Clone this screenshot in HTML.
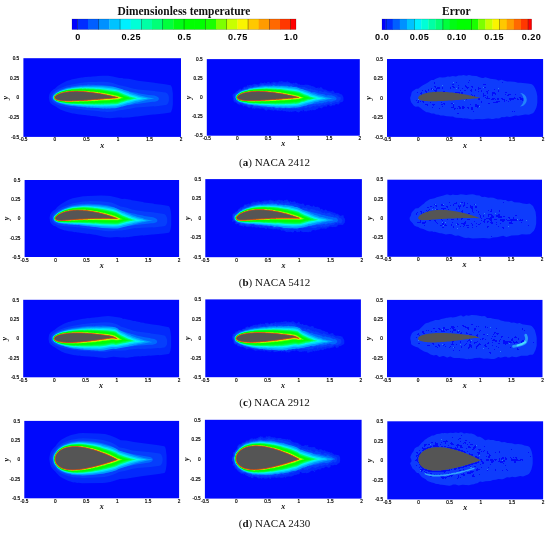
<!DOCTYPE html>
<html><head><meta charset="utf-8"><title>Figure</title>
<style>
html,body{margin:0;padding:0;background:#fff}
svg{display:block}
.tk text{font-family:"Liberation Sans",sans-serif;font-size:4.7px;fill:#000;stroke:#000;stroke-width:0.18px}
.ax{font-family:"Liberation Serif",serif;font-style:italic;font-weight:bold;font-size:8px;fill:#111}
.ttl{font-family:"Liberation Serif",serif;font-weight:bold;font-size:11.45px;fill:#111}
.cbl{font-family:"Liberation Sans",sans-serif;font-weight:bold;font-size:9.1px;letter-spacing:0.5px;fill:#000}
.cap{font-family:"Liberation Serif",serif;font-size:11.0px;fill:#111}
</style></head><body>
<svg width="550" height="534" viewBox="0 0 550 534">
<rect width="550" height="534" fill="#fff"/>
<rect x="72.00" y="19.0" width="5.63" height="10.5" fill="#0000ff"/>
<rect x="77.33" y="19.0" width="10.97" height="10.5" fill="#002dff"/>
<rect x="88.00" y="19.0" width="10.97" height="10.5" fill="#005fff"/>
<rect x="98.67" y="19.0" width="10.97" height="10.5" fill="#0091ff"/>
<rect x="109.33" y="19.0" width="10.97" height="10.5" fill="#00c3ff"/>
<rect x="120.00" y="19.0" width="10.97" height="10.5" fill="#00f0ff"/>
<rect x="130.67" y="19.0" width="10.97" height="10.5" fill="#00ffd7"/>
<rect x="141.33" y="19.0" width="10.97" height="10.5" fill="#00ffa5"/>
<rect x="152.00" y="19.0" width="10.97" height="10.5" fill="#00ff78"/>
<rect x="162.67" y="19.0" width="10.97" height="10.5" fill="#00ff3c"/>
<rect x="173.33" y="19.0" width="10.97" height="10.5" fill="#00fc14"/>
<rect x="184.00" y="19.0" width="10.97" height="10.5" fill="#00ff00"/>
<rect x="194.67" y="19.0" width="10.97" height="10.5" fill="#00ff00"/>
<rect x="205.33" y="19.0" width="10.97" height="10.5" fill="#19ff00"/>
<rect x="216.00" y="19.0" width="10.97" height="10.5" fill="#7dff00"/>
<rect x="226.67" y="19.0" width="10.97" height="10.5" fill="#c8ff00"/>
<rect x="237.33" y="19.0" width="10.97" height="10.5" fill="#faf500"/>
<rect x="248.00" y="19.0" width="10.97" height="10.5" fill="#ffc800"/>
<rect x="258.67" y="19.0" width="10.97" height="10.5" fill="#ff9b00"/>
<rect x="269.33" y="19.0" width="10.97" height="10.5" fill="#ff6900"/>
<rect x="280.00" y="19.0" width="10.97" height="10.5" fill="#ff3700"/>
<rect x="290.67" y="19.0" width="5.33" height="10.5" fill="#ff0000"/>
<rect x="77.10" y="19.0" width="0.6" height="10.5" fill="#000" opacity="0.55"/>
<rect x="98.43" y="19.0" width="0.6" height="10.5" fill="#000" opacity="0.55"/>
<rect x="119.76" y="19.0" width="0.6" height="10.5" fill="#000" opacity="0.55"/>
<rect x="141.09" y="19.0" width="0.6" height="10.5" fill="#000" opacity="0.55"/>
<rect x="162.42" y="19.0" width="0.6" height="10.5" fill="#000" opacity="0.55"/>
<rect x="183.75" y="19.0" width="0.6" height="10.5" fill="#000" opacity="0.55"/>
<rect x="205.08" y="19.0" width="0.6" height="10.5" fill="#000" opacity="0.55"/>
<rect x="226.41" y="19.0" width="0.6" height="10.5" fill="#000" opacity="0.55"/>
<rect x="247.74" y="19.0" width="0.6" height="10.5" fill="#000" opacity="0.55"/>
<rect x="269.07" y="19.0" width="0.6" height="10.5" fill="#000" opacity="0.55"/>
<rect x="290.40" y="19.0" width="0.6" height="10.5" fill="#000" opacity="0.55"/>
<rect x="72.00" y="19.00" width="224.00" height="10.50" fill="none" stroke="#000" stroke-opacity="0.35" stroke-width="0.5"/>
<text class="ttl" x="184.0" y="14.6" text-anchor="middle">Dimensionless temperature</text>
<text class="cbl" x="78.0" y="40.2" text-anchor="middle">0</text>
<text class="cbl" x="131.3" y="40.2" text-anchor="middle">0.25</text>
<text class="cbl" x="184.6" y="40.2" text-anchor="middle">0.5</text>
<text class="cbl" x="237.9" y="40.2" text-anchor="middle">0.75</text>
<text class="cbl" x="291.2" y="40.2" text-anchor="middle">1.0</text>
<rect x="382.00" y="19.0" width="3.86" height="10.8" fill="#0000ff"/>
<rect x="385.56" y="19.0" width="7.43" height="10.8" fill="#002dff"/>
<rect x="392.69" y="19.0" width="7.43" height="10.8" fill="#005fff"/>
<rect x="399.82" y="19.0" width="7.43" height="10.8" fill="#0091ff"/>
<rect x="406.95" y="19.0" width="7.43" height="10.8" fill="#00c3ff"/>
<rect x="414.08" y="19.0" width="7.43" height="10.8" fill="#00f0ff"/>
<rect x="421.21" y="19.0" width="7.43" height="10.8" fill="#00ffd7"/>
<rect x="428.34" y="19.0" width="7.43" height="10.8" fill="#00ffa5"/>
<rect x="435.46" y="19.0" width="7.43" height="10.8" fill="#00ff78"/>
<rect x="442.59" y="19.0" width="7.43" height="10.8" fill="#00ff3c"/>
<rect x="449.72" y="19.0" width="7.43" height="10.8" fill="#00fc14"/>
<rect x="456.85" y="19.0" width="7.43" height="10.8" fill="#00ff00"/>
<rect x="463.98" y="19.0" width="7.43" height="10.8" fill="#00ff00"/>
<rect x="471.11" y="19.0" width="7.43" height="10.8" fill="#19ff00"/>
<rect x="478.24" y="19.0" width="7.43" height="10.8" fill="#7dff00"/>
<rect x="485.36" y="19.0" width="7.43" height="10.8" fill="#c8ff00"/>
<rect x="492.49" y="19.0" width="7.43" height="10.8" fill="#faf500"/>
<rect x="499.62" y="19.0" width="7.43" height="10.8" fill="#ffc800"/>
<rect x="506.75" y="19.0" width="7.43" height="10.8" fill="#ff9b00"/>
<rect x="513.88" y="19.0" width="7.43" height="10.8" fill="#ff6900"/>
<rect x="521.01" y="19.0" width="7.43" height="10.8" fill="#ff3700"/>
<rect x="528.14" y="19.0" width="3.56" height="10.8" fill="#ff0000"/>
<rect x="385.80" y="19.0" width="0.6" height="10.8" fill="#000" opacity="0.55"/>
<rect x="414.20" y="19.0" width="0.6" height="10.8" fill="#000" opacity="0.55"/>
<rect x="442.60" y="19.0" width="0.6" height="10.8" fill="#000" opacity="0.55"/>
<rect x="471.00" y="19.0" width="0.6" height="10.8" fill="#000" opacity="0.55"/>
<rect x="499.40" y="19.0" width="0.6" height="10.8" fill="#000" opacity="0.55"/>
<rect x="527.80" y="19.0" width="0.6" height="10.8" fill="#000" opacity="0.55"/>
<rect x="382.00" y="19.00" width="149.70" height="10.80" fill="none" stroke="#000" stroke-opacity="0.35" stroke-width="0.5"/>
<text class="ttl" x="456.3" y="14.6" text-anchor="middle">Error</text>
<text class="cbl" x="382.2" y="40.2" text-anchor="middle">0.0</text>
<text class="cbl" x="419.5" y="40.2" text-anchor="middle">0.05</text>
<text class="cbl" x="456.9" y="40.2" text-anchor="middle">0.10</text>
<text class="cbl" x="494.2" y="40.2" text-anchor="middle">0.15</text>
<text class="cbl" x="531.5" y="40.2" text-anchor="middle">0.20</text>
<rect x="23.4" y="58.2" width="157.6" height="78.7" fill="#0008fc"/>
<path d="M108.1 75.8L102.2 75.7L97.8 76.0L96.3 76.3L92.1 76.5L90.7 76.7L88.1 76.7L86.4 77.0L85.4 76.9L82.4 77.5L81.4 77.4L71.3 79.5L70.3 80.0L68.3 80.5L66.2 81.2L62.6 83.1L57.7 86.1L55.1 88.5L53.3 89.4L51.0 91.5L49.9 93.2L49.4 94.3L48.8 97.6L49.6 101.6L50.8 103.4L52.7 105.0L54.9 106.0L60.2 109.4L65.4 111.6L72.7 113.4L73.7 113.4L79.0 114.5L80.0 114.4L83.8 115.1L84.8 115.0L87.9 115.6L88.9 115.5L91.3 115.9L92.3 115.9L94.5 116.3L95.5 116.3L100.6 117.3L101.6 117.3L103.4 117.7L104.4 117.7L106.8 118.1L107.9 118.0L109.9 118.2L118.2 117.4L121.6 117.5L122.6 117.7L127.9 117.5L128.9 117.6L136.1 116.4L137.2 116.5L150.7 114.7L153.7 114.4L154.7 114.6L164.0 113.5L170.5 112.5L171.3 111.6L172.3 108.4L172.9 103.9L172.9 93.7L172.1 88.3L171.5 86.4L170.7 85.3L163.6 84.1L155.5 83.1L154.5 82.8L138.0 80.8L137.0 80.4L129.7 79.1L128.5 78.7L123.4 78.4L122.4 78.1L119.4 78.1L112.9 76.6L108.1 75.8Z" fill="#0329fc"/>
<path d="M102.8 81.7L97.8 81.7L96.3 81.9L92.1 81.9L90.7 82.1L88.1 82.1L86.4 82.3L85.4 82.3L82.4 82.8L81.4 82.7L71.3 84.4L70.3 84.9L68.3 85.2L66.2 85.8L58.8 88.7L55.5 90.7L53.5 92.3L52.5 93.4L51.4 95.5L51.0 97.6L51.6 100.3L52.3 101.4L53.7 102.8L56.1 104.2L60.2 105.8L62.0 106.3L64.4 106.7L65.4 107.1L72.7 108.4L73.7 108.3L79.0 109.2L80.0 109.1L83.8 109.8L84.8 109.7L87.9 110.2L88.9 110.2L91.3 110.5L92.3 110.5L97.6 111.1L98.6 111.1L100.6 111.4L101.6 111.4L103.4 111.7L104.4 111.6L106.8 111.9L112.3 111.7L113.3 111.4L115.1 111.3L118.2 110.5L121.6 110.1L122.6 110.1L127.9 109.1L128.9 109.1L136.1 107.5L137.2 107.6L153.7 106.2L154.7 106.4L165.6 105.1L166.7 104.7L167.5 103.9L168.1 103.0L168.7 101.4L168.9 100.5L168.9 98.8L168.9 97.1L168.7 96.2L168.1 94.6L167.5 93.7L166.7 93.0L165.8 92.6L155.5 91.3L154.5 91.0L138.0 89.6L137.0 89.3L133.9 88.7L129.9 87.8L127.7 86.9L123.4 86.1L122.4 85.7L119.4 85.2L112.9 82.9L108.1 82.1L102.8 81.7Z" fill="#063efc"/>
<path d="M97.8 84.7L96.3 84.9L93.9 84.7L90.7 84.8L88.1 84.6L86.4 84.9L85.4 84.7L82.4 85.2L81.4 85.1L71.3 86.5L70.3 86.9L68.3 87.2L66.2 87.7L59.4 90.2L56.1 92.1L54.9 93.0L53.5 94.5L52.6 96.3L52.4 97.6L52.8 99.6L53.3 100.3L54.3 101.3L56.7 102.8L60.2 104.1L62.0 104.6L64.4 104.9L65.4 105.3L72.7 106.3L73.7 106.2L79.0 106.9L80.0 106.8L83.8 107.4L84.8 107.2L87.9 107.7L88.9 107.5L91.3 107.8L92.3 107.7L94.5 108.0L95.5 107.9L97.6 108.1L98.6 108.0L100.6 108.3L101.6 108.2L103.4 108.4L104.4 108.2L106.8 108.4L112.3 108.1L113.3 107.8L115.1 107.6L118.2 106.8L121.6 106.2L122.6 106.2L127.9 105.3L128.9 105.3L136.1 103.9L137.2 104.0L152.5 101.7L154.7 101.8L157.4 100.9L158.2 100.3L158.8 99.5L158.8 98.1L158.2 97.3L157.0 96.5L154.5 95.6L148.9 94.9L138.2 93.3L137.0 92.8L129.7 91.4L128.7 91.0L123.4 90.0L122.4 89.6L119.4 89.0L113.9 86.8L110.5 86.0L102.2 84.9L97.8 84.7Z" fill="#0069ff"/>
<path d="M101.2 85.9L92.1 85.8L90.7 85.9L88.1 85.8L86.4 86.0L85.4 85.9L82.4 86.3L81.4 86.2L71.3 87.5L70.3 87.9L68.3 88.1L66.2 88.6L59.8 90.9L56.3 93.0L53.5 95.5L53.0 96.5L52.8 97.6L53.0 98.6L53.3 99.3L53.9 100.1L57.0 102.1L60.2 103.3L62.0 103.8L64.4 104.2L65.4 104.7L72.7 105.9L73.7 105.8L79.0 106.6L80.0 106.5L83.8 107.1L84.8 107.0L87.9 107.4L88.9 107.3L91.3 107.7L92.3 107.6L94.5 107.9L95.5 107.8L100.6 108.3L101.6 108.3L103.4 108.4L104.4 108.3L106.8 108.5L107.9 108.3L109.9 108.4L110.9 108.3L115.1 108.2L118.6 107.6L121.6 106.6L122.6 106.5L127.9 104.8L128.9 104.7L136.1 102.5L137.2 102.4L148.1 99.6L154.3 98.6L147.3 97.3L138.2 95.0L137.0 94.4L129.7 92.2L128.7 91.6L123.4 89.8L122.4 89.3L116.3 87.4L112.9 86.8L101.2 85.9Z" fill="#009cff"/>
<path d="M92.1 86.9L90.7 87.1L88.1 86.9L86.4 87.0L85.4 86.9L82.4 87.2L81.4 87.1L71.3 88.2L70.3 88.5L68.3 88.8L66.2 89.2L60.0 91.3L56.5 93.2L55.3 94.1L53.9 95.6L53.3 96.8L53.2 97.6L53.3 98.3L53.7 99.3L54.5 100.1L57.1 101.8L60.2 102.8L62.0 103.3L64.4 103.6L65.4 104.0L72.7 105.1L73.7 105.0L79.0 105.6L80.0 105.5L83.8 106.0L84.8 105.8L87.9 106.2L88.9 106.1L91.3 106.4L92.3 106.3L94.5 106.5L95.5 106.4L97.6 106.7L98.6 106.5L100.6 106.8L101.6 106.7L103.4 106.8L104.4 106.6L106.8 106.8L107.9 106.6L112.3 106.6L113.3 106.4L115.1 106.4L117.8 105.9L121.6 104.9L122.6 104.8L127.9 103.1L128.9 103.0L136.1 100.8L137.2 100.8L143.4 99.3L148.1 98.6L143.6 97.8L138.0 96.5L137.0 96.0L129.7 93.9L128.7 93.3L123.4 91.6L122.4 91.0L115.3 88.9L112.9 88.5L102.2 87.3L92.1 86.9Z" fill="#00d2ff"/>
<path d="M88.3 87.7L86.4 87.8L85.4 87.7L82.4 87.9L81.4 87.8L71.3 88.7L70.3 89.0L68.3 89.2L67.2 89.6L66.2 89.7L62.6 90.7L60.0 91.6L57.5 92.9L55.3 94.4L54.1 95.8L53.6 96.8L53.5 97.6L53.8 98.8L54.6 99.8L57.3 101.5L62.0 102.9L64.4 103.2L65.4 103.6L72.7 104.5L73.7 104.3L79.0 104.9L80.0 104.7L83.8 105.1L84.8 105.0L87.9 105.3L88.9 105.1L91.3 105.4L92.3 105.3L94.5 105.5L95.5 105.3L97.6 105.6L98.6 105.4L100.6 105.6L101.6 105.5L103.4 105.6L104.4 105.4L106.8 105.5L107.9 105.4L109.9 105.5L110.9 105.3L115.1 105.1L118.8 104.4L121.6 103.5L122.6 103.4L127.9 101.7L128.9 101.6L136.5 99.4L137.2 99.5L142.4 98.6L137.6 97.7L137.0 97.3L129.9 95.3L128.7 94.7L123.4 92.9L122.4 92.4L114.7 90.0L102.2 88.4L97.8 88.0L96.3 88.2L93.9 87.9L90.7 87.9L88.3 87.7Z" fill="#00faf0"/>
<path d="M89.9 88.5L88.1 88.3L86.4 88.4L85.4 88.2L82.4 88.5L81.4 88.3L71.3 89.1L70.3 89.4L68.3 89.6L67.4 89.9L66.2 90.0L60.2 91.8L56.7 93.6L55.5 94.5L54.3 95.9L53.8 97.0L53.8 98.1L54.1 99.0L54.7 99.7L57.3 101.3L62.0 102.6L64.6 102.9L65.4 103.2L72.7 104.0L73.7 103.8L79.0 104.3L80.0 104.1L83.8 104.5L84.8 104.3L87.9 104.6L88.9 104.4L91.3 104.6L92.3 104.5L94.5 104.7L95.5 104.5L100.6 104.7L101.6 104.5L103.4 104.7L104.4 104.5L109.9 104.5L110.9 104.2L115.1 104.2L117.8 103.9L121.6 102.4L122.6 102.3L127.9 100.5L128.9 100.4L133.1 99.2L137.0 98.3L129.5 96.4L128.7 95.9L123.4 94.1L122.4 93.5L119.4 92.3L118.4 91.8L116.7 91.3L102.2 89.2L97.8 88.8L96.3 88.9L93.9 88.6L89.9 88.5Z" fill="#00ff78"/>
<path d="M88.7 89.0L86.4 89.0L85.4 88.8L82.4 89.0L81.4 88.8L71.3 89.5L70.5 89.8L68.3 89.9L67.4 90.2L66.2 90.3L60.2 92.1L59.6 92.5L59.0 92.6L56.7 93.8L55.5 94.7L54.4 96.0L54.0 97.0L54.0 98.1L54.3 99.0L56.1 100.5L57.7 101.2L62.0 102.3L64.6 102.6L65.4 102.9L72.7 103.5L73.7 103.4L79.0 103.8L80.0 103.6L83.8 103.9L84.8 103.7L87.9 103.9L88.9 103.8L94.5 103.9L95.5 103.8L97.6 103.9L98.6 103.7L100.6 103.9L101.6 103.7L103.4 103.8L104.4 103.6L106.8 103.7L107.9 103.5L109.9 103.6L110.9 103.3L115.1 103.2L117.6 102.9L118.8 102.6L121.6 101.5L122.6 101.3L128.1 99.4L128.9 99.4L133.5 98.3L129.3 97.3L128.7 96.9L123.4 95.1L122.4 94.5L119.4 93.3L118.4 92.7L116.5 92.2L102.2 89.9L97.8 89.5L96.3 89.6L93.9 89.2L88.7 89.0Z" fill="#00ff3c"/>
<path d="M88.5 89.5L86.4 89.5L85.4 89.3L82.4 89.4L81.4 89.2L71.3 89.8L70.5 90.1L68.3 90.2L67.4 90.5L66.2 90.6L60.3 92.3L56.8 94.0L55.5 94.9L54.6 96.0L54.1 97.3L54.1 97.8L54.4 98.8L54.9 99.4L56.3 100.4L57.7 101.0L58.4 101.1L60.2 101.7L61.4 101.8L62.0 102.1L64.6 102.3L65.4 102.6L72.7 103.1L73.7 102.9L79.0 103.3L80.0 103.1L83.8 103.3L84.8 103.1L87.9 103.3L88.9 103.1L91.3 103.3L92.3 103.1L94.5 103.2L95.5 103.1L97.6 103.2L98.6 103.0L100.6 103.1L101.6 102.9L103.4 103.0L104.4 102.8L109.9 102.7L113.3 102.3L115.1 102.4L118.6 101.8L121.6 100.6L122.6 100.5L128.5 98.5L128.9 98.7L130.7 98.3L129.1 98.0L128.7 97.6L123.4 96.0L122.4 95.3L119.4 94.1L118.4 93.5L116.3 93.0L102.2 90.6L97.8 90.1L96.3 90.2L93.9 89.8L90.7 89.7L88.5 89.5Z" fill="#00fc14"/>
<path d="M81.6 89.7L71.3 90.1L70.5 90.4L68.3 90.5L67.6 90.8L66.2 90.8L60.4 92.4L58.0 93.5L55.6 95.0L54.7 96.1L54.2 97.3L54.4 98.6L55.1 99.4L57.5 100.8L59.6 101.2L60.2 101.5L61.4 101.6L62.0 101.9L64.8 102.0L65.4 102.3L72.7 102.7L73.5 102.5L79.0 102.8L79.8 102.6L83.8 102.8L84.8 102.6L87.9 102.8L88.9 102.6L91.3 102.7L92.3 102.5L94.5 102.6L95.5 102.4L97.6 102.5L98.6 102.3L100.6 102.4L101.6 102.2L103.4 102.3L104.4 102.1L109.9 101.9L113.3 101.5L115.1 101.6L118.6 101.0L121.8 99.8L122.6 99.7L126.0 98.6L128.7 98.1L126.2 97.5L123.2 96.6L122.4 96.1L119.4 94.9L118.4 94.3L112.9 93.0L102.2 91.3L97.8 90.7L96.3 90.8L93.9 90.4L90.7 90.3L88.1 89.9L86.2 89.9L85.4 89.7L82.2 89.9L81.6 89.7Z" fill="#00ff00"/>
<path d="M85.8 90.2L82.2 90.3L81.4 90.0L71.3 90.4L70.7 90.7L68.3 90.8L67.6 91.0L66.2 91.1L60.4 92.6L59.8 93.0L59.2 93.1L58.6 93.6L58.0 93.7L56.9 94.2L56.1 95.0L55.7 95.0L54.7 96.3L54.3 97.3L54.3 97.8L54.5 98.6L55.1 99.3L56.3 100.1L57.5 100.6L59.6 101.0L60.2 101.3L61.4 101.4L62.0 101.6L64.8 101.8L65.4 102.1L72.7 102.4L73.5 102.2L79.0 102.4L79.8 102.2L83.8 102.4L84.6 102.1L87.9 102.3L88.7 102.1L91.3 102.2L92.3 102.0L94.5 102.0L95.5 101.8L97.6 101.9L98.6 101.7L100.6 101.8L101.6 101.6L106.8 101.5L107.9 101.2L112.3 101.1L113.3 100.8L115.1 100.9L117.8 100.5L122.0 99.1L122.6 99.2L127.1 98.1L123.0 97.1L122.4 96.6L119.4 95.6L118.4 95.0L112.9 93.7L99.4 91.4L97.8 91.2L96.1 91.3L92.1 90.7L90.5 90.7L88.1 90.3L86.2 90.4L85.8 90.2Z" fill="#00ff00"/>
<path d="M81.6 90.7L71.3 90.8L70.7 91.1L68.3 91.1L67.9 91.4L66.2 91.4L65.8 91.7L64.9 91.7L64.6 92.0L63.8 92.0L63.4 92.3L62.6 92.3L62.2 92.5L60.6 92.8L59.8 93.3L59.4 93.4L58.6 93.9L58.2 93.9L56.9 94.5L56.1 95.2L55.8 95.3L54.9 96.4L54.5 97.6L54.7 98.5L55.2 99.1L57.7 100.5L58.6 100.5L60.2 101.0L61.6 101.1L62.0 101.3L64.8 101.4L65.4 101.7L72.7 101.9L73.3 101.6L79.0 101.8L79.6 101.6L83.8 101.7L84.4 101.4L87.9 101.5L88.5 101.3L91.3 101.3L91.9 101.1L94.5 101.2L95.3 100.9L97.6 101.0L98.4 100.8L103.4 100.6L104.2 100.4L109.9 100.2L110.7 100.0L112.3 100.0L113.1 99.7L115.1 99.8L115.9 99.5L117.8 99.4L122.2 98.1L122.6 98.3L123.6 98.1L122.6 97.8L122.4 97.5L119.1 96.5L118.4 96.1L115.4 95.3L104.4 93.1L103.6 93.1L102.2 92.7L100.0 92.5L99.4 92.2L98.4 92.3L97.8 92.0L95.9 92.1L93.9 91.6L92.7 91.6L92.1 91.4L90.3 91.4L88.1 91.0L86.0 91.0L85.4 90.8L82.0 90.8L81.6 90.7Z" fill="#7dff00"/>
<path d="M85.4 91.2L81.8 91.3L81.4 91.0L71.3 91.1L70.9 91.4L68.3 91.4L67.9 91.7L66.2 91.7L65.8 92.0L65.0 92.0L64.8 92.2L63.8 92.2L63.6 92.5L62.6 92.5L62.4 92.8L61.6 92.8L61.4 93.0L60.6 93.0L60.0 93.5L59.4 93.5L58.8 94.0L58.2 94.0L57.5 94.5L57.1 94.5L56.7 94.8L56.3 95.3L55.9 95.3L54.9 96.5L54.5 97.6L54.7 97.8L54.7 98.3L55.3 99.1L56.5 99.8L57.5 100.1L57.7 100.3L58.8 100.3L59.0 100.6L60.0 100.6L60.2 100.8L61.8 100.8L62.0 101.1L65.0 101.1L65.4 101.4L72.7 101.5L73.1 101.3L79.0 101.3L79.4 101.1L83.8 101.1L84.4 100.9L87.9 100.9L88.5 100.7L91.3 100.7L91.9 100.5L94.5 100.5L95.1 100.3L97.6 100.3L98.2 100.1L103.4 99.9L104.0 99.6L106.8 99.7L107.5 99.4L109.9 99.4L110.5 99.2L112.3 99.2L112.9 98.9L115.1 99.0L115.7 98.7L117.8 98.6L118.2 98.3L118.6 98.4L121.0 97.9L121.0 97.7L119.0 97.3L118.4 96.9L117.4 96.7L115.1 96.0L114.3 95.9L112.9 95.5L112.1 95.5L110.5 95.0L106.2 94.3L104.4 93.8L103.6 93.8L102.2 93.3L101.4 93.3L99.4 92.8L98.4 92.9L97.8 92.6L95.9 92.6L93.9 92.1L92.5 92.1L92.1 91.9L90.1 91.9L89.7 91.7L88.5 91.7L88.1 91.5L85.8 91.5L85.4 91.2Z" fill="#faf500"/>
<path d="M81.4 91.2L71.3 91.2L71.1 91.5L68.3 91.5L68.1 91.7L66.2 91.7L66.0 92.0L65.0 92.0L64.8 92.3L62.6 92.5L62.4 92.8L61.6 92.8L61.4 93.0L60.6 93.0L60.0 93.5L59.4 93.5L58.8 94.0L58.2 94.0L57.5 94.5L57.1 94.5L56.3 95.3L55.9 95.3L54.9 96.5L54.5 97.6L54.7 97.8L54.7 98.3L55.3 99.1L56.5 99.8L56.9 99.8L57.7 100.3L60.0 100.6L60.2 100.8L61.8 100.8L62.0 101.1L65.2 101.1L65.4 101.3L72.7 101.3L72.9 101.1L79.0 101.1L79.2 100.8L83.8 100.8L84.0 100.6L87.9 100.6L88.1 100.3L91.3 100.3L91.5 100.1L94.5 100.1L94.9 99.8L97.6 99.9L98.0 99.6L100.6 99.6L101.0 99.4L103.4 99.4L103.8 99.1L106.8 99.1L107.3 98.9L109.9 98.9L110.3 98.7L112.3 98.7L112.7 98.4L115.1 98.4L115.5 98.2L117.8 98.1L118.5 97.6L118.4 97.3L117.2 97.2L114.9 96.4L114.1 96.4L112.9 95.9L111.9 95.9L110.5 95.4L109.7 95.4L109.3 95.2L107.3 94.9L106.8 94.7L106.0 94.7L105.6 94.4L104.8 94.4L104.4 94.2L103.4 94.2L102.2 93.7L99.8 93.5L99.4 93.2L98.2 93.2L97.8 93.0L95.7 93.0L95.3 92.7L94.1 92.7L93.9 92.5L92.3 92.5L92.1 92.2L89.9 92.3L89.7 92.0L88.3 92.0L88.1 91.7L85.6 91.7L85.4 91.5L81.6 91.5L81.4 91.2ZM119.4 97.7L118.6 97.6L118.4 97.8L118.6 98.0L119.4 97.9L119.4 97.7Z" fill="#ff9b00"/>
<path d="M81.4 91.2L71.3 91.2L71.1 91.5L68.3 91.5L68.1 91.7L66.2 91.7L66.0 92.0L65.0 92.0L64.8 92.3L62.6 92.5L62.4 92.8L61.6 92.8L61.4 93.0L60.6 93.0L60.0 93.5L59.4 93.5L58.8 94.0L58.2 94.0L57.5 94.5L57.1 94.5L56.3 95.3L55.9 95.3L54.9 96.5L54.5 97.6L54.7 97.8L54.7 98.3L55.3 99.1L56.5 99.8L57.5 100.1L57.7 100.3L58.8 100.3L59.0 100.6L60.0 100.6L60.2 100.8L61.8 100.8L62.0 101.1L65.2 101.1L65.4 101.3L72.7 101.3L72.9 101.1L79.0 101.1L79.2 100.8L83.8 100.8L84.0 100.6L87.9 100.6L88.1 100.3L91.3 100.3L91.5 100.1L94.5 100.1L94.7 99.8L97.6 99.8L97.8 99.6L100.6 99.6L100.8 99.3L103.4 99.3L103.6 99.1L106.8 99.1L107.0 98.8L109.9 98.8L110.1 98.6L112.3 98.6L112.5 98.3L115.1 98.3L115.3 98.1L117.8 98.1L118.4 97.6L118.0 97.3L116.9 97.3L116.7 97.0L115.9 97.0L115.7 96.8L115.1 96.8L114.9 96.5L113.9 96.5L113.7 96.3L113.1 96.3L112.9 96.0L111.7 96.0L111.5 95.8L110.7 95.8L110.5 95.5L109.5 95.5L109.3 95.3L107.0 95.0L106.8 94.8L104.6 94.5L104.4 94.3L103.2 94.3L103.0 94.0L102.4 94.0L102.2 93.8L101.0 93.8L100.8 93.5L99.6 93.5L99.4 93.3L98.0 93.3L97.8 93.0L95.5 93.0L95.3 92.8L94.1 92.8L93.9 92.5L92.3 92.5L92.1 92.3L89.9 92.3L89.7 92.0L88.3 92.0L88.1 91.7L85.6 91.7L85.4 91.5L81.6 91.5L81.4 91.2Z" fill="#ff3700"/>
<path d="M54.9 97.6L54.9 97.4L54.9 97.2L55.0 97.0L55.0 96.8L55.1 96.6L55.2 96.4L55.4 96.2L55.5 96.1L55.7 95.9L55.9 95.7L56.1 95.5L56.3 95.3L56.6 95.1L56.9 94.9L57.2 94.8L57.5 94.6L57.8 94.4L58.2 94.2L58.6 94.1L59.0 93.9L59.4 93.7L59.9 93.6L60.3 93.4L60.8 93.2L61.3 93.1L61.8 92.9L62.4 92.8L62.9 92.7L63.5 92.5L64.1 92.4L64.7 92.3L65.3 92.2L65.9 92.1L66.6 92.0L67.3 91.9L67.9 91.8L68.6 91.7L69.3 91.6L70.1 91.6L70.8 91.5L71.5 91.5L72.3 91.4L73.0 91.4L73.8 91.4L74.6 91.3L75.4 91.3L76.2 91.3L77.0 91.3L77.8 91.3L78.6 91.4L79.4 91.4L80.2 91.4L81.1 91.5L81.9 91.5L82.7 91.6L83.6 91.6L84.4 91.7L85.2 91.7L86.1 91.8L86.9 91.9L87.7 92.0L88.6 92.1L89.4 92.2L90.2 92.3L91.1 92.4L91.9 92.5L92.7 92.6L93.5 92.7L94.3 92.8L95.1 92.9L95.9 93.0L96.7 93.1L97.5 93.3L98.3 93.4L99.1 93.5L99.8 93.6L100.6 93.8L101.3 93.9L102.0 94.0L102.8 94.1L103.5 94.3L104.2 94.4L104.8 94.5L105.5 94.7L106.2 94.8L106.8 94.9L107.4 95.1L108.0 95.2L108.6 95.3L109.2 95.4L109.8 95.6L110.3 95.7L110.9 95.8L111.4 95.9L111.9 96.0L112.4 96.2L112.8 96.3L113.3 96.4L113.7 96.5L114.1 96.6L114.5 96.7L114.9 96.8L115.2 96.8L115.5 96.9L115.9 97.0L116.1 97.1L116.4 97.1L116.7 97.2L116.9 97.3L117.1 97.3L117.3 97.4L117.4 97.4L117.6 97.4L117.7 97.5L117.8 97.5L117.9 97.5L117.9 97.5L117.9 97.5L118.0 97.6L117.9 97.6L117.9 97.6L117.9 97.6L117.8 97.6L117.7 97.6L117.6 97.6L117.4 97.6L117.3 97.6L117.1 97.6L116.9 97.7L116.6 97.7L116.4 97.7L116.1 97.7L115.8 97.8L115.5 97.8L115.2 97.8L114.8 97.8L114.4 97.9L114.0 97.9L113.6 98.0L113.2 98.0L112.8 98.0L112.3 98.1L111.8 98.1L111.3 98.2L110.8 98.2L110.2 98.3L109.7 98.3L109.1 98.4L108.5 98.4L107.9 98.5L107.3 98.5L106.7 98.6L106.0 98.6L105.4 98.7L104.7 98.7L104.0 98.8L103.3 98.9L102.6 98.9L101.9 99.0L101.2 99.0L100.4 99.1L99.7 99.2L98.9 99.2L98.1 99.3L97.4 99.4L96.6 99.4L95.8 99.5L95.0 99.5L94.2 99.6L93.4 99.7L92.6 99.7L91.8 99.8L90.9 99.9L90.1 99.9L89.3 100.0L88.5 100.0L87.6 100.1L86.8 100.2L86.0 100.2L85.2 100.3L84.3 100.3L83.5 100.4L82.7 100.4L81.9 100.5L81.1 100.5L80.2 100.5L79.4 100.6L78.6 100.6L77.8 100.6L77.1 100.7L76.3 100.7L75.5 100.7L74.7 100.8L74.0 100.8L73.2 100.8L72.5 100.8L71.8 100.9L71.1 100.9L70.3 100.9L69.7 100.9L69.0 100.9L68.3 100.9L67.6 100.9L67.0 100.9L66.3 100.9L65.7 100.8L65.1 100.8L64.5 100.8L63.9 100.8L63.4 100.7L62.8 100.7L62.3 100.6L61.8 100.6L61.3 100.5L60.8 100.5L60.3 100.4L59.9 100.3L59.4 100.2L59.0 100.1L58.6 100.1L58.2 100.0L57.9 99.9L57.5 99.8L57.2 99.6L56.9 99.5L56.6 99.4L56.4 99.3L56.1 99.1L55.9 99.0L55.7 98.9L55.6 98.7L55.4 98.6L55.3 98.4L55.2 98.2L55.1 98.1L55.0 97.9L54.9 97.7L54.9 97.6Z" fill="#555" stroke="#cc5c14" stroke-width="0.55"/>
<rect x="206.8" y="59.1" width="153.0" height="76.6" fill="#0008fc"/>
<path d="M287.6 81.2L287.4 81.0L286.8 81.8L286.0 81.8L285.3 82.1L284.5 81.8L283.7 82.0L282.9 81.3L282.1 81.6L281.3 81.0L280.6 81.5L279.2 81.3L278.2 82.2L276.8 82.6L276.0 82.1L274.9 82.2L274.1 81.5L273.9 81.5L272.9 82.2L271.3 82.5L270.6 83.4L269.2 81.9L267.6 81.9L267.2 82.2L267.0 83.0L266.4 83.3L265.6 83.0L264.9 82.2L263.5 82.9L262.5 83.0L261.9 83.0L261.3 82.6L260.9 82.6L260.0 83.1L259.6 83.7L258.2 84.4L254.1 83.7L253.6 83.9L252.9 84.6L251.9 84.7L251.3 85.2L250.2 84.7L249.3 84.9L248.6 85.4L247.2 85.1L247.1 86.1L246.9 86.4L244.1 86.7L243.7 87.1L243.0 88.3L241.3 89.8L240.9 89.8L240.8 88.8L239.8 88.7L239.4 89.5L238.6 89.8L238.0 90.5L237.4 90.7L236.6 91.4L235.8 91.6L235.6 92.5L235.0 93.1L234.1 93.4L233.7 93.8L232.9 94.2L232.6 95.4L232.8 97.4L233.3 98.4L233.3 99.9L233.8 101.6L234.9 102.4L235.6 102.3L236.6 103.1L237.2 104.0L239.0 104.5L239.6 105.3L240.1 105.3L240.5 104.3L240.9 104.3L242.7 105.4L243.3 106.5L243.7 106.4L244.1 105.9L244.5 105.7L245.6 106.3L246.6 106.4L247.6 107.3L249.6 107.9L250.3 107.8L251.1 107.1L251.3 107.1L252.2 108.4L252.5 108.7L253.5 108.2L254.5 108.9L255.6 108.3L257.2 108.6L258.2 108.3L259.2 108.8L260.4 108.7L261.1 108.9L261.9 108.2L262.7 108.7L263.7 108.7L265.3 110.2L266.4 110.7L266.8 110.6L268.2 109.2L269.0 109.7L269.8 109.7L270.9 110.2L272.1 110.2L273.5 110.8L275.1 110.0L275.8 110.4L276.6 110.3L277.4 111.1L278.2 110.6L278.6 110.6L279.0 111.2L279.4 111.0L279.8 110.5L280.6 110.9L281.5 110.6L282.5 110.6L283.3 111.2L285.3 111.1L286.6 111.7L287.2 111.4L288.4 111.4L288.8 111.7L289.2 112.3L289.8 111.7L290.4 111.5L291.3 112.0L292.9 111.4L293.9 111.6L295.5 111.1L296.2 111.3L296.8 112.0L297.6 111.9L298.4 112.4L299.8 111.7L300.8 110.8L302.1 111.0L302.7 111.5L303.1 111.6L303.2 111.1L302.7 110.8L302.6 110.4L302.7 109.9L302.9 109.6L303.3 109.7L303.9 110.4L304.5 111.6L305.5 111.1L306.1 111.7L307.2 110.8L309.8 110.6L310.6 110.1L311.7 110.6L312.1 110.4L312.3 109.9L312.5 109.8L314.1 110.2L315.3 110.0L315.9 109.7L316.5 109.1L318.0 108.8L318.6 107.6L319.0 107.4L319.4 107.5L320.0 108.0L320.8 108.0L321.6 108.6L323.7 106.5L325.7 106.5L326.5 107.1L326.6 106.5L327.0 106.1L327.2 105.4L328.4 105.0L328.8 105.0L329.4 105.8L330.0 105.7L330.6 106.4L331.3 106.2L332.1 105.5L333.1 105.1L333.5 105.3L333.8 105.7L334.1 105.8L335.5 104.2L336.9 104.1L337.8 104.5L338.6 104.4L339.6 103.3L340.0 102.4L342.3 102.1L343.4 100.8L343.5 98.3L343.3 96.9L342.0 94.4L340.8 94.3L340.0 93.7L339.2 93.6L338.6 92.7L337.8 93.1L337.4 93.0L337.0 92.6L335.9 93.0L335.3 93.0L334.7 92.5L334.3 92.4L333.9 91.6L332.9 90.6L332.5 90.6L331.6 91.2L330.8 91.2L330.0 91.4L329.0 91.3L327.8 90.9L326.1 89.8L323.0 89.3L321.7 87.5L321.4 87.2L320.0 87.3L319.5 88.1L319.2 88.3L319.0 88.3L318.7 87.6L318.4 87.5L316.6 88.1L316.1 87.9L313.9 86.4L313.1 86.5L312.3 85.9L311.5 86.2L311.0 85.6L310.0 85.6L308.0 84.7L306.8 84.8L305.9 84.5L303.9 84.9L301.3 84.7L300.8 85.0L299.6 84.5L299.2 84.0L299.0 84.0L298.6 84.5L298.2 84.4L296.8 82.8L296.1 82.9L295.3 82.6L294.7 83.4L293.7 82.7L292.9 83.3L292.3 83.4L290.0 82.7L289.0 82.0L288.2 82.0L287.6 81.2ZM318.9 88.6L318.8 89.1L318.5 89.1L318.4 88.5L318.8 88.3L318.9 88.6Z" fill="#0329fc"/>
<path d="M274.7 82.9L274.3 82.8L272.9 83.4L272.4 83.9L271.5 84.2L270.4 84.2L269.4 83.8L268.6 83.9L268.2 84.3L267.0 83.9L265.5 84.5L264.9 84.9L264.3 84.3L263.7 84.3L262.9 83.7L262.1 83.7L261.3 84.4L260.5 84.4L258.8 85.7L256.6 84.7L255.8 85.3L254.7 85.3L252.9 86.8L252.5 86.8L251.6 86.1L250.9 85.9L250.4 86.1L250.1 86.8L249.8 87.1L249.4 87.1L248.4 86.7L247.8 87.3L246.6 87.3L246.2 87.9L245.4 88.2L245.1 88.2L244.9 87.5L244.5 87.4L244.1 87.8L244.0 88.8L243.7 89.2L241.9 89.8L241.1 90.3L240.1 89.8L239.8 90.4L239.2 90.6L238.6 91.2L237.6 91.6L237.4 93.2L237.2 93.4L236.4 92.7L234.9 94.0L234.5 96.0L234.1 96.7L233.9 99.4L236.0 101.5L236.4 102.3L237.4 102.7L238.6 103.7L239.0 103.6L239.6 102.9L241.9 104.0L242.7 103.7L243.5 104.6L246.6 105.2L247.4 105.8L248.3 105.7L248.5 106.0L248.0 106.7L248.7 107.2L249.2 107.1L249.6 106.4L250.3 106.1L251.1 105.4L251.5 105.2L252.6 105.7L253.1 107.2L253.5 107.4L254.3 107.3L255.2 107.6L256.0 107.3L257.4 107.6L258.0 107.4L259.0 107.9L260.0 107.4L260.9 107.4L262.1 107.2L262.9 108.0L264.5 107.9L265.1 107.6L265.3 107.7L265.6 108.9L266.0 109.1L266.4 108.4L267.0 108.1L268.2 108.3L269.0 108.6L270.2 108.2L271.3 108.6L271.9 109.2L272.3 109.3L273.7 108.0L275.1 108.9L276.0 109.0L277.6 110.1L278.4 109.8L278.7 108.9L279.4 108.6L280.5 108.7L281.1 109.5L281.7 109.7L282.5 109.1L284.7 109.2L285.1 108.4L285.5 108.2L286.0 108.4L286.6 109.4L287.4 109.2L288.4 109.3L290.6 108.9L291.3 108.5L292.1 109.1L292.9 108.7L293.9 109.0L294.5 108.4L295.3 108.9L296.2 108.6L297.8 108.9L298.4 109.1L299.1 108.7L301.5 108.2L303.3 107.5L304.1 107.5L305.7 108.2L306.2 108.2L308.4 106.6L309.8 107.9L310.2 108.0L310.5 107.7L310.8 106.4L311.0 106.4L311.3 107.0L311.5 107.1L313.1 106.0L314.5 106.2L315.5 106.5L316.3 106.0L316.7 105.3L317.0 105.1L317.5 105.3L317.6 106.0L318.4 105.8L319.4 106.0L320.6 105.7L321.0 105.2L322.3 105.3L323.1 104.3L323.9 105.1L324.5 105.3L325.3 104.7L326.1 104.6L327.8 103.7L328.6 103.6L329.4 103.2L330.3 104.0L331.6 104.4L331.8 104.3L332.2 103.0L333.3 102.8L334.1 103.2L335.3 101.8L335.7 101.8L336.3 102.2L337.0 101.9L337.8 102.5L338.2 102.4L338.6 102.1L338.9 101.3L340.2 100.3L340.8 99.0L340.8 97.8L340.2 96.6L339.4 96.9L338.6 96.4L338.0 96.7L337.7 96.4L337.7 95.7L337.0 95.5L336.3 94.8L334.9 94.6L333.9 94.0L333.1 94.3L332.3 93.9L331.8 94.1L331.4 93.1L328.6 92.8L327.6 92.4L327.0 92.6L326.5 91.8L325.7 91.7L325.1 91.3L324.3 91.3L323.7 91.9L323.3 91.8L322.5 92.1L322.1 92.0L321.0 91.1L320.6 91.0L320.2 91.3L319.4 91.0L319.0 91.2L318.8 91.8L318.4 92.0L318.2 91.8L318.0 90.8L317.6 90.6L316.8 90.9L316.3 90.1L315.5 90.2L314.5 89.6L312.9 90.0L312.3 89.1L311.9 89.2L311.5 89.8L311.4 89.5L311.5 89.1L311.0 88.5L310.4 88.5L309.2 89.0L307.8 88.7L307.0 88.1L306.1 87.9L304.5 87.1L303.9 87.2L303.1 86.9L301.9 87.3L301.3 87.3L300.0 86.8L298.8 86.9L298.0 86.8L296.2 85.8L294.9 86.0L293.9 85.3L292.9 85.1L292.3 84.4L291.7 84.1L290.5 84.4L289.2 83.1L288.4 83.7L287.4 83.4L286.0 83.6L284.5 83.5L283.9 83.1L283.1 83.7L281.9 83.6L281.3 83.9L279.8 83.6L279.2 84.1L278.2 83.6L277.6 84.1L277.0 84.3L276.2 84.2L275.3 83.2L274.7 82.9ZM334.4 101.8L334.3 102.5L333.9 102.5L333.9 101.8L334.1 101.7L334.4 101.8Z" fill="#063efc"/>
<path d="M273.9 85.1L273.1 85.0L272.1 85.5L271.3 85.7L270.4 85.3L268.0 85.6L266.0 85.2L264.9 85.6L263.3 85.3L261.3 85.6L258.8 86.4L255.1 86.5L252.7 87.5L249.6 87.8L247.4 88.9L244.3 89.6L239.6 91.4L239.0 92.4L238.2 92.5L237.4 93.8L236.2 94.3L235.4 95.6L235.2 97.4L235.8 98.6L236.2 100.2L237.2 100.8L238.0 101.7L241.1 103.0L243.1 103.2L243.7 103.7L247.2 104.5L248.2 104.9L249.8 105.0L251.3 104.7L253.5 105.2L254.7 105.7L255.6 105.6L256.6 105.7L257.4 105.5L261.9 106.2L266.4 106.3L267.6 106.9L270.4 106.8L271.7 107.2L273.1 106.8L274.3 106.7L275.1 106.8L276.0 107.5L276.8 107.4L277.4 107.6L279.2 107.2L281.9 107.2L283.1 107.8L284.3 107.3L285.9 107.0L289.2 107.9L291.0 107.2L293.1 107.2L296.1 106.6L298.4 106.4L299.4 106.1L302.1 105.8L302.9 105.9L303.9 105.5L306.1 105.7L308.2 104.8L310.8 104.6L313.7 104.0L314.9 104.2L316.3 103.6L317.2 103.8L319.0 103.5L320.0 103.1L321.0 103.5L323.1 102.9L324.5 102.3L325.9 102.4L328.2 101.3L330.4 101.7L332.3 101.5L333.3 100.8L334.9 100.5L335.9 100.0L336.5 99.3L336.5 98.0L334.7 96.4L331.2 95.2L329.8 95.5L328.2 94.9L326.6 95.4L325.7 95.2L324.7 94.6L322.5 94.0L321.0 93.9L320.0 93.4L319.2 93.7L314.7 92.1L312.3 92.1L311.5 92.3L310.4 91.4L308.8 91.0L308.2 90.6L307.0 90.6L306.2 90.2L304.9 90.2L302.1 89.4L300.4 89.7L298.6 88.6L297.5 88.3L296.2 87.6L295.3 87.6L294.5 87.2L293.3 87.3L291.0 86.2L289.8 86.7L289.0 86.3L288.4 86.3L287.0 85.6L284.7 85.7L283.7 85.4L282.9 85.7L282.1 85.3L281.3 85.5L280.6 85.4L279.8 85.8L278.8 85.3L276.6 85.6L276.0 85.8L273.9 85.1Z" fill="#0069ff"/>
<path d="M273.9 85.8L273.5 85.7L270.7 86.3L269.8 86.0L268.6 86.3L265.8 86.1L263.5 86.2L255.1 87.4L252.3 88.1L249.8 88.3L248.4 88.8L247.4 89.5L245.8 89.7L242.1 91.0L239.8 92.2L239.2 92.9L236.3 94.9L235.7 95.9L235.5 97.4L236.5 99.6L237.4 100.2L238.8 101.5L239.8 102.0L243.3 102.9L244.3 103.4L246.6 103.9L248.4 104.6L251.4 104.8L254.7 105.6L257.4 105.6L260.7 106.2L265.8 106.6L266.4 106.5L267.6 106.9L268.8 107.1L270.4 106.9L271.5 107.3L273.7 107.1L275.1 107.4L275.8 107.7L277.6 107.8L279.8 107.6L283.1 108.1L285.5 107.7L289.2 108.1L294.1 107.6L295.5 107.7L296.8 107.4L297.6 107.5L298.8 107.2L299.2 107.3L301.7 106.4L303.1 106.2L303.9 105.7L306.1 105.4L308.2 104.4L311.2 103.9L313.1 103.2L314.1 102.6L318.4 101.8L319.8 101.1L323.1 100.8L325.5 100.2L327.0 99.4L330.4 99.1L332.1 98.6L333.9 98.6L333.9 98.2L332.1 98.2L326.6 97.2L323.9 96.6L322.9 96.1L321.0 95.4L319.6 95.3L317.8 94.9L317.0 94.4L314.1 93.4L311.4 92.9L309.4 91.7L308.4 91.7L307.8 91.2L307.0 91.1L306.1 90.5L304.7 90.1L302.9 89.2L300.6 88.7L296.6 87.3L294.5 87.0L293.3 87.1L290.8 86.6L290.0 86.8L288.6 86.7L287.2 86.3L286.2 86.4L281.9 86.0L280.6 86.0L280.0 86.2L276.6 86.1L276.0 86.2L275.3 86.0L274.5 86.1L273.9 85.8Z" fill="#009cff"/>
<path d="M270.0 87.1L269.6 87.0L268.2 87.3L267.0 87.1L264.7 87.0L262.5 87.4L258.2 87.7L253.3 88.3L252.3 88.7L250.2 88.8L248.4 89.3L247.4 89.9L245.6 90.2L242.5 91.3L241.7 91.7L241.1 91.8L237.8 94.1L236.3 95.7L235.9 96.7L235.8 97.4L236.0 98.1L236.3 98.9L236.9 99.6L238.4 100.9L239.6 101.6L241.7 102.0L244.5 103.0L246.6 103.3L248.8 104.0L252.0 104.3L254.7 104.8L255.8 104.6L259.8 105.1L261.7 105.0L262.9 105.3L269.0 105.6L269.8 105.8L272.7 106.0L273.7 105.8L275.8 106.2L280.9 106.2L283.9 106.5L285.7 106.2L287.8 106.5L291.7 106.2L293.1 106.2L294.1 106.0L295.9 106.0L298.2 105.7L303.6 104.3L304.6 103.8L311.5 102.0L315.5 100.7L317.2 100.6L323.7 99.0L324.7 98.9L325.5 98.6L327.8 98.4L327.8 98.3L325.5 98.2L321.2 97.0L318.4 96.6L317.0 95.9L310.6 94.1L309.0 93.2L303.9 91.6L302.9 91.0L300.2 90.4L298.2 89.4L295.3 88.7L290.6 88.2L288.4 88.2L286.8 87.8L284.3 87.5L282.9 87.6L281.9 87.3L277.6 87.4L275.3 87.2L270.6 87.3L270.0 87.1Z" fill="#00d2ff"/>
<path d="M267.2 87.8L263.1 87.9L253.3 88.8L252.3 89.1L249.8 89.4L248.4 89.8L247.6 90.2L246.0 90.4L244.5 90.9L241.1 92.1L237.8 94.4L236.6 95.7L236.1 96.9L236.2 97.9L236.5 98.9L237.0 99.5L239.6 101.3L243.5 102.2L244.3 102.6L246.6 102.8L247.6 103.3L249.0 103.5L254.7 104.1L255.6 103.9L260.7 104.5L261.7 104.4L265.5 104.8L267.4 104.7L269.6 104.9L270.4 104.7L272.7 105.1L274.3 105.0L275.8 105.2L277.4 105.0L278.8 105.2L280.6 105.0L284.5 105.2L285.5 105.0L287.8 105.2L288.8 105.0L290.8 105.1L294.1 104.7L295.9 104.8L296.8 104.5L299.2 104.2L302.1 103.2L303.1 103.1L306.8 101.8L309.2 101.4L315.5 99.4L316.6 99.2L317.2 99.4L319.4 98.9L322.3 98.4L317.6 97.5L317.0 97.1L310.6 95.4L306.2 93.6L303.9 92.9L302.9 92.3L300.0 91.5L299.0 91.0L294.4 89.8L287.6 89.1L281.9 88.4L271.1 87.9L268.0 88.0L267.2 87.8Z" fill="#00faf0"/>
<path d="M271.5 88.5L269.2 88.4L268.0 88.6L267.0 88.3L264.1 88.5L263.1 88.4L253.3 89.2L252.3 89.5L250.3 89.6L248.4 90.1L247.6 90.5L245.8 90.7L241.3 92.3L238.0 94.4L236.7 95.9L236.3 96.9L236.3 97.9L236.6 98.7L237.2 99.4L239.8 101.1L243.5 101.9L244.3 102.3L246.7 102.6L247.6 102.9L253.7 103.6L255.6 103.4L260.7 104.0L261.7 103.8L265.5 104.1L270.4 104.0L271.5 104.2L273.7 104.2L275.8 104.4L276.8 104.2L278.8 104.4L279.8 104.2L281.7 104.3L282.7 104.2L284.5 104.3L285.5 104.1L287.8 104.2L288.8 104.0L290.8 104.2L291.7 103.9L294.1 103.7L295.5 103.9L298.4 103.5L302.1 102.1L304.1 101.7L308.0 100.3L309.8 100.0L312.7 99.1L317.1 98.1L313.5 97.4L309.8 96.4L308.4 95.6L304.5 94.3L302.9 93.4L299.0 91.8L295.1 90.9L280.6 89.0L277.6 89.0L276.6 88.8L271.5 88.5Z" fill="#00ff78"/>
<path d="M271.1 89.0L263.1 88.9L253.3 89.5L252.5 89.8L250.3 90.0L246.0 91.0L242.5 92.1L239.2 93.8L238.0 94.6L237.0 95.8L236.5 96.9L236.4 97.6L236.8 98.6L237.4 99.4L239.8 100.9L243.5 101.7L244.3 102.0L246.8 102.3L247.6 102.6L253.9 103.2L255.6 103.0L260.7 103.4L261.7 103.3L265.5 103.6L266.4 103.4L269.4 103.6L270.4 103.4L272.7 103.6L273.7 103.4L275.8 103.7L276.8 103.5L278.8 103.6L279.8 103.4L284.5 103.5L285.5 103.3L290.8 103.3L291.7 103.0L294.3 102.8L295.9 103.0L298.2 102.6L299.6 102.3L302.1 101.1L303.5 100.9L308.6 99.1L309.2 99.2L313.7 98.2L309.6 97.2L309.0 96.8L303.9 95.0L302.9 94.4L300.0 93.2L299.0 92.7L293.9 91.5L285.1 90.4L281.9 89.8L279.0 89.5L277.6 89.7L276.6 89.4L272.1 89.2L271.1 89.0Z" fill="#00ff3c"/>
<path d="M270.0 89.5L268.0 89.6L267.0 89.3L264.1 89.5L263.1 89.3L253.3 89.8L252.5 90.1L250.3 90.3L249.6 90.6L246.0 91.2L241.3 92.8L238.0 94.8L237.1 95.9L236.6 97.2L236.6 97.6L236.9 98.6L237.4 99.2L238.8 100.2L240.0 100.8L242.5 101.4L243.7 101.5L244.3 101.8L246.8 102.0L247.6 102.3L254.1 102.8L255.6 102.6L260.7 103.0L261.7 102.8L265.5 103.0L266.4 102.8L269.4 103.0L270.4 102.8L272.7 103.0L273.7 102.8L275.8 103.0L276.8 102.8L278.8 102.9L279.8 102.7L281.7 102.8L282.7 102.6L284.5 102.7L285.5 102.5L287.8 102.6L288.8 102.4L290.8 102.4L291.7 102.2L293.1 102.2L294.1 102.0L295.9 102.1L299.2 101.5L302.1 100.3L303.1 100.2L308.4 98.5L308.8 98.4L309.2 98.5L311.0 98.2L309.4 97.8L309.0 97.5L303.9 95.9L302.9 95.2L299.0 93.5L293.7 92.2L279.0 90.1L277.6 90.2L275.3 89.8L274.5 89.9L270.0 89.5Z" fill="#00fc14"/>
<path d="M267.0 89.8L263.9 89.9L263.1 89.7L253.3 90.1L252.5 90.4L250.3 90.5L249.8 90.8L248.4 90.9L247.8 91.2L244.9 91.7L241.5 92.9L238.2 94.8L237.2 96.0L236.7 97.2L236.7 97.6L237.0 98.5L237.5 99.1L238.8 100.0L240.1 100.6L242.5 101.2L243.7 101.3L244.3 101.6L247.0 101.7L247.6 102.0L250.9 102.3L254.7 102.4L255.4 102.2L260.7 102.5L261.5 102.3L265.5 102.5L266.4 102.3L269.4 102.5L270.4 102.3L275.8 102.3L276.8 102.1L278.8 102.2L279.8 102.0L281.7 102.1L282.7 101.9L284.5 102.0L285.5 101.8L290.8 101.7L294.1 101.3L295.9 101.3L299.2 100.8L302.3 99.6L303.1 99.5L306.6 98.3L309.0 97.9L306.2 97.3L303.7 96.5L302.9 96.0L299.0 94.3L293.7 93.0L279.0 90.7L277.6 90.8L275.3 90.4L274.5 90.5L269.6 89.9L267.8 90.0L267.0 89.8Z" fill="#00ff00"/>
<path d="M267.4 90.3L263.9 90.3L263.1 90.1L253.3 90.4L252.7 90.7L250.3 90.8L249.8 91.1L248.4 91.1L247.8 91.4L246.0 91.6L242.7 92.6L239.4 94.2L238.6 94.9L238.2 94.9L237.2 96.2L236.8 97.5L237.1 98.4L237.6 99.1L238.8 99.9L240.1 100.5L242.5 101.0L243.7 101.1L244.3 101.4L247.0 101.5L247.6 101.8L254.7 102.1L255.4 101.9L260.7 102.1L261.5 101.9L265.5 102.1L266.2 101.9L269.4 102.0L270.2 101.8L275.8 101.8L276.8 101.6L281.7 101.5L282.7 101.3L287.8 101.2L294.1 100.6L295.9 100.6L299.2 100.1L302.3 99.0L303.1 99.0L305.9 98.1L307.4 97.9L303.5 96.9L302.9 96.5L300.6 95.7L299.0 94.9L293.7 93.6L279.0 91.2L277.4 91.3L275.3 90.9L274.3 90.9L273.5 90.7L271.9 90.7L269.6 90.3L267.8 90.4L267.4 90.3Z" fill="#00ff00"/>
<path d="M263.3 90.7L253.3 90.8L252.7 91.1L250.3 91.2L250.0 91.4L248.4 91.5L248.0 91.7L247.2 91.7L246.8 92.0L245.9 92.0L245.6 92.2L244.9 92.3L244.5 92.5L242.9 92.8L242.1 93.3L241.7 93.3L238.2 95.2L237.4 96.3L237.0 97.4L237.2 98.2L237.7 98.9L240.1 100.2L242.1 100.5L242.5 100.8L243.9 100.8L244.3 101.1L247.2 101.1L247.6 101.4L254.7 101.6L255.2 101.4L260.7 101.5L261.3 101.3L265.5 101.4L266.0 101.2L269.4 101.3L270.0 101.0L272.7 101.1L273.3 100.9L275.8 100.9L276.6 100.7L278.8 100.7L279.6 100.5L284.5 100.4L285.3 100.2L290.8 100.0L291.5 99.7L295.9 99.6L296.6 99.3L298.4 99.2L302.7 98.0L303.1 98.1L304.1 98.0L303.1 97.7L302.9 97.4L299.7 96.4L299.0 96.0L296.1 95.2L289.0 93.8L284.7 93.1L283.3 92.7L282.5 92.7L280.6 92.2L279.6 92.2L279.0 92.0L277.2 92.1L275.3 91.6L271.7 91.4L269.6 91.0L267.6 91.0L267.0 90.8L263.7 90.9L263.3 90.7Z" fill="#7dff00"/>
<path d="M267.0 91.3L263.5 91.3L263.1 91.0L253.3 91.2L252.9 91.4L250.3 91.4L250.0 91.7L248.4 91.7L248.0 92.0L247.2 92.0L246.8 92.2L246.0 92.2L245.8 92.4L244.9 92.5L244.7 92.7L243.9 92.7L243.7 93.0L242.9 93.0L242.3 93.5L241.7 93.5L241.1 94.0L240.5 94.0L240.0 94.5L239.2 94.7L238.8 95.2L238.4 95.2L237.4 96.4L237.0 97.4L237.2 97.6L237.2 98.1L237.8 98.9L239.0 99.6L240.0 99.9L240.1 100.1L242.3 100.3L242.5 100.6L244.1 100.6L244.3 100.8L247.2 100.9L247.6 101.1L254.7 101.2L255.1 101.0L260.7 101.1L261.1 100.9L265.5 100.9L266.0 100.7L269.4 100.7L270.0 100.5L272.7 100.5L273.3 100.3L275.8 100.3L276.4 100.1L278.8 100.1L279.4 99.9L281.7 99.9L282.3 99.6L284.5 99.7L285.1 99.4L287.8 99.4L288.4 99.2L290.8 99.2L291.3 99.0L293.1 99.0L293.7 98.7L295.9 98.8L296.4 98.5L298.4 98.4L298.8 98.2L299.2 98.3L301.5 97.7L301.5 97.5L299.6 97.1L299.0 96.7L295.9 95.9L285.5 93.7L284.7 93.7L283.3 93.3L282.5 93.3L280.6 92.8L279.6 92.8L279.0 92.6L277.2 92.6L275.3 92.1L273.9 92.1L273.5 91.9L271.5 91.9L271.1 91.7L270.0 91.7L269.6 91.5L267.4 91.5L267.0 91.3Z" fill="#faf500"/>
<path d="M263.1 91.3L253.3 91.3L253.1 91.5L250.3 91.5L250.2 91.8L248.4 91.8L248.2 92.0L247.2 92.0L247.0 92.2L244.9 92.5L244.7 92.7L243.9 92.7L243.7 93.0L242.9 93.0L242.3 93.5L241.7 93.5L241.1 94.0L240.5 94.0L240.0 94.5L239.6 94.5L238.8 95.2L238.4 95.2L237.4 96.4L237.0 97.4L237.2 97.6L237.2 98.1L237.8 98.9L239.0 99.6L240.0 99.9L240.1 100.1L241.1 100.1L241.3 100.3L242.3 100.3L242.5 100.6L244.1 100.6L244.3 100.8L247.4 100.8L247.6 101.1L254.7 101.1L254.9 100.8L260.7 100.8L260.9 100.6L265.5 100.6L265.6 100.3L269.4 100.3L269.6 100.1L272.7 100.1L272.9 99.9L275.8 99.9L276.2 99.6L278.8 99.7L279.2 99.4L281.7 99.4L282.1 99.2L284.5 99.2L284.9 98.9L287.8 98.9L288.2 98.7L290.8 98.7L291.1 98.5L293.1 98.5L293.5 98.2L295.9 98.3L296.2 98.0L298.4 97.9L299.2 97.4L299.0 97.2L297.8 97.0L295.7 96.3L294.9 96.3L293.7 95.8L292.7 95.8L291.3 95.3L290.6 95.3L290.2 95.1L289.4 95.1L289.0 94.9L288.2 94.9L287.8 94.6L287.0 94.6L285.5 94.1L284.5 94.1L283.3 93.7L280.9 93.4L280.6 93.2L279.4 93.2L279.0 92.9L277.0 93.0L276.6 92.7L275.5 92.7L275.3 92.5L273.7 92.5L273.5 92.2L271.3 92.2L271.1 92.0L269.8 92.0L269.6 91.8L267.2 91.8L267.0 91.5L263.3 91.5L263.1 91.3ZM300.0 97.6L299.2 97.4L299.0 97.6L299.2 97.8L300.0 97.7L300.0 97.6Z" fill="#ff9b00"/>
<path d="M263.1 91.3L253.3 91.3L253.1 91.5L250.3 91.5L250.2 91.8L248.4 91.8L248.2 92.0L247.2 92.0L247.0 92.2L244.9 92.5L244.7 92.7L243.9 92.7L243.7 93.0L242.9 93.0L242.3 93.5L241.7 93.5L241.1 94.0L240.5 94.0L240.0 94.5L239.6 94.5L238.8 95.2L238.4 95.2L237.4 96.4L237.0 97.4L237.2 97.6L237.2 98.1L237.8 98.9L239.0 99.6L240.0 99.9L240.1 100.1L242.3 100.3L242.5 100.6L244.1 100.6L244.3 100.8L247.4 100.8L247.6 101.1L254.7 101.1L254.9 100.8L260.7 100.8L260.9 100.6L265.5 100.6L265.6 100.3L269.4 100.3L269.6 100.1L272.7 100.1L272.9 99.9L275.8 99.9L276.0 99.6L278.8 99.6L279.0 99.4L281.7 99.4L281.9 99.1L284.5 99.1L284.7 98.9L287.8 98.9L288.0 98.6L290.8 98.6L291.0 98.4L293.1 98.4L293.3 98.1L295.9 98.1L296.1 97.9L298.4 97.9L299.0 97.4L298.6 97.2L297.6 97.2L297.4 96.9L296.6 96.9L296.4 96.7L295.9 96.7L295.7 96.4L294.7 96.4L294.5 96.2L293.9 96.2L293.7 95.9L292.5 95.9L292.3 95.7L291.5 95.7L291.3 95.4L290.4 95.4L290.2 95.2L289.2 95.2L289.0 94.9L288.0 94.9L287.8 94.7L286.8 94.7L286.6 94.5L285.7 94.5L285.5 94.2L284.3 94.2L284.1 94.0L283.5 94.0L283.3 93.7L280.8 93.5L280.6 93.2L279.2 93.2L279.0 93.0L276.8 93.0L276.6 92.7L275.5 92.7L275.3 92.5L273.7 92.5L273.5 92.2L271.3 92.2L271.1 92.0L269.8 92.0L269.6 91.8L267.2 91.8L267.0 91.5L263.3 91.5L263.1 91.3Z" fill="#ff3700"/>
<path d="M237.4 97.4L237.4 97.2L237.4 97.0L237.5 96.9L237.5 96.7L237.6 96.5L237.7 96.3L237.8 96.1L238.0 96.0L238.1 95.8L238.3 95.6L238.5 95.4L238.8 95.2L239.0 95.0L239.3 94.9L239.6 94.7L239.9 94.5L240.2 94.3L240.6 94.2L241.0 94.0L241.4 93.8L241.8 93.7L242.2 93.5L242.7 93.4L243.1 93.2L243.6 93.1L244.1 92.9L244.6 92.8L245.2 92.6L245.7 92.5L246.3 92.4L246.9 92.3L247.5 92.2L248.1 92.1L248.7 92.0L249.4 91.9L250.0 91.8L250.7 91.7L251.4 91.6L252.1 91.6L252.8 91.5L253.5 91.5L254.2 91.4L255.0 91.4L255.7 91.4L256.5 91.3L257.3 91.3L258.0 91.3L258.8 91.3L259.6 91.3L260.4 91.4L261.2 91.4L262.0 91.4L262.8 91.5L263.6 91.5L264.4 91.6L265.2 91.6L266.0 91.7L266.8 91.8L267.6 91.8L268.4 91.9L269.3 92.0L270.1 92.1L270.9 92.2L271.7 92.2L272.5 92.3L273.3 92.4L274.1 92.5L274.9 92.6L275.7 92.8L276.4 92.9L277.2 93.0L278.0 93.1L278.7 93.2L279.5 93.3L280.2 93.5L281.0 93.6L281.7 93.7L282.4 93.8L283.1 94.0L283.8 94.1L284.5 94.2L285.2 94.3L285.9 94.5L286.5 94.6L287.1 94.7L287.8 94.9L288.4 95.0L289.0 95.1L289.6 95.2L290.1 95.3L290.7 95.5L291.2 95.6L291.7 95.7L292.2 95.8L292.7 95.9L293.2 96.0L293.6 96.1L294.1 96.2L294.5 96.3L294.9 96.4L295.2 96.5L295.6 96.6L295.9 96.7L296.3 96.8L296.6 96.9L296.8 96.9L297.1 97.0L297.3 97.1L297.5 97.1L297.7 97.2L297.9 97.2L298.1 97.3L298.2 97.3L298.3 97.3L298.4 97.4L298.5 97.4L298.6 97.4L298.6 97.4L298.6 97.4L298.6 97.4L298.6 97.4L298.5 97.4L298.4 97.4L298.3 97.4L298.2 97.4L298.1 97.5L297.9 97.5L297.7 97.5L297.5 97.5L297.3 97.5L297.1 97.5L296.8 97.6L296.5 97.6L296.2 97.6L295.9 97.7L295.5 97.7L295.2 97.7L294.8 97.8L294.4 97.8L294.0 97.8L293.5 97.9L293.1 97.9L292.6 98.0L292.1 98.0L291.6 98.0L291.1 98.1L290.6 98.1L290.0 98.2L289.4 98.2L288.8 98.3L288.3 98.3L287.6 98.4L287.0 98.5L286.4 98.5L285.7 98.6L285.1 98.6L284.4 98.7L283.7 98.7L283.0 98.8L282.3 98.9L281.6 98.9L280.8 99.0L280.1 99.0L279.4 99.1L278.6 99.2L277.8 99.2L277.1 99.3L276.3 99.3L275.5 99.4L274.7 99.5L274.0 99.5L273.2 99.6L272.4 99.6L271.6 99.7L270.8 99.8L270.0 99.8L269.2 99.9L268.4 99.9L267.6 100.0L266.8 100.0L266.0 100.1L265.2 100.1L264.4 100.2L263.6 100.2L262.8 100.3L262.0 100.3L261.2 100.3L260.4 100.4L259.7 100.4L258.9 100.4L258.1 100.5L257.4 100.5L256.6 100.5L255.9 100.6L255.2 100.6L254.5 100.6L253.8 100.6L253.1 100.6L252.4 100.6L251.7 100.6L251.0 100.6L250.4 100.6L249.7 100.6L249.1 100.6L248.5 100.6L247.9 100.6L247.3 100.6L246.7 100.5L246.1 100.5L245.6 100.5L245.1 100.4L244.5 100.4L244.0 100.3L243.6 100.3L243.1 100.2L242.6 100.2L242.2 100.1L241.8 100.0L241.4 99.9L241.0 99.8L240.6 99.7L240.3 99.6L239.9 99.5L239.6 99.4L239.3 99.3L239.1 99.2L238.8 99.1L238.6 99.0L238.4 98.8L238.2 98.7L238.0 98.5L237.9 98.4L237.7 98.2L237.6 98.1L237.5 97.9L237.5 97.7L237.4 97.6L237.4 97.4Z" fill="#555" stroke="#cc5c14" stroke-width="0.55"/>
<rect x="387.0" y="59.0" width="156.1" height="77.9" fill="#020cfc"/>
<path d="M470.3 75.2L468.7 75.1L466.5 75.8L463.6 75.1L461.2 75.6L458.4 75.4L456.0 76.5L452.6 76.0L449.8 76.8L448.4 76.4L447.6 76.4L445.4 77.3L442.4 77.4L439.8 77.2L436.2 78.6L433.6 80.0L431.4 79.9L427.5 82.7L422.9 85.2L421.0 86.5L418.2 88.8L416.4 88.8L415.8 89.0L412.2 91.5L411.5 92.7L411.1 95.0L410.1 98.0L410.6 100.4L411.1 102.2L413.6 105.6L414.2 106.0L415.6 106.7L418.2 106.5L420.2 107.7L423.0 110.1L426.4 112.3L427.6 112.2L429.0 112.5L431.4 113.5L434.0 113.6L435.8 114.4L438.6 114.7L440.4 115.5L443.2 115.5L446.8 116.3L447.8 116.3L450.4 116.6L452.0 116.4L453.0 116.6L454.2 117.3L456.2 117.8L461.4 117.9L463.4 118.4L464.4 118.3L466.3 118.6L467.3 118.6L472.7 119.5L476.1 118.9L478.9 118.9L482.5 119.3L488.1 118.5L490.5 118.7L491.5 119.1L493.3 119.1L496.1 118.2L498.1 118.4L499.7 118.2L501.3 117.3L501.9 117.1L504.1 117.3L506.9 116.6L509.5 116.9L510.9 116.8L515.1 115.4L516.1 115.4L517.1 115.7L518.5 115.7L525.1 114.4L528.9 114.7L530.9 114.1L532.9 113.2L533.9 112.3L534.7 111.0L536.3 107.8L536.9 105.4L537.3 102.7L537.3 96.0L536.5 91.9L535.3 88.7L534.1 86.6L532.9 85.1L532.1 84.5L531.1 84.1L527.7 83.5L520.5 82.7L517.9 82.7L515.5 82.0L513.9 81.7L510.3 81.5L507.3 81.6L504.3 80.8L501.7 79.8L498.5 80.4L496.1 79.5L490.5 78.7L485.3 77.3L483.3 78.0L482.1 78.1L478.9 77.1L476.5 76.0L471.9 75.7L470.3 75.2Z" fill="#0e3cfc"/>
<path d="M469 80h1v1h-1zM434 82h1v1h-1zM456 82h1v1h-1zM468 82h1v1h-1zM502 82h1v1h-1zM434 83h1v1h-1zM452 84h2v1h-2zM483 84h3v1h-3zM458 85h1v1h-1zM465 85h1v1h-1zM434 86h2v1h-2zM452 86h2v1h-2zM465 86h2v1h-2zM471 86h2v1h-2zM435 87h1v1h-1zM437 87h3v1h-3zM442 87h1v1h-1zM450 87h1v1h-1zM453 87h2v1h-2zM458 87h1v1h-1zM466 87h3v1h-3zM472 87h1v1h-1zM478 87h1v1h-1zM484 87h2v1h-2zM431 88h1v1h-1zM436 88h4v1h-4zM442 88h1v1h-1zM450 88h1v1h-1zM458 88h1v1h-1zM462 88h1v1h-1zM467 88h1v1h-1zM478 88h3v1h-3zM428 89h1v1h-1zM431 89h1v1h-1zM433 89h1v1h-1zM436 89h1v1h-1zM471 89h1v1h-1zM475 89h1v1h-1zM478 89h1v1h-1zM494 89h1v1h-1zM422 90h1v1h-1zM425 90h1v1h-1zM428 90h1v1h-1zM434 90h3v1h-3zM460 90h1v1h-1zM464 90h2v1h-2zM470 90h2v1h-2zM475 90h1v1h-1zM481 90h1v1h-1zM488 90h1v1h-1zM498 90h1v1h-1zM425 91h2v1h-2zM435 91h2v1h-2zM443 91h2v1h-2zM471 91h1v1h-1zM478 91h1v1h-1zM481 91h1v1h-1zM486 91h2v1h-2zM498 91h1v1h-1zM417 92h1v1h-1zM421 92h1v1h-1zM426 92h1v1h-1zM455 92h5v1h-5zM461 92h2v1h-2zM487 92h1v1h-1zM492 92h3v1h-3zM505 92h2v1h-2zM420 93h2v1h-2zM459 93h1v1h-1zM461 93h2v1h-2zM483 93h1v1h-1zM487 93h1v1h-1zM492 93h4v1h-4zM421 94h1v1h-1zM471 94h1v1h-1zM483 94h1v1h-1zM492 94h1v1h-1zM495 94h1v1h-1zM505 94h1v1h-1zM508 94h3v1h-3zM515 94h1v1h-1zM472 95h1v1h-1zM474 95h1v1h-1zM483 95h3v1h-3zM492 95h1v1h-1zM507 95h2v1h-2zM474 96h1v1h-1zM483 96h1v1h-1zM487 96h1v1h-1zM485 97h1v1h-1zM487 97h1v1h-1zM514 97h1v1h-1zM519 97h2v1h-2zM478 98h2v1h-2zM486 98h4v1h-4zM492 98h3v1h-3zM497 98h2v1h-2zM501 98h2v1h-2zM509 98h7v1h-7zM517 98h1v1h-1zM520 98h4v1h-4zM466 99h1v1h-1zM478 99h2v1h-2zM491 99h3v1h-3zM495 99h1v1h-1zM497 99h2v1h-2zM502 99h3v1h-3zM509 99h5v1h-5zM517 99h2v1h-2zM520 99h4v1h-4zM416 100h1v1h-1zM418 100h1v1h-1zM504 100h1v1h-1zM506 100h1v1h-1zM510 100h1v1h-1zM522 100h2v1h-2zM418 101h1v1h-1zM420 101h1v1h-1zM422 101h2v1h-2zM481 101h1v1h-1zM496 101h4v1h-4zM504 101h1v1h-1zM508 101h1v1h-1zM417 102h2v1h-2zM423 102h1v1h-1zM430 102h1v1h-1zM441 102h1v1h-1zM481 102h1v1h-1zM493 102h5v1h-5zM443 103h2v1h-2zM451 103h2v1h-2zM488 103h2v1h-2zM425 104h3v1h-3zM432 104h3v1h-3zM441 104h2v1h-2zM444 104h1v1h-1zM453 104h1v1h-1zM470 104h1v1h-1zM475 104h2v1h-2zM524 104h1v1h-1zM427 105h1v1h-1zM433 105h1v1h-1zM453 105h1v1h-1zM475 105h4v1h-4zM442 106h1v1h-1zM453 106h1v1h-1zM458 106h2v1h-2zM462 106h2v1h-2zM475 106h4v1h-4zM432 107h1v1h-1zM451 107h3v1h-3zM459 107h2v1h-2zM462 107h3v1h-3zM467 107h2v1h-2zM471 107h2v1h-2zM477 107h1v1h-1zM439 108h1v1h-1zM454 108h2v1h-2zM457 108h1v1h-1zM459 108h2v1h-2zM462 108h2v1h-2zM468 108h1v1h-1zM471 108h2v1h-2zM454 109h1v1h-1zM471 109h2v1h-2zM473 111h1v1h-1zM512 111h1v1h-1zM514 111h1v1h-1zM457 113h2v1h-2z" fill="#020cfc"/>
<path d="M453 82h1v1h-1zM442 85h1v1h-1zM483 87h1v1h-1zM456 88h1v1h-1zM498 88h1v1h-1zM432 89h1v1h-1zM418 99h1v1h-1zM464 100h1v1h-1zM453 103h1v1h-1zM479 106h1v1h-1z" fill="#2a7cfa"/>
<path d="M520.1 93.0a6.7 6.7 0 0 1 0 13.4a8.2 8.2 0 0 0 0 -13.4z" fill="#2484fa"/>
<path d="M418.2 98.0L418.2 97.8L418.2 97.6L418.3 97.4L418.3 97.2L418.4 97.0L418.5 96.8L418.7 96.7L418.8 96.5L419.0 96.3L419.2 96.1L419.4 95.9L419.6 95.7L419.9 95.6L420.2 95.4L420.5 95.2L420.8 95.0L421.1 94.8L421.5 94.7L421.9 94.5L422.3 94.3L422.7 94.2L423.1 94.0L423.6 93.8L424.1 93.7L424.6 93.5L425.1 93.4L425.6 93.3L426.2 93.1L426.7 93.0L427.3 92.9L427.9 92.7L428.5 92.6L429.1 92.5L429.8 92.4L430.4 92.3L431.1 92.2L431.8 92.2L432.5 92.1L433.2 92.0L433.9 92.0L434.7 91.9L435.4 91.9L436.2 91.8L436.9 91.8L437.7 91.8L438.5 91.8L439.3 91.8L440.1 91.8L440.9 91.8L441.7 91.8L442.5 91.8L443.3 91.9L444.1 91.9L444.9 92.0L445.8 92.0L446.6 92.1L447.4 92.1L448.2 92.2L449.1 92.3L449.9 92.4L450.7 92.4L451.5 92.5L452.4 92.6L453.2 92.7L454.0 92.8L454.8 92.9L455.6 93.0L456.5 93.1L457.3 93.2L458.1 93.3L458.8 93.5L459.6 93.6L460.4 93.7L461.2 93.8L461.9 93.9L462.7 94.1L463.4 94.2L464.2 94.3L464.9 94.5L465.6 94.6L466.3 94.7L467.0 94.8L467.7 95.0L468.3 95.1L469.0 95.2L469.6 95.4L470.2 95.5L470.8 95.6L471.4 95.7L472.0 95.9L472.6 96.0L473.1 96.1L473.6 96.2L474.2 96.3L474.6 96.5L475.1 96.6L475.6 96.7L476.0 96.8L476.4 96.9L476.8 97.0L477.2 97.1L477.6 97.2L477.9 97.2L478.3 97.3L478.6 97.4L478.9 97.5L479.1 97.5L479.4 97.6L479.6 97.7L479.8 97.7L480.0 97.8L480.1 97.8L480.3 97.8L480.4 97.9L480.5 97.9L480.6 97.9L480.6 97.9L480.6 97.9L480.7 98.0L480.6 98.0L480.6 98.0L480.6 98.0L480.5 98.0L480.4 98.0L480.3 98.0L480.1 98.0L480.0 98.0L479.8 98.0L479.6 98.1L479.3 98.1L479.1 98.1L478.8 98.1L478.5 98.2L478.2 98.2L477.9 98.2L477.5 98.2L477.2 98.3L476.8 98.3L476.4 98.4L475.9 98.4L475.5 98.4L475.0 98.5L474.6 98.5L474.1 98.6L473.5 98.6L473.0 98.7L472.5 98.7L471.9 98.8L471.3 98.8L470.7 98.9L470.1 98.9L469.5 99.0L468.8 99.0L468.2 99.1L467.5 99.1L466.8 99.2L466.1 99.3L465.4 99.3L464.7 99.4L464.0 99.4L463.3 99.5L462.5 99.6L461.8 99.6L461.0 99.7L460.3 99.7L459.5 99.8L458.7 99.9L457.9 99.9L457.1 100.0L456.3 100.1L455.5 100.1L454.7 100.2L453.9 100.2L453.1 100.3L452.3 100.4L451.5 100.4L450.6 100.5L449.8 100.5L449.0 100.6L448.2 100.6L447.4 100.7L446.5 100.7L445.7 100.8L444.9 100.8L444.1 100.9L443.3 100.9L442.5 100.9L441.7 101.0L440.9 101.0L440.2 101.0L439.4 101.1L438.6 101.1L437.9 101.1L437.1 101.2L436.4 101.2L435.6 101.2L434.9 101.2L434.2 101.2L433.5 101.2L432.8 101.2L432.1 101.3L431.5 101.2L430.8 101.2L430.2 101.2L429.5 101.2L428.9 101.2L428.3 101.2L427.7 101.2L427.1 101.1L426.6 101.1L426.0 101.0L425.5 101.0L425.0 100.9L424.5 100.9L424.0 100.8L423.6 100.8L423.1 100.7L422.7 100.6L422.3 100.5L421.9 100.4L421.5 100.3L421.2 100.2L420.8 100.1L420.5 100.0L420.2 99.9L419.9 99.8L419.7 99.7L419.4 99.5L419.2 99.4L419.0 99.3L418.8 99.1L418.7 99.0L418.6 98.8L418.5 98.6L418.4 98.5L418.3 98.3L418.2 98.1L418.2 98.0Z" fill="#555"/>
<g class="tk"><text x="19.2" y="60.0" text-anchor="end">0.5</text><text x="19.2" y="80.0" text-anchor="end">0.25</text><text x="19.2" y="99.0" text-anchor="end">0</text><text x="19.2" y="119.0" text-anchor="end">-0.25</text><text x="19.2" y="139.0" text-anchor="end">-0.5</text><text x="23.4" y="141.0" text-anchor="middle">-0.5</text><text x="54.9" y="141.0" text-anchor="middle">0</text><text x="86.4" y="141.0" text-anchor="middle">0.5</text><text x="118.0" y="141.0" text-anchor="middle">1</text><text x="149.5" y="141.0" text-anchor="middle">1.5</text><text x="181.0" y="141.0" text-anchor="middle">2</text></g><text class="ax" x="102.2" y="148.0" text-anchor="middle">x</text><text class="ax" transform="translate(7.6 97.6) rotate(-90)" text-anchor="middle">y</text>
<g class="tk"><text x="202.6" y="61.0" text-anchor="end">0.5</text><text x="202.6" y="80.0" text-anchor="end">0.25</text><text x="202.6" y="99.0" text-anchor="end">0</text><text x="202.6" y="118.0" text-anchor="end">-0.25</text><text x="202.6" y="137.0" text-anchor="end">-0.5</text><text x="206.8" y="140.0" text-anchor="middle">-0.5</text><text x="237.4" y="140.0" text-anchor="middle">0</text><text x="268.0" y="140.0" text-anchor="middle">0.5</text><text x="298.6" y="140.0" text-anchor="middle">1</text><text x="329.2" y="140.0" text-anchor="middle">1.5</text><text x="359.8" y="140.0" text-anchor="middle">2</text></g><text class="ax" x="283.3" y="146.0" text-anchor="middle">x</text><text class="ax" transform="translate(191.0 97.4) rotate(-90)" text-anchor="middle">y</text>
<g class="tk"><text x="382.8" y="61.0" text-anchor="end">0.5</text><text x="382.8" y="80.0" text-anchor="end">0.25</text><text x="382.8" y="100.0" text-anchor="end">0</text><text x="382.8" y="119.0" text-anchor="end">-0.25</text><text x="382.8" y="139.0" text-anchor="end">-0.5</text><text x="387.0" y="141.0" text-anchor="middle">-0.5</text><text x="418.2" y="141.0" text-anchor="middle">0</text><text x="449.4" y="141.0" text-anchor="middle">0.5</text><text x="480.7" y="141.0" text-anchor="middle">1</text><text x="511.9" y="141.0" text-anchor="middle">1.5</text><text x="543.1" y="141.0" text-anchor="middle">2</text></g><text class="ax" x="465.1" y="148.0" text-anchor="middle">x</text><text class="ax" transform="translate(371.2 98.0) rotate(-90)" text-anchor="middle">y</text>
<rect x="24.6" y="180.0" width="154.5" height="77.0" fill="#0008fc"/>
<path d="M101.1 195.5L88.0 195.9L84.0 196.3L83.0 196.3L72.7 198.3L69.2 199.6L65.8 201.3L62.4 203.2L60.5 204.5L57.3 207.1L55.5 209.2L53.5 210.5L51.9 211.8L50.1 214.8L49.5 218.0L50.1 221.7L50.3 222.2L51.5 223.9L53.5 225.8L55.5 226.3L58.5 228.3L64.8 230.5L65.8 230.5L68.4 231.2L71.9 231.6L74.5 232.2L75.5 232.1L77.5 232.5L78.5 232.5L83.0 233.3L84.0 233.2L87.8 233.9L88.8 233.8L94.1 234.8L95.1 234.8L103.6 236.8L107.0 237.3L110.4 237.4L116.9 237.0L121.9 237.4L124.0 237.3L125.0 237.4L127.0 237.1L128.0 237.2L130.0 236.8L131.0 236.8L135.1 235.9L136.1 236.0L142.3 235.3L143.2 235.4L152.2 234.4L153.3 234.6L163.5 233.5L168.8 232.7L169.4 232.3L169.8 231.6L170.6 229.2L171.2 225.2L171.2 215.3L170.8 211.6L170.2 208.6L169.6 207.0L168.8 206.0L161.5 204.8L154.1 203.9L153.2 203.5L144.0 202.4L143.1 202.0L136.9 201.1L135.9 200.7L131.8 200.2L130.8 199.8L128.8 199.5L127.8 199.2L125.8 199.1L124.8 198.8L122.6 198.9L120.9 198.7L117.9 197.8L110.4 196.0L107.2 195.7L101.1 195.5Z" fill="#0329fc"/>
<path d="M99.7 201.2L89.8 201.1L86.6 201.4L85.6 201.3L84.0 201.5L83.0 201.5L72.7 203.3L71.7 203.7L70.6 203.9L65.8 205.7L61.6 207.5L59.3 209.1L58.3 209.5L53.7 213.3L52.7 214.7L52.0 216.0L51.7 218.0L52.0 220.5L52.9 222.1L54.5 223.6L55.5 223.9L55.9 224.2L58.5 225.2L64.8 226.2L65.8 226.2L68.4 226.6L71.9 226.7L74.5 227.1L75.5 227.1L77.5 227.4L78.5 227.3L83.0 228.1L84.0 228.0L94.1 229.5L95.1 229.4L104.8 231.1L108.6 231.3L112.3 231.3L116.9 230.6L121.9 230.4L124.0 230.0L125.0 230.0L135.1 228.1L136.1 228.2L142.1 227.7L143.2 227.8L152.4 227.2L153.3 227.4L164.0 226.2L165.0 225.9L165.8 225.2L166.4 224.4L167.0 223.0L167.2 222.2L167.2 218.9L166.8 217.2L165.6 215.0L164.2 214.0L154.1 212.6L153.2 212.3L144.0 211.6L143.1 211.2L136.9 210.6L135.9 210.3L131.8 209.5L130.8 209.0L128.8 208.6L127.8 208.1L125.8 207.6L124.8 207.2L120.7 206.4L115.3 203.9L111.4 202.6L107.8 201.9L99.7 201.2Z" fill="#063efc"/>
<path d="M90.0 203.7L85.6 203.7L84.0 203.9L83.0 203.8L72.7 205.3L69.2 206.3L63.6 208.4L58.7 211.0L54.5 214.6L53.3 216.8L53.1 218.5L53.5 220.2L53.9 221.0L55.1 222.2L58.5 223.6L64.8 224.4L65.8 224.3L68.4 224.7L71.9 224.7L74.5 225.0L75.5 224.9L77.5 225.2L78.5 225.1L83.0 225.8L84.0 225.7L87.8 226.2L88.8 226.1L94.1 226.7L95.1 226.6L104.4 227.8L108.8 228.0L112.3 227.9L116.9 227.2L121.9 226.8L124.0 226.4L125.0 226.4L130.0 225.7L131.0 225.7L135.1 225.0L136.1 225.0L142.3 224.2L143.2 224.3L151.2 223.3L153.3 223.3L155.9 222.6L156.7 222.0L157.3 221.3L157.3 220.0L156.7 219.1L155.5 218.3L153.2 217.2L144.0 216.0L143.1 215.6L137.1 214.5L135.9 214.1L131.8 213.3L130.8 212.9L125.8 211.7L124.8 211.3L122.6 210.9L118.9 209.7L114.1 207.2L110.2 205.9L107.4 205.3L99.1 204.2L90.0 203.7Z" fill="#0069ff"/>
<path d="M93.3 204.9L88.0 204.8L84.0 205.0L83.0 204.9L72.7 206.3L71.7 206.6L70.6 206.8L65.8 208.4L62.4 209.8L60.1 211.3L59.1 211.7L57.5 212.9L55.9 214.5L54.7 215.4L53.6 217.0L53.4 218.0L53.6 219.5L54.3 220.5L55.1 221.2L57.3 222.3L58.5 222.8L64.8 223.9L65.8 223.8L68.4 224.3L69.4 224.3L70.9 224.6L71.9 224.5L74.5 224.9L75.5 224.8L77.5 225.1L78.5 225.0L87.8 226.3L88.8 226.2L94.1 227.0L95.3 226.9L101.8 228.0L113.3 228.6L117.9 228.4L119.9 228.0L142.3 222.3L143.2 222.3L148.8 221.1L153.0 220.5L149.0 219.9L144.2 218.9L143.1 218.3L136.9 216.7L135.9 216.2L131.8 214.9L130.8 214.4L128.8 213.7L127.8 213.2L125.8 212.5L124.8 211.9L118.9 209.6L116.7 208.4L113.9 207.4L107.0 206.2L99.1 205.3L93.3 204.9Z" fill="#009cff"/>
<path d="M90.0 205.9L85.6 205.8L84.0 206.0L83.0 205.9L72.7 207.0L69.2 207.9L65.0 209.2L62.6 210.2L60.1 211.8L59.3 212.0L56.7 214.1L56.1 214.8L54.9 215.7L54.2 216.8L53.8 218.0L54.0 219.2L54.5 220.2L55.3 220.9L57.3 222.0L58.5 222.4L64.8 223.3L65.8 223.2L68.4 223.6L69.4 223.5L70.9 223.8L71.9 223.7L74.5 224.0L75.5 223.9L77.5 224.2L78.5 224.0L87.8 225.0L88.8 224.9L94.1 225.6L95.3 225.5L101.8 226.3L112.9 226.8L117.9 226.6L119.9 226.2L120.9 225.9L121.9 225.8L124.0 225.1L125.0 225.0L127.0 224.4L128.0 224.3L130.0 223.7L131.0 223.7L135.1 222.5L136.1 222.4L142.7 220.9L143.2 221.0L146.8 220.5L143.4 220.0L143.1 219.6L136.9 218.2L135.9 217.7L131.8 216.5L130.8 216.0L125.8 214.2L124.8 213.6L122.6 212.9L119.7 211.5L118.7 211.2L116.1 209.9L113.3 209.0L106.5 207.6L99.1 206.6L90.0 205.9Z" fill="#00d2ff"/>
<path d="M88.2 206.6L84.0 206.7L83.0 206.6L72.7 207.5L69.2 208.3L65.1 209.6L62.8 210.5L60.1 212.1L59.3 212.3L56.7 214.4L55.1 215.8L54.5 216.8L54.1 218.0L54.3 219.2L54.7 220.0L55.4 220.7L57.3 221.7L58.5 222.1L64.8 222.9L65.8 222.7L68.4 223.1L69.4 223.0L70.9 223.2L71.9 223.1L74.5 223.4L75.5 223.2L77.5 223.4L78.5 223.3L83.0 223.8L84.0 223.7L87.8 224.1L88.8 223.9L94.1 224.5L95.1 224.4L101.8 225.1L112.7 225.5L117.9 225.3L119.9 224.9L127.0 223.0L128.0 223.0L130.0 222.4L131.0 222.3L135.5 221.1L136.1 221.2L141.3 220.2L136.5 219.4L135.9 219.0L131.8 217.9L130.8 217.3L128.8 216.7L124.8 215.0L122.6 214.2L119.7 212.8L117.9 212.2L117.1 211.6L115.7 211.0L112.9 210.1L106.0 208.7L99.1 207.6L92.9 206.9L88.2 206.6Z" fill="#00faf0"/>
<path d="M83.2 207.1L72.7 207.9L69.2 208.7L65.2 209.9L62.8 210.8L60.3 212.3L59.3 212.6L55.7 215.5L55.1 216.2L54.4 217.5L54.4 219.0L54.7 219.7L55.7 220.7L57.3 221.5L58.5 221.9L64.8 222.5L65.8 222.4L68.4 222.7L69.4 222.6L70.9 222.7L71.9 222.6L74.5 222.8L75.5 222.7L77.5 222.9L78.5 222.7L83.0 223.1L84.0 223.0L87.8 223.3L88.8 223.2L94.1 223.7L95.1 223.5L101.8 224.2L115.3 224.6L117.9 224.5L127.0 221.8L128.0 221.8L130.2 221.1L131.0 221.1L136.0 220.0L131.4 218.9L130.8 218.5L128.6 217.9L127.8 217.4L122.6 215.4L116.7 212.2L112.5 211.0L105.8 209.5L96.9 208.0L94.7 207.9L92.9 207.6L89.8 207.3L83.2 207.1Z" fill="#00ff78"/>
<path d="M83.2 207.6L72.7 208.3L71.9 208.6L69.2 209.0L67.6 209.6L65.4 210.1L63.0 211.0L60.3 212.6L59.5 212.7L57.9 213.8L55.7 215.7L54.5 217.5L54.5 219.0L55.7 220.5L57.3 221.3L58.5 221.6L64.8 222.2L65.6 222.0L68.4 222.3L69.4 222.2L70.9 222.3L71.9 222.2L77.5 222.3L78.5 222.2L83.0 222.5L84.0 222.4L87.8 222.7L88.8 222.5L94.1 222.9L95.1 222.8L101.8 223.3L115.1 223.7L117.9 223.6L124.0 221.6L125.0 221.5L127.4 220.8L128.0 220.8L130.6 220.1L131.0 220.3L132.6 220.0L131.2 219.7L130.8 219.4L128.4 218.8L127.8 218.3L125.6 217.6L124.8 217.1L122.6 216.3L116.5 213.0L112.2 211.7L105.4 210.2L96.9 208.7L94.7 208.6L92.9 208.2L89.8 207.9L83.2 207.6Z" fill="#00ff3c"/>
<path d="M83.2 208.1L72.7 208.6L71.9 208.9L70.6 209.0L69.2 209.3L67.6 209.9L65.4 210.4L63.8 211.1L63.0 211.2L60.3 212.8L59.5 212.9L57.9 214.0L55.7 215.9L54.7 217.8L54.7 218.9L55.7 220.3L57.3 221.1L58.5 221.4L64.8 221.9L65.6 221.7L68.4 222.0L69.2 221.8L74.5 221.9L75.5 221.7L77.5 221.9L78.5 221.7L83.0 222.0L84.0 221.8L87.8 222.1L88.8 221.9L94.1 222.2L95.1 222.1L101.8 222.5L114.9 222.8L117.9 222.7L124.2 220.7L125.0 220.7L127.6 220.0L128.0 220.1L129.8 219.8L128.2 219.4L127.8 219.1L125.4 218.4L124.8 217.9L122.6 217.2L116.1 213.8L107.8 211.4L96.9 209.3L94.7 209.1L92.9 208.8L89.8 208.4L83.2 208.1Z" fill="#00fc14"/>
<path d="M85.6 208.6L83.8 208.7L83.0 208.5L72.7 209.0L71.9 209.2L70.6 209.3L70.0 209.6L69.2 209.6L67.8 210.2L65.4 210.6L63.8 211.3L63.0 211.5L60.3 213.0L59.7 213.0L57.9 214.2L55.5 216.4L54.8 217.8L54.8 218.7L55.8 220.2L57.3 221.0L58.5 221.3L64.8 221.6L65.4 221.4L68.4 221.6L69.2 221.4L70.9 221.6L71.7 221.4L77.5 221.4L78.3 221.2L83.0 221.5L84.0 221.3L87.8 221.5L88.8 221.3L94.1 221.6L95.1 221.4L101.8 221.7L117.5 221.9L121.1 220.9L121.9 220.9L124.4 220.0L125.0 220.1L127.8 219.5L125.4 219.0L124.8 218.6L122.4 217.8L115.9 214.5L107.6 212.1L96.9 209.8L94.7 209.7L92.9 209.3L89.8 208.9L86.4 208.8L85.6 208.6Z" fill="#00ff00"/>
<path d="M83.0 208.9L72.7 209.2L72.1 209.5L70.6 209.6L70.0 209.8L69.2 209.9L67.8 210.4L65.8 210.7L63.8 211.5L63.2 211.6L60.5 213.1L59.7 213.2L57.1 215.0L55.5 216.5L54.9 217.8L54.9 218.7L55.9 220.2L56.5 220.3L57.3 220.8L58.1 220.9L58.5 221.1L64.8 221.4L65.4 221.2L68.4 221.4L69.0 221.1L74.5 221.2L75.3 220.9L77.5 221.0L78.3 220.8L83.0 221.0L83.8 220.8L87.8 221.0L88.8 220.8L94.1 221.0L95.1 220.8L101.8 221.1L117.7 221.3L124.6 219.6L125.0 219.7L126.2 219.5L122.3 218.3L121.7 217.8L120.5 217.4L119.7 216.9L115.7 215.1L111.4 213.7L104.8 212.0L96.9 210.3L94.5 210.2L92.9 209.7L88.8 209.4L88.0 209.2L83.8 209.1L83.0 208.9Z" fill="#00ff00"/>
<path d="M83.4 209.6L83.0 209.5L72.7 209.7L72.1 209.9L70.6 210.0L70.2 210.2L69.2 210.2L68.0 210.7L65.7 211.1L64.0 211.8L63.2 211.9L60.5 213.4L59.9 213.4L58.1 214.5L55.7 216.6L55.1 217.8L55.0 218.5L55.3 219.2L56.0 220.0L56.5 220.1L57.3 220.6L58.1 220.6L58.5 220.9L64.8 221.0L65.4 220.8L68.4 220.9L69.0 220.7L70.9 220.7L71.5 220.5L74.5 220.6L75.1 220.4L77.5 220.4L78.1 220.2L83.0 220.3L83.6 220.1L87.8 220.2L88.4 220.0L117.9 220.2L119.3 219.7L119.9 219.7L121.5 219.3L121.9 219.5L122.8 219.3L121.9 219.0L121.7 218.7L120.3 218.4L119.7 217.9L118.3 217.5L115.3 216.1L111.0 214.6L110.2 214.5L109.4 214.2L108.5 214.1L104.4 212.8L103.2 212.7L102.4 212.3L101.3 212.2L99.5 211.7L98.3 211.6L96.9 211.1L94.3 210.9L92.9 210.5L90.4 210.3L89.8 210.0L88.6 210.1L88.0 209.8L86.2 209.9L85.6 209.6L83.4 209.6Z" fill="#7dff00"/>
<path d="M85.6 210.1L83.4 210.1L83.0 209.9L72.7 210.0L72.3 210.2L70.6 210.3L70.2 210.5L69.2 210.5L68.0 211.0L65.8 211.3L65.6 211.5L64.4 211.8L64.2 212.0L63.4 212.1L62.6 212.6L62.2 212.6L60.6 213.6L59.9 213.6L58.3 214.6L57.9 215.0L57.3 215.3L56.7 216.0L56.1 216.3L55.3 217.5L55.1 218.5L56.1 220.0L56.7 220.0L57.3 220.5L58.3 220.5L58.5 220.7L64.8 220.8L65.2 220.5L68.4 220.6L68.8 220.3L70.9 220.4L71.3 220.1L74.5 220.2L74.9 219.9L77.5 220.0L77.9 219.7L83.0 219.8L83.6 219.6L87.8 219.6L88.4 219.4L94.1 219.5L94.7 219.2L117.9 219.4L119.7 218.9L119.8 218.7L119.7 218.6L118.1 218.2L117.7 217.8L116.3 217.4L114.9 216.7L112.9 216.2L112.2 215.8L111.6 215.7L110.8 215.3L110.0 215.2L109.2 214.8L108.4 214.8L106.8 214.1L106.0 214.1L104.2 213.4L103.2 213.3L102.2 212.9L101.1 212.8L99.3 212.2L98.1 212.1L96.9 211.7L94.1 211.5L92.9 211.0L90.2 210.8L89.8 210.5L88.4 210.5L88.0 210.3L86.0 210.3L85.6 210.1Z" fill="#faf500"/>
<path d="M83.0 210.1L72.7 210.1L72.5 210.4L70.6 210.4L70.4 210.6L69.2 210.6L69.0 210.8L68.4 210.8L68.2 211.1L67.0 211.1L66.8 211.3L65.8 211.3L65.6 211.6L65.0 211.6L64.2 212.1L63.4 212.1L62.6 212.6L62.2 212.6L60.6 213.6L59.9 213.6L58.3 214.6L57.9 215.0L57.3 215.3L56.7 216.0L56.1 216.3L55.3 217.5L55.1 218.5L56.1 220.0L56.7 220.0L57.3 220.5L58.3 220.5L58.5 220.7L64.8 220.7L65.0 220.5L68.4 220.5L68.6 220.2L70.9 220.2L71.1 220.0L74.5 220.0L74.7 219.7L77.5 219.7L77.7 219.5L83.0 219.5L83.2 219.2L87.8 219.2L88.0 219.0L94.1 219.0L94.5 218.8L115.9 218.9L117.7 218.7L117.9 218.5L117.7 218.3L116.1 217.9L114.7 217.1L114.3 217.1L113.3 216.7L112.7 216.7L112.0 216.2L111.4 216.2L110.6 215.7L109.8 215.7L109.0 215.2L108.2 215.2L106.6 214.5L105.8 214.5L104.0 213.7L103.0 213.7L102.0 213.3L101.1 213.3L99.1 212.5L98.1 212.5L96.9 212.0L95.7 212.1L95.3 211.8L93.9 211.8L92.9 211.3L90.0 211.1L89.8 210.8L88.2 210.8L88.0 210.6L85.8 210.6L85.6 210.4L83.2 210.4L83.0 210.1ZM118.7 218.7L117.9 218.5L117.7 218.7L117.9 218.9L118.7 218.8L118.7 218.7Z" fill="#ff9b00"/>
<path d="M83.0 210.1L72.7 210.1L72.5 210.4L70.6 210.4L70.4 210.6L69.2 210.6L69.0 210.9L68.4 210.9L68.2 211.1L67.0 211.1L66.8 211.3L65.8 211.3L65.6 211.6L65.0 211.6L64.2 212.1L63.4 212.1L62.6 212.6L62.2 212.6L60.6 213.6L59.9 213.6L58.3 214.6L57.9 215.0L57.3 215.3L56.7 216.0L56.1 216.3L55.3 217.5L55.1 218.5L56.1 220.0L56.7 220.0L57.3 220.5L58.3 220.5L58.5 220.7L64.8 220.7L65.0 220.5L68.4 220.5L68.6 220.2L70.9 220.2L71.1 220.0L74.5 220.0L74.7 219.7L77.5 219.7L77.7 219.5L83.0 219.5L83.2 219.2L87.8 219.2L88.0 219.0L94.1 219.0L94.3 218.7L117.3 218.7L117.7 218.5L117.3 218.3L116.7 218.3L116.5 218.0L115.9 218.0L115.3 217.5L114.9 217.5L114.7 217.3L114.1 217.3L113.3 216.8L112.5 216.8L112.0 216.3L111.2 216.3L110.6 215.8L109.6 215.8L109.0 215.3L108.0 215.3L107.8 215.0L106.8 214.8L106.6 214.6L105.6 214.6L105.4 214.3L104.8 214.3L104.6 214.1L104.2 214.1L104.0 213.8L102.8 213.8L102.0 213.3L100.9 213.3L100.7 213.1L99.3 212.8L99.1 212.6L97.9 212.6L97.7 212.3L97.1 212.3L96.9 212.1L93.9 211.8L93.7 211.6L93.1 211.6L92.9 211.3L91.5 211.3L91.4 211.1L90.0 211.1L89.8 210.8L88.2 210.8L88.0 210.6L85.8 210.6L85.6 210.4L83.2 210.4L83.0 210.1Z" fill="#ff3700"/>
<path d="M55.5 218.5L55.5 218.3L55.5 218.1L55.5 218.0L55.5 217.8L55.6 217.6L55.7 217.4L55.8 217.2L55.9 216.9L56.1 216.7L56.3 216.5L56.5 216.3L56.7 216.1L56.9 215.9L57.2 215.6L57.5 215.4L57.8 215.2L58.1 214.9L58.4 214.7L58.8 214.5L59.2 214.3L59.6 214.0L60.0 213.8L60.5 213.6L61.0 213.4L61.5 213.1L62.0 212.9L62.5 212.7L63.0 212.5L63.6 212.3L64.2 212.1L64.8 211.9L65.4 211.7L66.0 211.6L66.7 211.4L67.3 211.2L68.0 211.1L68.7 211.0L69.4 210.8L70.1 210.7L70.9 210.6L71.6 210.5L72.3 210.4L73.1 210.3L73.9 210.3L74.7 210.2L75.4 210.2L76.2 210.1L77.0 210.1L77.9 210.1L78.7 210.1L79.5 210.2L80.3 210.2L81.1 210.2L82.0 210.3L82.8 210.3L83.6 210.4L84.4 210.5L85.3 210.6L86.1 210.6L86.9 210.7L87.7 210.8L88.6 210.9L89.4 211.1L90.2 211.2L91.0 211.3L91.8 211.4L92.6 211.6L93.4 211.7L94.2 211.9L95.0 212.0L95.8 212.2L96.6 212.3L97.4 212.5L98.1 212.6L98.9 212.8L99.6 213.0L100.4 213.2L101.1 213.3L101.8 213.5L102.5 213.7L103.2 213.9L103.9 214.1L104.5 214.2L105.2 214.4L105.8 214.6L106.5 214.8L107.1 215.0L107.7 215.1L108.3 215.3L108.8 215.5L109.4 215.7L109.9 215.8L110.4 216.0L110.9 216.2L111.4 216.3L111.9 216.5L112.3 216.7L112.8 216.8L113.2 217.0L113.6 217.1L113.9 217.2L114.3 217.4L114.6 217.5L115.0 217.6L115.3 217.7L115.5 217.8L115.8 217.9L116.0 218.0L116.3 218.1L116.5 218.2L116.6 218.2L116.8 218.3L116.9 218.4L117.0 218.4L117.1 218.4L117.2 218.5L117.3 218.5L117.3 218.5L117.3 218.5L117.3 218.5L117.3 218.5L117.2 218.5L117.1 218.5L117.0 218.5L116.9 218.5L116.8 218.5L116.6 218.5L116.4 218.5L116.2 218.5L116.0 218.5L115.7 218.5L115.5 218.5L115.2 218.4L114.9 218.4L114.5 218.4L114.2 218.4L113.8 218.4L113.4 218.4L113.0 218.4L112.6 218.4L112.1 218.4L111.7 218.4L111.2 218.4L110.7 218.4L110.2 218.4L109.6 218.3L109.1 218.3L108.5 218.3L108.0 218.3L107.4 218.3L106.8 218.3L106.1 218.3L105.5 218.3L104.8 218.3L104.2 218.3L103.5 218.3L102.8 218.3L102.1 218.3L101.4 218.4L100.7 218.4L100.0 218.4L99.3 218.4L98.5 218.4L97.8 218.4L97.0 218.4L96.2 218.5L95.5 218.5L94.7 218.5L93.9 218.5L93.1 218.5L92.3 218.6L91.5 218.6L90.7 218.6L89.9 218.7L89.1 218.7L88.3 218.7L87.5 218.8L86.7 218.8L85.9 218.8L85.1 218.9L84.3 218.9L83.5 219.0L82.7 219.0L81.9 219.0L81.1 219.1L80.3 219.1L79.5 219.1L78.8 219.2L78.0 219.2L77.3 219.3L76.5 219.3L75.8 219.4L75.1 219.4L74.3 219.5L73.6 219.6L72.9 219.6L72.2 219.7L71.5 219.7L70.8 219.8L70.2 219.8L69.5 219.9L68.9 220.0L68.2 220.0L67.6 220.1L67.0 220.1L66.4 220.1L65.8 220.2L65.2 220.2L64.6 220.3L64.1 220.3L63.6 220.3L63.0 220.3L62.5 220.4L62.0 220.4L61.6 220.4L61.1 220.4L60.6 220.4L60.2 220.3L59.8 220.3L59.4 220.3L59.0 220.3L58.7 220.2L58.3 220.2L58.0 220.1L57.7 220.1L57.4 220.0L57.1 219.9L56.9 219.8L56.7 219.7L56.4 219.6L56.3 219.5L56.1 219.4L55.9 219.3L55.8 219.1L55.7 219.0L55.6 218.8L55.5 218.7L55.5 218.5Z" fill="#555" stroke="#cc5c14" stroke-width="0.55"/>
<rect x="205.3" y="179.1" width="156.6" height="78.1" fill="#0008fc"/>
<path d="M287.0 199.6L285.4 200.2L284.6 200.1L283.4 201.0L283.0 200.9L282.2 200.1L281.6 200.3L280.2 200.2L279.2 199.7L278.6 199.8L277.6 200.3L277.0 200.2L276.2 200.7L275.4 200.3L275.0 201.0L274.4 201.0L273.6 200.5L272.6 200.6L272.0 200.2L271.2 200.1L270.1 199.7L268.7 200.2L268.1 201.0L267.1 200.4L265.9 200.7L264.7 200.5L264.3 200.6L263.7 201.2L262.5 201.0L261.7 201.7L260.3 202.1L259.1 201.5L258.5 200.9L257.7 201.3L257.1 202.0L256.1 201.8L255.5 202.3L254.7 202.0L253.9 201.4L253.4 201.6L253.1 202.6L252.3 202.2L251.7 202.7L250.9 203.0L250.5 204.0L250.1 204.3L249.7 204.3L249.1 203.6L248.7 203.5L246.3 204.5L244.4 204.5L243.8 205.4L243.4 206.5L242.8 206.4L242.2 207.1L241.8 207.4L241.2 207.1L240.4 207.4L239.6 208.6L238.5 209.1L237.0 211.4L236.4 211.6L235.6 211.4L234.4 213.0L233.2 213.4L232.5 214.4L232.4 215.1L232.2 217.6L232.8 219.7L232.6 220.2L231.9 220.9L232.0 221.5L232.4 221.7L234.0 221.3L235.0 221.5L235.5 222.2L235.1 223.2L235.4 224.0L236.4 224.4L237.2 223.8L238.2 224.1L238.8 223.8L238.7 224.9L239.0 225.5L240.2 225.5L241.2 226.0L242.2 225.9L243.4 226.7L244.9 225.8L245.3 226.0L246.1 226.8L247.5 227.0L248.3 226.7L249.3 227.0L249.9 226.4L250.3 226.4L251.5 226.5L252.1 227.2L252.9 227.3L253.3 227.2L253.7 226.6L254.1 226.5L254.7 227.3L256.3 227.4L256.9 227.7L258.1 227.1L258.5 227.2L259.5 227.8L260.1 228.0L261.5 227.7L262.5 227.9L263.3 227.7L264.1 228.0L264.9 228.1L265.3 228.7L266.1 229.1L266.7 228.9L267.1 227.9L267.5 227.6L268.3 228.1L268.6 228.7L268.9 228.9L269.9 228.6L271.4 229.1L272.0 228.6L272.8 229.4L274.4 229.1L275.6 229.3L276.2 228.8L276.8 229.3L278.6 229.6L278.9 229.4L279.2 228.9L279.8 229.4L280.6 229.7L281.4 230.7L282.2 230.4L283.2 230.6L284.0 230.4L284.6 231.0L285.6 231.4L286.2 232.1L286.6 232.1L287.4 231.7L287.8 232.4L288.6 231.7L289.6 232.1L290.4 231.7L291.2 232.1L291.8 232.1L292.6 232.6L293.9 231.9L294.2 231.1L295.0 230.8L295.6 231.0L296.4 231.8L297.5 232.3L298.9 231.7L299.9 232.0L300.1 231.7L299.9 230.9L300.1 230.8L300.6 230.9L301.3 231.4L303.7 232.2L304.3 232.0L306.1 231.9L308.5 232.3L309.5 231.8L310.9 231.9L311.9 230.4L313.5 230.0L314.5 230.3L315.3 230.4L317.3 229.7L319.5 229.4L320.9 228.2L322.5 228.7L323.6 228.4L324.4 228.6L325.2 228.4L325.7 228.9L326.1 228.9L326.4 228.7L326.8 227.9L327.4 227.6L328.6 227.5L329.2 227.2L330.0 226.2L330.8 227.0L331.4 226.8L332.2 227.1L333.0 227.2L333.8 226.8L334.6 227.1L335.2 227.2L336.2 226.4L337.0 226.7L337.2 226.6L337.6 225.4L338.2 224.8L339.4 224.9L340.0 224.6L341.0 225.0L341.8 224.7L342.7 224.9L343.5 224.2L344.0 223.2L344.7 222.9L345.2 220.1L344.8 218.6L343.8 217.4L343.6 215.6L343.2 215.2L342.0 215.3L341.2 215.7L340.2 215.7L338.8 214.8L337.8 213.7L336.2 213.8L334.2 212.5L333.0 212.8L332.6 212.4L332.4 211.5L331.6 212.0L330.6 211.7L330.0 211.0L329.2 211.5L328.8 211.4L328.4 211.0L327.6 211.3L326.6 209.9L325.4 209.6L324.9 210.1L324.0 210.6L323.6 210.5L322.8 209.6L321.3 208.8L320.9 208.8L320.6 209.6L320.3 209.6L320.0 209.1L320.1 208.1L319.7 207.7L318.9 207.5L317.9 206.8L314.9 207.1L314.4 205.9L313.5 205.5L313.1 205.6L312.6 206.4L311.9 206.7L311.6 206.6L311.3 205.9L309.9 206.1L309.5 205.0L309.1 204.8L307.9 205.0L306.9 204.8L305.9 205.3L305.3 205.9L305.1 205.9L304.7 205.6L304.1 204.4L303.3 203.5L302.5 203.5L301.3 204.0L298.3 203.2L297.5 202.6L296.4 203.0L295.7 202.4L295.6 201.9L294.4 201.3L293.4 201.8L292.6 201.7L291.8 202.0L291.2 201.8L290.6 201.1L290.0 201.0L289.6 201.8L289.2 201.8L288.8 201.5L288.2 200.4L287.0 199.6Z" fill="#0329fc"/>
<path d="M271.4 201.3L270.6 201.5L269.5 201.2L269.2 202.1L268.1 202.9L267.3 202.4L264.9 201.8L263.7 202.2L262.5 203.0L261.3 202.7L260.3 203.3L259.5 202.6L259.1 202.5L258.4 202.6L257.7 203.1L256.9 203.1L255.5 203.7L254.7 203.6L253.9 203.9L253.1 203.6L252.3 204.0L251.7 203.8L250.9 205.3L249.3 205.4L246.9 206.4L246.7 206.3L246.3 205.3L245.7 205.1L244.9 205.4L244.2 205.9L243.6 207.7L242.8 207.7L242.4 208.0L242.0 208.6L241.8 209.3L240.6 208.3L240.6 209.6L239.4 209.2L238.8 209.4L238.6 210.1L238.0 210.7L237.5 211.6L236.4 212.4L236.3 213.1L236.0 213.1L235.6 213.2L235.0 214.1L234.0 213.9L233.6 214.1L233.1 214.9L233.0 215.6L233.2 217.1L233.0 218.1L233.2 218.7L234.6 220.9L235.5 221.4L236.1 222.4L237.0 223.3L238.0 223.5L239.0 223.0L239.4 223.0L239.6 223.2L239.7 224.4L240.4 224.6L241.2 225.2L242.6 224.8L243.4 225.1L244.4 224.4L245.5 225.2L246.5 225.7L247.5 225.8L250.1 225.5L250.7 225.6L251.0 225.4L251.3 224.7L252.3 225.2L253.3 224.5L254.0 224.9L254.1 225.2L253.7 225.7L253.8 225.9L254.3 225.3L255.3 225.3L256.3 225.5L256.9 226.3L257.3 226.3L257.9 225.9L259.7 226.7L261.7 226.3L263.9 226.9L264.9 226.3L265.3 226.2L266.3 226.6L267.3 226.6L268.1 227.0L268.9 226.8L269.5 227.3L269.9 227.4L270.3 226.5L270.8 226.3L271.8 226.7L273.6 228.3L275.4 227.8L277.2 228.2L278.2 228.0L278.6 227.7L280.0 227.6L280.8 228.1L281.6 228.0L282.4 228.4L283.0 229.1L284.0 229.1L284.8 229.8L286.2 230.1L287.2 229.2L287.4 229.2L287.8 229.8L288.2 229.9L288.8 229.5L289.4 229.6L289.6 228.9L290.2 228.8L292.4 229.3L293.4 228.4L293.8 228.5L294.2 229.0L295.0 228.4L295.2 228.5L295.6 229.2L296.0 229.5L296.9 228.9L297.0 229.7L297.3 229.8L298.5 229.0L299.1 228.1L299.9 228.3L301.3 228.1L302.3 228.4L303.7 228.1L305.4 228.2L307.5 227.6L309.3 227.4L310.1 227.6L311.1 227.5L311.9 228.0L313.9 228.2L314.9 228.1L315.7 228.2L316.2 227.9L316.7 227.2L317.9 226.4L318.9 227.1L320.3 226.6L321.1 227.1L321.7 227.1L322.2 226.9L322.3 226.7L322.2 226.2L322.5 225.9L323.6 226.7L325.4 226.7L325.8 226.4L326.4 226.3L327.6 226.6L329.0 225.9L329.8 225.3L330.8 225.1L331.4 225.3L332.2 224.7L333.0 225.2L333.4 225.1L334.4 224.5L334.8 223.7L335.4 223.5L336.0 222.9L336.5 222.9L337.8 223.7L338.1 222.9L338.6 222.5L340.2 223.4L341.0 222.9L341.6 223.0L341.8 221.8L342.4 221.0L342.4 220.1L341.5 218.9L341.0 217.9L340.2 218.2L339.1 217.4L338.7 216.4L337.8 215.6L336.6 215.5L335.6 214.9L335.2 214.9L334.9 215.1L334.9 215.4L335.5 215.9L335.5 216.4L334.6 216.5L334.3 216.1L334.3 215.1L332.8 214.4L331.2 214.3L330.6 213.6L329.3 212.6L329.0 212.7L328.4 213.1L327.6 212.9L326.4 213.4L325.4 213.5L324.6 212.5L324.2 212.5L323.6 213.1L321.9 212.7L320.9 211.6L319.7 211.4L317.9 210.4L316.9 210.8L316.3 210.7L315.7 210.2L314.7 209.6L314.1 209.7L313.3 209.4L311.3 209.1L309.7 209.4L308.1 209.4L307.7 209.2L307.2 208.1L306.7 207.7L304.3 208.0L303.1 207.2L302.6 207.4L302.1 208.0L301.1 208.2L300.5 207.9L299.9 206.7L298.1 205.2L297.1 204.9L296.0 204.2L295.2 204.0L294.6 204.3L293.2 204.4L291.6 203.9L290.4 204.2L289.6 203.0L287.8 202.0L286.4 202.7L284.8 202.6L284.2 203.6L284.0 203.6L283.4 203.0L282.4 202.6L282.4 201.9L282.0 201.5L281.6 201.6L281.5 201.9L281.8 202.6L279.6 203.0L277.8 201.5L277.2 201.6L276.8 202.2L274.8 202.4L273.8 202.2L273.0 201.6L272.0 201.6L271.4 201.3Z" fill="#063efc"/>
<path d="M273.0 203.3L272.0 203.3L271.2 203.6L269.1 203.8L267.3 203.7L266.3 203.9L265.9 203.8L264.7 203.9L263.3 203.6L262.1 204.5L261.1 204.1L258.9 204.0L257.9 204.6L256.9 204.4L253.9 205.2L253.1 205.3L252.3 205.8L251.7 205.8L250.9 206.2L249.9 206.3L248.7 206.9L246.7 207.4L244.3 208.6L242.8 208.8L241.8 210.1L239.6 211.0L238.2 212.7L236.0 214.2L234.4 215.8L234.1 216.4L234.0 217.1L234.4 219.4L235.0 220.4L237.4 222.6L239.5 222.7L240.6 223.6L241.2 223.8L242.0 223.7L242.8 223.4L244.2 223.5L245.3 223.9L247.9 224.4L249.7 224.2L250.7 223.6L253.1 223.7L255.3 224.2L256.1 224.6L257.1 224.4L258.5 225.0L259.3 224.6L260.3 224.8L261.1 224.5L261.9 224.8L263.1 224.8L264.3 225.1L265.7 225.1L266.5 224.9L268.1 225.3L271.2 225.1L272.8 225.4L274.2 226.2L276.2 225.8L279.8 226.4L282.2 226.5L283.4 227.0L285.6 226.5L286.4 226.9L287.6 227.2L289.4 226.9L292.6 227.3L293.6 227.1L294.2 227.2L295.2 226.7L296.6 227.0L297.7 226.5L298.9 226.3L299.9 226.6L300.9 226.5L303.3 226.7L306.1 226.1L307.5 226.2L308.5 225.5L309.9 225.9L310.9 225.7L311.7 226.0L312.5 225.5L313.1 225.7L313.9 225.3L315.1 225.3L316.5 224.7L320.3 224.7L321.1 224.3L321.9 224.4L324.2 223.8L324.6 223.8L325.6 224.4L326.4 224.2L328.2 223.2L330.2 223.4L331.4 223.2L332.4 222.7L333.8 222.7L335.0 222.1L336.4 222.2L337.6 221.3L338.0 220.6L338.0 220.2L337.4 218.7L336.2 217.7L335.0 217.6L334.0 217.8L332.8 217.0L331.2 216.9L330.0 216.4L328.8 216.4L327.8 216.0L326.6 216.1L323.8 215.0L322.1 215.0L320.9 214.6L319.7 213.8L318.9 214.0L318.1 213.5L317.3 213.6L316.3 213.1L314.9 213.1L313.9 212.5L312.1 212.2L310.3 211.6L309.3 211.6L306.9 210.7L303.9 210.5L297.9 208.1L296.6 207.3L295.0 207.1L293.6 206.1L291.8 205.6L289.2 205.6L288.0 205.1L287.0 205.2L285.6 204.5L284.0 205.0L282.4 204.5L281.2 204.6L279.8 204.3L279.0 204.4L278.0 204.8L276.2 203.6L274.6 203.7L274.0 203.8L273.0 203.3Z" fill="#0069ff"/>
<path d="M276.2 204.3L274.0 204.4L271.4 204.2L269.9 204.4L267.7 204.2L265.9 204.8L263.5 204.5L261.9 205.0L260.9 204.7L260.1 204.7L257.7 205.3L256.3 205.3L251.7 206.3L249.9 206.9L248.7 207.5L246.9 207.9L244.4 209.2L243.0 209.5L242.0 210.5L240.2 211.4L236.8 214.5L236.2 214.7L234.9 215.9L234.5 216.4L234.4 216.9L234.6 219.2L235.2 220.0L237.6 221.8L241.8 223.0L243.0 222.9L247.7 224.0L249.7 224.1L250.9 223.8L252.3 224.0L253.3 224.0L256.1 224.7L257.1 224.6L258.5 225.1L259.5 224.8L264.3 225.4L266.5 225.5L269.5 226.0L270.6 225.8L272.4 226.1L274.4 226.9L276.8 226.6L281.6 227.3L283.6 228.0L285.2 227.9L286.6 228.1L291.0 228.2L292.0 228.0L294.2 228.4L295.2 228.3L295.8 228.4L298.1 228.3L298.9 228.0L303.1 227.5L304.9 226.9L307.3 226.4L308.7 225.7L309.9 225.7L311.5 225.5L312.5 225.0L314.7 224.7L317.3 223.8L318.3 223.7L320.3 223.2L321.9 222.6L325.6 222.1L326.8 221.6L328.4 221.2L329.8 221.2L330.8 220.8L331.8 220.8L333.7 220.2L332.0 219.6L328.6 219.0L327.6 218.6L326.6 218.6L325.4 217.9L321.9 216.9L321.1 216.9L319.1 216.5L317.3 215.5L314.1 214.8L312.9 213.8L310.9 213.4L309.8 212.6L307.9 212.0L306.9 211.3L304.1 210.5L296.9 207.1L294.8 206.9L293.6 206.4L291.8 206.0L287.0 205.6L285.6 205.1L284.0 205.4L282.2 205.0L279.8 204.8L277.8 205.1L276.2 204.3ZM335.4 220.1L334.8 220.1L334.2 220.2L334.8 220.2L335.4 220.1Z" fill="#009cff"/>
<path d="M270.3 205.4L269.1 205.2L267.5 205.2L266.3 205.5L264.7 205.4L261.7 205.7L260.3 205.6L256.3 206.1L253.1 206.8L251.9 206.9L250.1 207.4L248.9 208.0L246.7 208.5L243.2 210.1L241.2 211.4L240.4 211.6L238.7 212.9L237.2 214.5L236.0 215.3L235.3 216.1L234.9 216.9L235.0 219.1L235.6 219.9L237.8 221.5L239.6 222.1L241.2 222.1L242.0 222.4L243.0 222.5L246.1 223.1L247.1 223.0L249.7 223.3L250.7 223.2L252.3 223.4L253.3 223.3L256.1 223.8L261.1 223.9L264.5 224.4L266.5 224.4L268.9 224.7L270.3 224.6L274.6 225.2L277.6 225.2L280.0 225.7L283.6 226.1L285.6 226.0L288.2 226.3L289.6 226.3L292.4 226.7L295.2 226.5L296.6 226.6L298.9 226.2L299.9 226.3L301.9 226.1L302.9 225.6L303.9 225.7L305.5 225.0L307.1 224.7L308.5 224.1L310.5 224.0L312.3 223.3L313.3 223.3L317.3 222.2L319.5 222.0L322.1 221.2L324.0 221.0L325.0 220.6L325.6 220.7L327.6 220.2L328.7 220.2L327.4 220.1L325.8 219.6L325.4 219.3L319.1 217.9L317.9 217.4L314.5 216.5L312.9 215.7L310.9 215.1L308.9 214.0L306.3 212.9L304.3 212.1L302.7 211.8L301.5 210.9L300.5 210.6L299.5 209.9L296.6 208.9L295.6 208.8L292.8 207.9L291.8 207.9L291.0 207.5L288.4 207.0L283.6 206.7L281.0 206.0L277.8 206.1L275.4 205.5L274.0 205.6L273.0 205.4L270.3 205.4Z" fill="#00d2ff"/>
<path d="M269.7 206.1L267.1 206.1L265.7 206.3L264.5 206.1L256.9 206.6L251.9 207.4L246.7 208.9L244.9 209.9L242.8 210.7L241.6 211.5L240.5 211.9L238.8 213.1L237.7 214.1L237.4 214.6L236.2 215.5L235.5 216.4L235.1 217.6L235.3 218.9L236.8 220.6L238.0 221.3L239.6 221.8L241.2 221.8L246.1 222.6L247.1 222.5L249.7 222.8L253.3 222.7L255.9 223.1L259.9 223.0L264.5 223.6L265.5 223.4L268.5 223.7L270.3 223.6L275.8 224.3L277.0 224.1L286.4 225.1L293.6 225.3L301.5 224.8L304.7 224.0L306.1 223.5L307.1 223.4L309.1 222.7L310.1 222.7L312.1 222.2L313.1 222.2L314.9 221.5L317.7 220.9L318.5 221.0L323.6 219.9L319.3 219.2L317.3 218.4L313.9 217.6L312.9 217.0L310.9 216.4L309.9 215.8L306.3 214.3L305.3 214.1L301.7 212.4L300.7 212.2L297.7 210.5L293.0 209.2L291.6 209.0L288.0 208.1L285.6 207.9L280.8 207.1L275.0 206.4L270.6 206.3L269.7 206.1Z" fill="#00faf0"/>
<path d="M264.7 206.6L254.1 207.4L250.5 208.2L248.9 208.8L246.5 209.3L244.9 210.2L242.8 210.9L241.6 211.7L240.6 212.0L238.8 213.3L237.8 214.2L237.4 214.9L236.3 215.6L235.8 216.4L235.3 217.6L235.4 218.7L235.8 219.3L236.8 220.4L237.4 220.6L238.0 221.1L239.6 221.5L246.1 222.3L247.3 222.1L249.7 222.4L253.3 222.3L258.9 222.6L260.1 222.4L264.3 222.9L265.5 222.8L269.3 223.1L270.3 222.9L275.8 223.4L276.8 223.2L278.6 223.3L284.8 224.0L295.0 224.3L299.9 224.3L309.1 221.5L312.3 220.9L313.1 220.9L318.2 219.7L313.5 218.6L312.7 218.1L310.7 217.5L309.9 217.0L304.7 215.0L301.7 213.4L300.7 213.0L298.7 211.8L294.4 210.5L293.0 210.3L287.6 208.9L280.4 207.9L278.6 207.5L273.0 206.9L270.6 206.9L269.5 206.7L265.5 206.8L264.7 206.6Z" fill="#00ff78"/>
<path d="M264.7 207.1L254.1 207.8L250.5 208.5L248.9 209.1L246.5 209.6L243.0 211.1L241.4 212.1L240.6 212.3L239.0 213.4L237.4 215.0L236.8 215.4L235.9 216.6L235.5 217.6L235.6 218.7L236.8 220.2L238.0 220.9L239.0 221.0L239.6 221.3L246.1 221.9L246.9 221.8L249.7 222.0L250.7 221.9L252.3 222.0L253.3 221.9L258.9 222.0L260.1 221.8L264.5 222.3L265.5 222.2L269.3 222.4L270.3 222.2L275.8 222.7L277.0 222.5L284.8 223.1L294.2 223.4L299.9 223.3L306.1 221.3L307.1 221.2L309.5 220.5L310.1 220.5L312.7 219.8L313.1 220.0L314.5 219.7L313.3 219.4L312.9 219.0L310.5 218.5L309.9 218.0L307.7 217.3L306.9 216.8L304.7 216.0L300.7 213.9L298.5 212.6L294.0 211.3L290.2 210.5L287.3 209.6L280.2 208.5L278.6 208.1L269.5 207.3L268.1 207.4L264.7 207.1Z" fill="#00ff3c"/>
<path d="M264.9 207.6L254.1 208.1L253.3 208.4L251.9 208.5L250.5 208.8L248.9 209.4L248.3 209.4L245.9 210.1L245.1 210.7L243.0 211.3L241.4 212.3L240.8 212.4L239.0 213.6L236.5 215.9L235.7 217.4L235.7 218.4L236.1 219.2L236.8 220.0L238.2 220.8L239.0 220.8L239.6 221.1L246.1 221.6L246.9 221.5L249.7 221.7L250.5 221.5L252.3 221.6L253.1 221.4L255.9 221.6L256.9 221.4L258.9 221.6L259.9 221.4L264.5 221.8L265.5 221.6L268.3 221.8L270.3 221.6L275.4 222.0L277.0 221.8L283.8 222.2L294.2 222.5L299.9 222.4L306.3 220.4L307.1 220.4L309.7 219.6L310.1 219.8L311.9 219.4L310.3 219.1L309.9 218.8L307.5 218.0L306.9 217.6L304.7 216.8L298.1 213.4L292.2 211.6L290.6 211.4L287.0 210.4L278.6 208.8L269.5 207.8L268.1 207.9L264.9 207.6Z" fill="#00fc14"/>
<path d="M265.1 208.1L264.5 208.0L254.1 208.5L253.3 208.7L250.5 209.1L249.1 209.7L248.3 209.7L247.7 210.0L246.7 210.1L243.0 211.6L241.4 212.5L240.8 212.6L239.2 213.7L236.6 216.0L235.9 217.4L235.9 218.4L236.9 219.9L238.2 220.6L239.0 220.7L239.6 220.9L246.1 221.3L246.7 221.1L249.7 221.3L250.5 221.1L252.3 221.3L253.1 221.1L255.9 221.2L256.7 221.0L258.9 221.1L259.7 220.9L264.5 221.2L265.5 221.0L269.3 221.2L270.3 221.0L275.4 221.3L277.0 221.1L283.6 221.5L297.7 221.7L299.9 221.6L306.3 219.8L307.1 219.8L309.6 219.2L307.5 218.6L306.9 218.2L304.5 217.5L297.9 214.1L293.4 212.7L292.2 212.5L291.8 212.3L286.8 211.0L278.6 209.4L276.4 209.2L274.6 208.8L269.5 208.3L267.9 208.4L267.1 208.2L265.1 208.1Z" fill="#00ff00"/>
<path d="M264.5 208.4L254.1 208.8L253.5 209.0L251.9 209.1L251.3 209.3L250.5 209.4L249.1 209.9L248.3 209.9L246.1 210.6L243.2 211.7L241.6 212.6L240.8 212.8L239.2 213.8L236.7 216.1L236.0 217.4L236.0 218.4L237.0 219.8L237.6 220.0L238.2 220.5L239.2 220.6L239.6 220.8L246.1 221.1L246.7 220.9L249.7 221.0L250.3 220.8L252.3 220.9L253.1 220.7L255.9 220.9L256.7 220.6L258.9 220.7L259.7 220.5L264.5 220.8L265.3 220.5L268.9 220.7L270.1 220.4L275.6 220.7L276.8 220.5L283.4 220.8L297.9 221.0L299.9 220.9L303.3 219.9L303.9 220.0L306.7 219.2L307.1 219.4L308.3 219.2L307.1 218.9L306.9 218.6L304.3 217.9L303.7 217.5L302.5 217.1L301.7 216.5L297.7 214.7L286.6 211.5L278.6 209.9L276.2 209.7L274.6 209.3L273.8 209.3L269.5 208.7L265.3 208.6L264.5 208.4Z" fill="#00ff00"/>
<path d="M264.9 209.1L264.5 209.0L254.1 209.2L253.5 209.5L251.9 209.5L251.5 209.7L250.5 209.8L249.3 210.3L246.9 210.6L245.3 211.4L244.7 211.4L243.2 212.0L241.6 213.0L241.0 213.0L239.2 214.1L236.9 216.1L236.2 217.4L236.1 218.1L236.4 218.8L237.1 219.7L237.6 219.7L238.4 220.3L239.2 220.3L239.6 220.5L246.1 220.7L246.7 220.5L249.7 220.6L250.3 220.4L252.3 220.4L252.9 220.2L255.9 220.3L256.5 220.0L258.9 220.1L259.5 219.9L264.5 220.0L265.1 219.8L269.3 219.9L269.9 219.6L299.9 219.8L301.3 219.4L301.9 219.4L303.7 218.9L303.8 218.7L303.7 218.4L302.3 218.0L301.7 217.6L300.3 217.1L297.3 215.7L295.0 215.1L292.8 214.2L290.2 213.6L286.2 212.3L285.0 212.3L283.8 211.8L283.0 211.8L281.2 211.2L280.0 211.1L278.6 210.7L276.0 210.5L274.6 210.0L273.6 210.0L271.4 209.6L270.1 209.6L269.5 209.3L267.7 209.4L267.1 209.2L264.9 209.1ZM304.9 218.9L303.9 218.7L303.7 218.9L303.9 219.1L304.9 218.9Z" fill="#7dff00"/>
<path d="M267.1 209.6L264.9 209.6L264.5 209.4L254.1 209.5L253.7 209.8L251.9 209.8L251.5 210.1L250.5 210.1L249.3 210.6L247.1 210.8L245.5 211.6L244.7 211.6L243.8 212.1L243.4 212.1L241.8 213.1L241.0 213.1L239.4 214.1L239.0 214.6L238.4 214.9L237.8 215.6L237.0 216.1L236.2 217.6L236.2 218.1L237.2 219.7L237.8 219.7L238.4 220.2L239.4 220.2L239.6 220.4L246.1 220.5L246.5 220.2L249.7 220.3L250.1 220.0L252.3 220.1L252.7 219.8L255.9 219.9L256.3 219.6L258.9 219.7L259.3 219.4L264.5 219.5L265.1 219.2L269.3 219.3L269.9 219.1L275.8 219.1L276.4 218.9L299.9 219.1L301.7 218.6L301.8 218.4L301.7 218.2L300.1 217.8L299.7 217.5L298.3 217.0L296.9 216.3L294.8 215.8L292.6 214.9L291.8 214.9L290.8 214.4L290.2 214.4L288.6 213.7L287.0 213.4L286.0 213.0L284.8 212.9L284.0 212.5L282.8 212.4L281.0 211.8L279.8 211.7L278.6 211.3L275.8 211.0L274.6 210.5L273.4 210.5L273.0 210.3L271.8 210.3L271.4 210.1L269.9 210.1L269.5 209.8L267.5 209.9L267.1 209.6Z" fill="#faf500"/>
<path d="M264.5 209.6L254.1 209.6L253.9 209.9L251.9 209.9L251.7 210.1L250.5 210.1L250.3 210.4L249.7 210.4L249.5 210.6L248.3 210.6L248.1 210.9L247.1 210.9L246.9 211.1L246.3 211.1L246.1 211.4L245.7 211.4L245.5 211.6L244.7 211.6L244.4 211.9L243.4 212.1L241.8 213.1L241.0 213.1L239.4 214.1L239.0 214.6L238.4 214.9L237.8 215.6L237.0 216.1L236.2 217.6L236.2 218.1L237.2 219.7L237.8 219.7L238.4 220.2L239.4 220.2L239.6 220.4L246.1 220.4L246.3 220.2L249.7 220.2L249.9 219.9L252.3 219.9L252.5 219.7L255.9 219.7L256.1 219.4L258.9 219.4L259.1 219.2L264.5 219.2L264.7 218.9L269.3 218.9L269.5 218.7L275.8 218.7L276.2 218.4L298.1 218.5L299.7 218.4L299.8 218.1L299.7 217.9L298.1 217.5L296.6 216.8L296.2 216.8L295.2 216.3L294.6 216.3L293.8 215.8L293.2 215.8L292.4 215.3L291.6 215.3L290.8 214.8L290.0 214.8L288.4 214.1L287.6 214.1L285.8 213.3L284.8 213.3L283.8 212.8L282.8 212.9L280.8 212.1L279.8 212.1L278.6 211.6L277.4 211.6L277.0 211.4L275.6 211.3L274.6 210.9L271.6 210.6L271.4 210.4L269.7 210.4L269.5 210.1L267.3 210.1L267.1 209.9L264.7 209.9L264.5 209.6ZM300.7 218.3L299.9 218.2L299.7 218.4L299.9 218.6L300.7 218.5L300.7 218.3Z" fill="#ff9b00"/>
<path d="M264.5 209.6L254.1 209.6L253.9 209.9L251.9 209.9L251.7 210.1L250.5 210.1L250.3 210.4L249.7 210.4L249.5 210.6L248.3 210.6L248.1 210.9L247.1 210.9L246.9 211.1L246.3 211.1L246.1 211.4L245.7 211.4L245.5 211.6L244.7 211.6L244.4 211.9L243.4 212.1L241.8 213.1L241.0 213.1L239.4 214.1L239.0 214.6L238.4 214.9L237.8 215.6L237.0 216.1L236.2 217.6L236.2 218.1L237.2 219.7L237.8 219.7L238.4 220.2L239.4 220.2L239.6 220.4L246.1 220.4L246.3 220.2L249.7 220.2L249.9 219.9L252.3 219.9L252.5 219.7L255.9 219.7L256.1 219.4L258.9 219.4L259.1 219.2L264.5 219.2L264.7 218.9L269.3 218.9L269.5 218.6L275.8 218.7L276.0 218.4L299.3 218.4L299.7 218.2L299.3 217.9L298.7 217.9L298.5 217.6L297.9 217.6L297.3 217.1L296.9 217.1L296.6 216.9L296.0 216.9L295.2 216.4L294.4 216.4L293.8 215.9L293.0 215.9L292.4 215.4L291.4 215.4L290.8 214.9L289.8 214.9L289.6 214.6L288.6 214.4L288.4 214.1L287.4 214.1L287.2 213.9L286.6 213.9L286.4 213.6L286.0 213.6L285.8 213.4L284.6 213.4L283.8 212.9L282.6 212.9L282.4 212.6L281.0 212.4L280.8 212.1L279.6 212.1L279.4 211.9L278.8 211.9L278.6 211.6L275.6 211.4L275.4 211.1L274.8 211.1L274.6 210.9L273.2 210.9L273.0 210.6L271.6 210.6L271.4 210.4L269.7 210.4L269.5 210.1L267.3 210.1L267.1 209.9L264.7 209.9L264.5 209.6Z" fill="#ff3700"/>
<path d="M236.6 218.1L236.6 218.0L236.6 217.8L236.6 217.6L236.7 217.4L236.7 217.2L236.8 217.0L236.9 216.8L237.1 216.6L237.2 216.4L237.4 216.1L237.6 215.9L237.8 215.7L238.0 215.5L238.3 215.2L238.6 215.0L238.9 214.8L239.2 214.5L239.6 214.3L240.0 214.1L240.4 213.8L240.8 213.6L241.2 213.4L241.7 213.2L242.2 212.9L242.7 212.7L243.2 212.5L243.7 212.3L244.3 212.1L244.8 211.9L245.4 211.7L246.0 211.5L246.7 211.3L247.3 211.1L247.9 211.0L248.6 210.8L249.3 210.6L250.0 210.5L250.7 210.4L251.4 210.2L252.2 210.1L252.9 210.0L253.7 209.9L254.5 209.9L255.2 209.8L256.0 209.8L256.8 209.7L257.6 209.7L258.5 209.7L259.3 209.7L260.1 209.7L260.9 209.7L261.8 209.7L262.6 209.8L263.4 209.8L264.3 209.9L265.1 209.9L265.9 210.0L266.8 210.1L267.6 210.2L268.5 210.3L269.3 210.4L270.1 210.5L271.0 210.6L271.8 210.7L272.6 210.8L273.4 211.0L274.3 211.1L275.1 211.3L275.9 211.4L276.7 211.6L277.5 211.7L278.3 211.9L279.1 212.0L279.8 212.2L280.6 212.4L281.3 212.6L282.1 212.7L282.8 212.9L283.6 213.1L284.3 213.3L285.0 213.5L285.7 213.6L286.3 213.8L287.0 214.0L287.6 214.2L288.3 214.4L288.9 214.6L289.5 214.7L290.1 214.9L290.7 215.1L291.2 215.3L291.8 215.5L292.3 215.6L292.8 215.8L293.3 216.0L293.8 216.1L294.2 216.3L294.7 216.4L295.1 216.6L295.5 216.7L295.9 216.9L296.2 217.0L296.6 217.1L296.9 217.2L297.2 217.4L297.5 217.5L297.7 217.6L298.0 217.7L298.2 217.7L298.4 217.8L298.6 217.9L298.7 217.9L298.9 218.0L299.0 218.0L299.1 218.1L299.2 218.1L299.2 218.1L299.2 218.1L299.3 218.1L299.2 218.1L299.2 218.1L299.2 218.1L299.1 218.1L299.0 218.1L298.9 218.1L298.7 218.1L298.5 218.1L298.4 218.1L298.1 218.1L297.9 218.1L297.7 218.1L297.4 218.1L297.1 218.1L296.8 218.1L296.4 218.1L296.1 218.1L295.7 218.1L295.3 218.1L294.9 218.0L294.5 218.0L294.0 218.0L293.6 218.0L293.1 218.0L292.6 218.0L292.0 218.0L291.5 218.0L290.9 218.0L290.4 218.0L289.8 218.0L289.2 218.0L288.6 218.0L287.9 218.0L287.3 218.0L286.6 218.0L286.0 218.0L285.3 218.0L284.6 218.0L283.9 218.0L283.2 218.0L282.4 218.0L281.7 218.0L281.0 218.0L280.2 218.1L279.5 218.1L278.7 218.1L277.9 218.1L277.1 218.1L276.3 218.1L275.5 218.2L274.7 218.2L273.9 218.2L273.1 218.3L272.3 218.3L271.5 218.3L270.7 218.4L269.9 218.4L269.1 218.4L268.3 218.5L267.4 218.5L266.6 218.5L265.8 218.6L265.0 218.6L264.2 218.7L263.4 218.7L262.6 218.7L261.8 218.8L261.0 218.8L260.2 218.9L259.5 218.9L258.7 218.9L257.9 219.0L257.2 219.1L256.4 219.1L255.7 219.2L255.0 219.2L254.3 219.3L253.6 219.3L252.9 219.4L252.2 219.5L251.5 219.5L250.8 219.6L250.2 219.6L249.5 219.7L248.9 219.7L248.3 219.8L247.6 219.8L247.0 219.9L246.5 219.9L245.9 219.9L245.3 220.0L244.8 220.0L244.3 220.0L243.7 220.0L243.2 220.0L242.8 220.0L242.3 220.0L241.8 220.0L241.4 220.0L241.0 220.0L240.6 220.0L240.2 219.9L239.8 219.9L239.5 219.9L239.2 219.8L238.8 219.7L238.6 219.7L238.3 219.6L238.0 219.5L237.8 219.4L237.6 219.3L237.4 219.2L237.2 219.1L237.1 218.9L236.9 218.8L236.8 218.6L236.7 218.5L236.7 218.3L236.6 218.1Z" fill="#555" stroke="#cc5c14" stroke-width="0.55"/>
<rect x="387.3" y="179.7" width="154.7" height="77.1" fill="#020cfc"/>
<path d="M474.0 194.5L472.4 194.3L469.2 194.4L466.2 194.9L463.3 194.4L460.7 194.3L459.7 194.4L457.7 195.1L456.9 195.1L455.1 195.1L452.6 194.4L451.8 194.9L450.0 195.2L449.4 195.1L447.8 194.4L446.4 194.4L443.4 195.4L436.7 197.2L434.5 198.2L429.7 199.3L425.4 202.1L424.1 203.4L422.0 204.9L420.8 206.1L418.2 208.2L416.9 208.2L415.4 208.6L412.3 211.7L411.4 213.1L410.9 215.5L409.6 217.8L409.6 218.7L409.9 220.0L410.3 220.7L412.7 223.3L413.7 224.8L414.3 225.4L416.1 226.5L418.2 227.1L420.0 228.2L423.2 228.9L427.6 231.1L429.7 231.4L432.1 231.3L433.7 231.9L434.7 231.8L439.9 233.3L441.4 233.3L445.8 234.4L449.6 234.0L451.6 234.2L455.1 235.7L456.3 235.8L457.9 235.4L458.5 235.5L463.5 237.5L465.6 238.0L468.8 237.8L471.2 238.3L472.8 238.4L483.7 237.9L489.0 238.4L490.8 238.3L492.8 237.5L497.0 237.2L503.1 235.8L506.3 236.9L511.7 235.5L518.4 235.2L521.8 234.2L525.9 234.6L529.9 234.2L531.0 233.6L533.9 230.8L535.3 227.8L536.0 224.5L536.2 223.3L536.2 217.0L535.6 212.1L534.9 209.9L533.0 205.9L530.5 203.9L529.5 203.6L526.9 204.1L523.0 203.6L519.4 202.4L514.1 202.2L512.1 201.1L511.3 200.8L508.9 201.2L508.1 201.2L506.9 200.7L505.9 199.9L503.3 200.1L500.9 199.6L497.8 199.4L493.4 197.7L490.6 197.5L488.6 197.8L484.7 196.8L482.9 197.0L482.1 196.9L481.5 196.7L479.6 195.5L476.2 195.2L474.0 194.5Z" fill="#0e3cfc"/>
<path d="M449 202h1v1h-1zM456 202h1v1h-1zM461 202h2v1h-2zM464 202h1v1h-1zM503 202h1v1h-1zM454 203h3v1h-3zM464 203h1v1h-1zM467 203h1v1h-1zM434 204h1v1h-1zM441 204h2v1h-2zM453 204h1v1h-1zM464 204h1v1h-1zM474 204h1v1h-1zM435 205h2v1h-2zM441 205h3v1h-3zM450 205h1v1h-1zM453 205h1v1h-1zM458 205h1v1h-1zM460 205h1v1h-1zM463 205h2v1h-2zM470 205h1v1h-1zM430 206h2v1h-2zM436 206h1v1h-1zM446 206h2v1h-2zM458 206h3v1h-3zM463 206h1v1h-1zM470 206h3v1h-3zM475 206h2v1h-2zM427 207h2v1h-2zM433 207h1v1h-1zM447 207h1v1h-1zM459 207h1v1h-1zM466 207h2v1h-2zM470 207h3v1h-3zM475 207h2v1h-2zM441 208h5v1h-5zM456 208h1v1h-1zM459 208h1v1h-1zM471 208h2v1h-2zM429 209h1v1h-1zM436 209h2v1h-2zM443 209h1v1h-1zM448 209h1v1h-1zM456 209h1v1h-1zM472 209h1v1h-1zM491 209h1v1h-1zM426 210h1v1h-1zM428 210h1v1h-1zM462 210h1v1h-1zM472 210h1v1h-1zM476 210h1v1h-1zM488 210h1v1h-1zM491 210h1v1h-1zM499 210h1v1h-1zM420 211h2v1h-2zM427 211h1v1h-1zM461 211h2v1h-2zM472 211h1v1h-1zM478 211h1v1h-1zM490 211h2v1h-2zM499 211h1v1h-1zM417 212h1v1h-1zM421 212h1v1h-1zM423 212h1v1h-1zM462 212h1v1h-1zM473 212h1v1h-1zM478 212h1v1h-1zM416 213h1v1h-1zM421 213h1v1h-1zM468 213h2v1h-2zM416 214h1v1h-1zM479 214h1v1h-1zM488 214h4v1h-4zM498 214h2v1h-2zM480 215h1v1h-1zM483 215h1v1h-1zM488 215h1v1h-1zM491 215h2v1h-2zM496 215h4v1h-4zM515 215h2v1h-2zM480 216h1v1h-1zM483 216h1v1h-1zM488 216h1v1h-1zM491 216h3v1h-3zM496 216h6v1h-6zM503 216h2v1h-2zM480 217h1v1h-1zM490 217h4v1h-4zM498 217h4v1h-4zM508 217h2v1h-2zM513 217h1v1h-1zM457 218h1v1h-1zM461 218h2v1h-2zM481 218h1v1h-1zM486 218h6v1h-6zM509 218h1v1h-1zM513 218h1v1h-1zM441 219h1v1h-1zM447 219h1v1h-1zM451 219h3v1h-3zM457 219h1v1h-1zM461 219h1v1h-1zM467 219h3v1h-3zM484 219h2v1h-2zM489 219h3v1h-3zM494 219h3v1h-3zM500 219h5v1h-5zM506 219h1v1h-1zM510 219h7v1h-7zM520 219h1v1h-1zM522 219h1v1h-1zM420 220h1v1h-1zM429 220h2v1h-2zM434 220h2v1h-2zM442 220h1v1h-1zM481 220h1v1h-1zM484 220h1v1h-1zM490 220h2v1h-2zM500 220h5v1h-5zM507 220h10v1h-10zM519 220h4v1h-4zM420 221h1v1h-1zM425 221h1v1h-1zM435 221h1v1h-1zM465 221h1v1h-1zM474 221h1v1h-1zM483 221h2v1h-2zM487 221h2v1h-2zM491 221h1v1h-1zM502 221h2v1h-2zM511 221h1v1h-1zM417 222h4v1h-4zM422 222h4v1h-4zM436 222h1v1h-1zM443 222h1v1h-1zM452 222h1v1h-1zM464 222h2v1h-2zM484 222h1v1h-1zM487 222h1v1h-1zM490 222h3v1h-3zM496 222h1v1h-1zM509 222h3v1h-3zM521 222h1v1h-1zM422 223h3v1h-3zM437 223h1v1h-1zM442 223h2v1h-2zM457 223h1v1h-1zM461 223h5v1h-5zM471 223h1v1h-1zM476 223h1v1h-1zM480 223h1v1h-1zM491 223h2v1h-2zM500 223h1v1h-1zM509 223h4v1h-4zM442 224h2v1h-2zM445 224h1v1h-1zM451 224h1v1h-1zM457 224h2v1h-2zM463 224h2v1h-2zM472 224h1v1h-1zM478 224h2v1h-2zM496 224h1v1h-1zM424 225h1v1h-1zM440 225h2v1h-2zM444 225h3v1h-3zM451 225h1v1h-1zM464 225h1v1h-1zM466 225h3v1h-3zM472 225h1v1h-1zM528 225h1v1h-1zM453 226h1v1h-1zM460 226h1v1h-1zM463 226h1v1h-1zM476 226h1v1h-1zM487 226h2v1h-2zM498 226h1v1h-1zM442 227h2v1h-2zM453 227h1v1h-1zM467 227h2v1h-2zM472 227h1v1h-1zM487 227h1v1h-1zM502 227h2v1h-2zM503 228h1v1h-1zM491 236h1v1h-1z" fill="#020cfc"/>
<path d="M460 203h1v1h-1zM435 204h1v1h-1zM443 204h1v1h-1zM475 204h1v1h-1zM432 209h1v1h-1zM435 209h1v1h-1zM484 213h1v1h-1zM495 213h1v1h-1zM517 219h1v1h-1zM526 220h1v1h-1zM442 222h1v1h-1zM445 222h1v1h-1zM456 224h1v1h-1zM443 225h1v1h-1zM508 226h1v1h-1zM457 228h1v1h-1z" fill="#2a7cfa"/>
<path d="M418.2 218.2L418.2 218.1L418.2 217.9L418.2 217.7L418.3 217.5L418.3 217.3L418.4 217.1L418.5 216.9L418.7 216.7L418.8 216.5L419.0 216.3L419.2 216.0L419.4 215.8L419.7 215.6L419.9 215.4L420.2 215.1L420.5 214.9L420.8 214.7L421.2 214.5L421.6 214.2L421.9 214.0L422.4 213.8L422.8 213.5L423.2 213.3L423.7 213.1L424.2 212.9L424.7 212.7L425.2 212.5L425.8 212.2L426.4 212.0L426.9 211.9L427.5 211.7L428.2 211.5L428.8 211.3L429.4 211.1L430.1 211.0L430.8 210.8L431.5 210.7L432.2 210.6L432.9 210.5L433.6 210.3L434.4 210.2L435.1 210.2L435.9 210.1L436.6 210.0L437.4 210.0L438.2 209.9L439.0 209.9L439.8 209.9L440.6 209.9L441.4 209.9L442.3 209.9L443.1 209.9L443.9 210.0L444.7 210.0L445.6 210.1L446.4 210.1L447.2 210.2L448.0 210.3L448.9 210.4L449.7 210.5L450.5 210.6L451.3 210.7L452.2 210.8L453.0 210.9L453.8 211.0L454.6 211.2L455.4 211.3L456.2 211.4L457.0 211.6L457.8 211.7L458.6 211.9L459.4 212.1L460.2 212.2L460.9 212.4L461.7 212.6L462.4 212.7L463.2 212.9L463.9 213.1L464.6 213.3L465.3 213.4L466.0 213.6L466.7 213.8L467.3 214.0L468.0 214.2L468.6 214.3L469.3 214.5L469.9 214.7L470.5 214.9L471.1 215.1L471.6 215.2L472.2 215.4L472.7 215.6L473.2 215.8L473.7 215.9L474.2 216.1L474.7 216.2L475.1 216.4L475.6 216.6L476.0 216.7L476.4 216.8L476.8 217.0L477.1 217.1L477.5 217.2L477.8 217.4L478.1 217.5L478.4 217.6L478.6 217.7L478.9 217.8L479.1 217.8L479.3 217.9L479.4 218.0L479.6 218.0L479.7 218.1L479.9 218.1L480.0 218.2L480.0 218.2L480.1 218.2L480.1 218.2L480.1 218.2L480.1 218.2L480.1 218.2L480.0 218.2L479.9 218.2L479.8 218.2L479.7 218.2L479.6 218.2L479.4 218.2L479.2 218.2L479.0 218.2L478.8 218.2L478.5 218.2L478.3 218.2L478.0 218.2L477.7 218.2L477.3 218.2L477.0 218.2L476.6 218.2L476.2 218.2L475.8 218.1L475.4 218.1L474.9 218.1L474.5 218.1L474.0 218.1L473.5 218.1L473.0 218.1L472.5 218.1L471.9 218.1L471.3 218.1L470.8 218.1L470.2 218.1L469.6 218.1L468.9 218.1L468.3 218.1L467.7 218.1L467.0 218.1L466.3 218.1L465.6 218.1L464.9 218.1L464.2 218.1L463.5 218.1L462.8 218.1L462.0 218.1L461.3 218.2L460.6 218.2L459.8 218.2L459.0 218.2L458.3 218.2L457.5 218.2L456.7 218.3L455.9 218.3L455.1 218.3L454.3 218.4L453.5 218.4L452.7 218.4L451.9 218.5L451.1 218.5L450.3 218.5L449.5 218.6L448.7 218.6L447.9 218.6L447.1 218.7L446.3 218.7L445.5 218.7L444.7 218.8L443.9 218.8L443.1 218.9L442.3 218.9L441.6 218.9L440.8 219.0L440.0 219.0L439.3 219.1L438.6 219.1L437.8 219.2L437.1 219.2L436.4 219.3L435.7 219.4L435.0 219.4L434.3 219.5L433.6 219.5L432.9 219.6L432.3 219.6L431.6 219.7L431.0 219.8L430.3 219.8L429.7 219.9L429.1 219.9L428.5 219.9L428.0 220.0L427.4 220.0L426.8 220.0L426.3 220.1L425.8 220.1L425.3 220.1L424.8 220.1L424.3 220.1L423.8 220.1L423.4 220.1L423.0 220.1L422.5 220.1L422.2 220.1L421.8 220.0L421.4 220.0L421.1 219.9L420.7 219.9L420.4 219.8L420.1 219.7L419.9 219.7L419.6 219.6L419.4 219.5L419.2 219.4L419.0 219.3L418.8 219.1L418.7 219.0L418.5 218.9L418.4 218.7L418.4 218.6L418.3 218.4L418.2 218.2Z" fill="#555"/>
<g class="tk"><text x="20.4" y="182.0" text-anchor="end">0.5</text><text x="20.4" y="201.0" text-anchor="end">0.25</text><text x="20.4" y="220.0" text-anchor="end">0</text><text x="20.4" y="240.0" text-anchor="end">-0.25</text><text x="20.4" y="259.0" text-anchor="end">-0.5</text><text x="24.6" y="262.0" text-anchor="middle">-0.5</text><text x="55.5" y="262.0" text-anchor="middle">0</text><text x="86.4" y="262.0" text-anchor="middle">0.5</text><text x="117.3" y="262.0" text-anchor="middle">1</text><text x="148.2" y="262.0" text-anchor="middle">1.5</text><text x="179.1" y="262.0" text-anchor="middle">2</text></g><text class="ax" x="101.8" y="268.0" text-anchor="middle">x</text><text class="ax" transform="translate(8.8 218.5) rotate(-90)" text-anchor="middle">y</text>
<g class="tk"><text x="201.1" y="181.0" text-anchor="end">0.5</text><text x="201.1" y="200.0" text-anchor="end">0.25</text><text x="201.1" y="220.0" text-anchor="end">0</text><text x="201.1" y="239.0" text-anchor="end">-0.25</text><text x="201.1" y="259.0" text-anchor="end">-0.5</text><text x="205.3" y="262.0" text-anchor="middle">-0.5</text><text x="236.6" y="262.0" text-anchor="middle">0</text><text x="267.9" y="262.0" text-anchor="middle">0.5</text><text x="299.3" y="262.0" text-anchor="middle">1</text><text x="330.6" y="262.0" text-anchor="middle">1.5</text><text x="361.9" y="262.0" text-anchor="middle">2</text></g><text class="ax" x="283.6" y="268.0" text-anchor="middle">x</text><text class="ax" transform="translate(189.5 218.1) rotate(-90)" text-anchor="middle">y</text>
<g class="tk"><text x="383.1" y="181.0" text-anchor="end">0.5</text><text x="383.1" y="201.0" text-anchor="end">0.25</text><text x="383.1" y="220.0" text-anchor="end">0</text><text x="383.1" y="239.0" text-anchor="end">-0.25</text><text x="383.1" y="259.0" text-anchor="end">-0.5</text><text x="387.3" y="261.0" text-anchor="middle">-0.5</text><text x="418.2" y="261.0" text-anchor="middle">0</text><text x="449.2" y="261.0" text-anchor="middle">0.5</text><text x="480.1" y="261.0" text-anchor="middle">1</text><text x="511.1" y="261.0" text-anchor="middle">1.5</text><text x="542.0" y="261.0" text-anchor="middle">2</text></g><text class="ax" x="464.6" y="267.0" text-anchor="middle">x</text><text class="ax" transform="translate(371.5 218.2) rotate(-90)" text-anchor="middle">y</text>
<rect x="23.2" y="299.8" width="155.9" height="77.5" fill="#0008fc"/>
<path d="M110.7 316.2L108.1 316.0L102.5 316.4L97.0 317.3L96.0 317.3L94.6 317.6L91.2 317.8L89.0 318.2L88.0 318.1L84.0 318.8L83.0 318.8L72.0 320.9L71.0 321.4L68.4 322.0L64.4 323.6L61.6 324.9L57.8 327.3L56.2 328.4L54.4 330.0L53.4 330.4L50.5 332.6L49.1 334.8L48.6 338.1L48.6 339.3L49.1 342.5L50.3 344.3L52.6 346.3L54.2 346.9L58.0 349.6L61.8 351.7L63.8 352.4L64.8 352.9L72.0 354.7L74.4 355.2L75.4 355.2L78.2 355.7L79.2 355.6L81.4 356.0L82.4 356.0L84.0 356.3L89.8 356.6L91.2 356.8L93.8 356.8L99.0 357.6L102.7 357.7L103.9 358.0L105.7 357.9L108.7 357.5L111.3 356.9L113.7 356.7L120.3 357.6L123.5 357.6L125.5 357.8L127.5 357.7L131.7 357.0L132.7 357.0L134.7 356.6L135.7 356.6L138.9 356.3L139.9 356.4L142.9 356.0L143.9 356.2L149.1 355.6L150.1 355.8L158.3 355.1L159.5 355.2L168.7 354.0L169.5 353.2L170.5 350.5L171.1 346.6L171.1 336.6L170.3 330.6L169.7 328.5L168.9 327.2L160.1 325.6L159.1 325.2L150.9 324.3L149.9 323.9L144.7 323.2L143.7 322.8L140.7 322.4L139.7 322.0L136.5 321.5L135.5 321.1L133.5 320.9L130.3 320.0L128.3 319.8L124.3 318.8L123.1 318.9L121.7 318.1L119.5 317.5L110.7 316.2Z" fill="#0329fc"/>
<path d="M109.9 322.4L106.3 322.3L100.4 322.5L94.6 323.1L91.2 323.1L89.0 323.5L88.0 323.4L84.0 324.1L83.0 324.0L72.0 325.9L71.0 326.3L68.4 326.8L62.8 328.4L57.2 330.7L54.4 332.5L52.3 334.1L51.1 336.1L50.8 338.1L50.8 339.3L51.1 341.3L52.8 343.5L53.6 344.2L55.8 345.4L59.0 346.8L61.8 347.8L63.8 348.1L64.8 348.5L74.4 350.1L75.4 350.0L78.2 350.5L79.2 350.4L81.4 350.8L82.4 350.8L86.4 351.2L87.4 351.1L91.2 351.5L93.8 351.4L95.2 351.6L97.8 351.6L99.0 351.9L105.7 351.9L113.7 350.6L120.3 350.8L123.5 350.4L125.5 350.4L127.5 350.1L129.5 349.6L132.7 349.3L134.7 348.9L135.7 349.0L138.9 348.7L139.9 348.9L142.9 348.7L143.9 348.9L149.1 348.6L150.1 348.7L158.3 348.0L159.3 348.2L164.5 347.5L165.7 346.6L166.7 345.1L167.1 343.8L167.1 340.4L166.9 339.3L165.9 336.9L165.1 335.9L164.3 335.4L160.1 334.7L159.1 334.4L150.9 333.4L149.9 333.0L144.7 332.6L143.7 332.3L140.7 332.1L139.7 331.7L136.5 331.4L135.5 331.0L133.5 330.7L130.3 329.5L128.3 329.0L124.3 327.5L121.1 326.8L119.3 325.6L118.9 325.2L116.9 324.2L112.7 322.9L109.9 322.4Z" fill="#063efc"/>
<path d="M108.7 325.9L102.5 325.6L97.0 325.8L96.0 325.7L94.6 325.9L93.6 325.8L92.2 326.0L91.2 325.8L89.0 326.1L88.0 326.0L84.0 326.5L83.0 326.4L72.0 328.0L71.0 328.3L68.4 328.7L61.6 330.6L57.8 332.1L55.0 333.8L53.2 335.3L52.3 336.8L52.1 338.1L52.3 340.5L53.6 342.3L54.6 343.0L58.0 344.7L61.8 346.0L63.8 346.3L64.8 346.7L74.4 348.0L75.4 347.9L81.4 348.5L82.4 348.4L84.0 348.6L85.0 348.5L88.8 348.7L93.8 348.6L95.2 348.8L97.8 348.6L99.0 348.8L102.7 348.5L103.9 348.6L108.7 348.0L111.3 347.4L113.7 347.2L120.3 347.2L123.5 346.8L125.5 346.9L127.5 346.8L129.5 346.4L132.7 346.2L134.7 345.9L135.7 346.0L138.9 345.5L139.9 345.6L142.9 345.2L143.9 345.3L149.1 344.7L150.1 344.8L152.3 344.7L155.3 344.0L156.5 343.3L157.1 342.6L157.1 341.2L156.7 340.6L155.7 339.7L154.3 339.0L152.7 338.7L150.9 338.5L149.9 338.1L144.7 337.3L143.7 336.9L136.5 335.4L135.5 334.9L133.5 334.6L132.5 334.1L131.3 333.9L130.3 333.5L128.3 333.1L124.3 331.7L123.1 331.5L120.5 330.6L119.1 329.9L117.5 328.6L114.9 327.3L112.1 326.4L108.7 325.9Z" fill="#0069ff"/>
<path d="M110.7 326.9L102.5 326.7L101.3 326.9L96.0 326.8L94.6 327.0L93.6 326.9L92.2 327.1L91.2 326.9L89.0 327.2L88.0 327.1L84.0 327.6L83.0 327.5L76.4 328.4L72.0 328.9L71.0 329.3L68.4 329.7L61.6 331.5L58.0 333.0L55.2 334.6L54.4 335.4L53.4 336.1L52.7 337.1L52.5 338.1L52.7 340.3L55.0 342.3L59.0 344.5L61.8 345.6L63.8 346.1L64.8 346.6L70.0 348.0L74.4 348.8L75.4 348.7L81.4 349.5L82.4 349.5L84.0 349.8L89.8 350.1L91.2 350.3L93.8 350.3L95.2 350.6L97.8 350.5L99.0 350.8L103.9 350.4L111.3 349.0L113.7 348.8L115.9 348.9L117.9 348.6L122.3 347.8L123.5 347.4L127.5 346.8L129.5 346.2L132.7 345.7L134.7 345.1L135.7 345.1L138.9 344.2L139.9 344.2L143.1 343.4L143.9 343.4L149.7 342.2L150.1 342.4L152.7 342.0L150.3 341.7L149.9 341.4L144.5 340.3L143.7 339.9L140.7 339.1L139.7 338.6L136.5 337.7L135.5 337.2L131.3 335.7L130.3 335.1L128.3 334.5L124.3 332.4L121.1 331.1L119.1 329.9L117.5 328.5L115.5 327.6L112.9 327.1L110.7 326.9Z" fill="#009cff"/>
<path d="M102.5 328.1L99.2 328.2L96.0 328.1L94.6 328.2L93.6 328.1L92.2 328.2L91.2 328.1L89.0 328.3L88.0 328.2L84.0 328.6L83.0 328.5L72.0 329.7L71.0 330.0L68.4 330.3L64.4 331.2L61.6 332.0L58.2 333.3L55.4 334.8L54.4 335.9L53.6 336.4L53.1 337.3L52.9 338.1L53.1 340.0L55.0 342.0L59.0 344.0L61.8 345.0L63.8 345.4L64.8 345.9L70.0 347.0L74.4 347.7L75.4 347.6L81.4 348.2L82.4 348.1L84.0 348.4L89.8 348.5L91.2 348.7L97.8 348.7L99.0 348.9L103.9 348.5L111.3 347.1L113.7 346.9L115.9 347.1L118.3 346.8L122.3 346.1L123.5 345.7L127.5 345.2L129.5 344.5L132.7 344.1L134.7 343.5L135.7 343.5L139.1 342.7L139.9 342.7L143.5 342.0L143.9 342.1L146.5 341.8L144.1 341.4L143.7 341.1L140.3 340.4L139.7 340.0L136.5 339.3L135.5 338.8L133.5 338.2L131.3 337.3L130.3 336.8L128.3 336.2L124.3 334.1L121.1 332.8L118.7 331.5L116.9 330.0L114.9 329.1L109.7 328.3L102.5 328.1Z" fill="#00d2ff"/>
<path d="M100.4 329.1L94.6 329.1L93.6 329.0L92.2 329.1L91.2 328.9L89.0 329.1L88.0 329.0L84.0 329.4L83.0 329.2L72.0 330.2L71.0 330.5L68.4 330.8L67.4 331.1L64.4 331.6L61.6 332.4L58.2 333.6L55.5 335.1L53.8 336.6L53.4 337.3L53.2 338.1L53.3 339.8L54.6 341.4L56.8 342.7L59.0 343.7L61.8 344.6L63.8 344.9L64.8 345.4L70.0 346.3L74.4 346.9L75.4 346.8L81.4 347.3L82.4 347.2L84.0 347.4L89.8 347.3L91.2 347.5L93.8 347.4L95.2 347.5L97.8 347.4L100.4 347.4L105.7 346.8L111.3 345.7L113.7 345.5L115.9 345.7L118.1 345.5L122.3 344.8L123.5 344.4L125.5 344.2L129.5 343.2L130.5 343.1L131.9 342.7L132.7 342.8L135.1 342.1L135.7 342.3L139.7 341.4L139.8 341.3L139.7 341.1L136.1 340.4L135.5 340.0L133.3 339.5L130.3 338.1L128.3 337.5L126.3 336.7L124.3 335.5L121.1 334.2L118.1 332.5L116.5 331.1L114.5 330.3L109.7 329.5L100.4 329.1ZM140.9 341.5L139.9 341.4L139.8 341.5L139.9 341.7L140.9 341.5Z" fill="#00faf0"/>
<path d="M98.4 329.9L94.6 329.8L93.6 329.7L92.2 329.8L91.2 329.6L89.0 329.8L88.0 329.6L84.0 329.9L83.0 329.8L72.0 330.6L71.0 330.9L68.4 331.1L65.6 331.9L64.4 332.0L61.6 332.7L58.4 333.8L55.6 335.2L53.7 337.1L53.4 338.1L53.5 339.8L55.2 341.6L58.6 343.3L61.8 344.3L63.8 344.6L64.8 344.9L70.0 345.8L74.4 346.2L75.4 346.1L81.4 346.5L82.4 346.4L84.0 346.5L85.0 346.4L91.2 346.6L97.8 346.3L99.0 346.4L105.7 345.7L111.3 344.6L113.7 344.5L115.9 344.9L117.1 344.8L122.3 343.6L123.5 343.2L125.5 343.0L129.7 341.9L130.5 342.0L132.1 341.5L132.7 341.6L135.6 341.0L132.9 340.5L132.5 340.1L130.9 339.7L130.3 339.3L128.1 338.7L127.3 338.2L126.3 337.8L124.3 336.7L121.1 335.3L117.9 333.2L116.3 331.8L114.1 331.1L108.1 330.3L98.4 329.9Z" fill="#00ff78"/>
<path d="M93.8 330.3L92.2 330.4L91.2 330.2L89.0 330.4L88.0 330.2L84.0 330.4L83.0 330.3L72.0 331.0L71.2 331.3L68.4 331.5L67.6 331.8L66.4 331.9L65.6 332.2L62.8 332.6L58.4 334.0L55.6 335.4L53.9 337.1L53.5 338.1L53.6 339.5L53.8 340.0L55.2 341.4L58.6 343.0L61.8 344.0L64.0 344.2L64.8 344.6L70.0 345.3L74.4 345.7L75.4 345.5L78.2 345.8L79.2 345.6L81.4 345.8L82.4 345.7L84.0 345.8L85.0 345.7L91.2 345.7L93.8 345.5L95.2 345.6L97.8 345.4L99.0 345.5L105.7 344.7L111.3 343.6L113.7 343.5L115.9 343.9L116.9 343.8L120.3 343.1L123.5 342.2L125.5 342.0L126.9 341.6L127.5 341.6L130.1 340.9L130.5 341.1L132.1 340.8L130.7 340.5L130.3 340.2L127.9 339.6L127.3 339.1L126.1 338.8L124.3 337.7L121.1 336.3L118.1 334.3L115.9 332.5L113.9 331.9L108.1 331.1L93.8 330.3Z" fill="#00ff3c"/>
<path d="M91.4 330.8L89.0 330.9L88.0 330.7L84.0 330.9L83.0 330.7L72.0 331.3L71.2 331.6L68.4 331.8L67.6 332.1L66.4 332.1L65.6 332.4L62.8 332.8L58.6 334.1L55.6 335.6L54.1 337.1L53.7 338.1L53.7 339.5L54.8 340.9L55.3 341.3L59.0 342.9L59.8 343.0L61.8 343.7L64.0 343.9L64.8 344.2L74.4 345.2L75.4 345.0L78.2 345.2L79.2 345.0L84.0 345.1L89.8 344.8L91.2 345.0L93.8 344.7L95.2 344.8L97.8 344.5L99.0 344.6L105.7 343.7L111.3 342.7L113.7 342.6L115.9 343.0L117.1 342.9L120.3 342.3L123.7 341.3L125.5 341.2L127.1 340.8L127.5 340.9L129.3 340.6L127.7 340.2L127.3 339.9L125.9 339.5L124.3 338.5L121.1 337.1L117.3 334.7L115.6 333.3L113.5 332.6L109.7 332.0L104.5 331.5L91.4 330.8Z" fill="#00fc14"/>
<path d="M91.4 331.3L89.0 331.4L88.0 331.2L83.8 331.4L83.0 331.2L72.0 331.7L71.2 331.9L68.4 332.1L67.8 332.3L66.4 332.4L65.8 332.7L62.8 333.1L58.6 334.3L55.8 335.7L54.1 337.3L53.8 338.1L53.9 339.5L54.8 340.8L55.4 341.2L58.8 342.7L61.2 343.1L61.8 343.4L64.0 343.6L64.8 343.9L74.4 344.7L75.4 344.5L78.2 344.7L79.2 344.5L84.0 344.5L87.4 344.2L91.2 344.2L93.8 343.9L95.2 344.0L97.8 343.6L99.0 343.7L105.7 342.9L111.3 341.8L113.7 341.8L115.9 342.2L117.3 342.1L120.3 341.5L123.9 340.6L125.1 340.5L125.5 340.6L127.3 340.3L125.7 340.0L124.3 339.1L122.7 338.6L122.1 338.2L120.9 337.8L115.3 334.0L113.3 333.3L109.7 332.7L104.5 332.2L91.4 331.3Z" fill="#00ff00"/>
<path d="M83.0 331.6L72.0 331.9L71.4 332.2L68.4 332.3L67.8 332.6L66.4 332.6L65.8 332.9L64.4 333.0L63.8 333.2L61.6 333.6L58.6 334.5L58.0 334.9L57.4 335.0L55.8 335.8L54.2 337.3L53.9 338.1L54.0 339.5L55.4 341.0L58.8 342.5L61.2 342.9L61.8 343.2L64.2 343.3L64.8 343.6L74.4 344.2L75.2 344.0L78.2 344.2L79.0 344.0L84.0 344.0L89.8 343.5L91.2 343.6L93.8 343.2L95.2 343.3L97.8 342.9L99.0 343.0L102.7 342.4L105.7 342.1L111.3 341.1L113.7 341.0L115.9 341.4L117.3 341.4L120.3 341.0L121.7 340.5L122.3 340.6L124.1 340.1L124.5 340.3L125.4 340.0L120.7 338.2L115.1 334.6L112.1 333.7L104.5 332.8L99.2 332.5L98.2 332.3L96.8 332.3L96.0 332.1L92.0 332.0L91.2 331.8L88.8 331.8L88.0 331.6L83.8 331.8L83.0 331.6Z" fill="#00ff00"/>
<path d="M88.0 332.3L83.6 332.4L83.0 332.2L72.0 332.4L71.4 332.7L68.4 332.7L68.0 333.0L66.4 333.0L66.0 333.3L62.8 333.6L62.4 333.8L60.6 334.1L59.4 334.7L58.8 334.7L58.0 335.2L57.6 335.2L55.8 336.1L54.4 337.4L54.1 338.1L54.1 339.3L55.0 340.5L55.6 340.9L59.0 342.2L60.0 342.3L60.3 342.5L61.4 342.6L61.8 342.8L64.2 342.9L64.8 343.2L74.4 343.6L75.0 343.3L78.2 343.4L78.8 343.2L81.4 343.3L82.0 343.1L84.0 343.1L84.6 342.9L86.4 342.9L87.2 342.7L91.2 342.6L93.6 342.2L95.2 342.2L97.6 341.8L99.0 341.8L102.5 341.1L105.7 340.9L107.7 340.4L108.7 340.4L111.1 339.9L113.9 339.9L115.9 340.3L117.1 340.3L119.9 339.9L120.3 340.0L122.2 339.5L120.5 339.1L114.7 335.6L112.1 334.8L108.1 334.1L107.1 334.1L104.5 333.7L103.3 333.7L102.5 333.5L98.8 333.3L98.2 333.1L96.6 333.1L96.0 332.9L94.2 332.9L93.6 332.7L91.8 332.7L91.2 332.5L88.6 332.5L88.0 332.3Z" fill="#7dff00"/>
<path d="M88.2 332.8L83.4 332.8L83.0 332.6L72.0 332.7L71.6 333.0L68.4 333.0L68.0 333.3L66.4 333.3L66.0 333.5L64.4 333.6L64.0 333.8L62.8 333.8L62.6 334.1L61.6 334.1L61.4 334.3L60.6 334.3L60.4 334.6L59.8 334.6L59.6 334.8L58.8 334.8L58.2 335.3L57.6 335.3L56.4 336.1L56.0 336.1L54.4 337.6L54.2 338.1L54.2 339.3L55.2 340.5L55.6 340.8L56.6 341.0L57.4 341.5L58.0 341.5L58.2 341.8L58.8 341.8L59.0 342.0L60.2 342.1L60.4 342.3L61.4 342.3L61.8 342.6L64.4 342.6L64.8 342.9L74.4 343.1L74.8 342.8L78.2 342.9L78.8 342.6L81.4 342.7L82.0 342.4L84.0 342.5L84.6 342.2L86.4 342.3L87.0 342.0L91.2 341.8L93.4 341.4L95.2 341.4L97.4 341.0L99.0 341.0L99.6 340.7L101.7 340.5L102.3 340.3L105.7 340.0L107.5 339.5L108.7 339.5L110.9 339.0L114.1 339.0L115.9 339.4L117.1 339.5L117.9 339.3L118.3 339.4L119.1 339.2L119.3 339.0L114.5 336.3L112.1 335.5L111.3 335.5L109.7 335.0L108.7 335.0L108.1 334.8L105.1 334.6L104.5 334.3L103.1 334.4L102.5 334.1L98.8 333.9L98.2 333.7L96.6 333.7L96.0 333.4L94.2 333.5L93.6 333.2L91.8 333.2L91.2 333.0L88.4 333.0L88.2 332.8Z" fill="#faf500"/>
<path d="M83.0 332.8L72.0 332.8L71.8 333.1L68.4 333.1L68.2 333.3L66.4 333.3L66.2 333.6L64.4 333.6L64.2 333.8L62.8 333.8L62.6 334.1L61.6 334.1L61.4 334.3L60.6 334.3L60.4 334.6L59.8 334.6L59.6 334.8L58.8 334.8L58.2 335.3L57.6 335.3L56.4 336.1L56.0 336.1L54.4 337.6L54.2 338.1L54.2 339.3L55.2 340.5L55.6 340.8L56.6 341.0L57.4 341.5L58.0 341.5L58.2 341.8L58.8 341.8L59.0 342.0L60.2 342.0L60.4 342.3L61.6 342.3L61.8 342.5L64.6 342.5L64.8 342.8L74.4 342.8L74.6 342.5L78.2 342.5L78.4 342.3L81.4 342.3L81.6 342.0L84.0 342.0L84.2 341.8L86.4 341.8L86.6 341.5L88.8 341.5L89.0 341.3L91.2 341.3L91.4 341.1L92.8 341.1L93.2 340.8L95.2 340.8L95.4 340.6L96.8 340.6L97.2 340.3L99.0 340.3L99.4 340.1L100.4 340.1L100.8 339.8L101.7 339.9L102.1 339.6L103.9 339.6L104.3 339.4L105.7 339.4L107.3 338.9L108.7 338.9L109.1 338.7L110.3 338.7L110.7 338.4L114.3 338.4L114.7 338.7L115.5 338.7L115.9 338.9L117.1 338.8L117.3 338.6L117.1 338.3L116.7 338.3L114.7 337.2L114.1 336.7L113.7 336.7L112.1 336.0L111.1 336.0L109.7 335.5L106.7 335.2L106.3 335.0L104.9 335.0L104.5 334.7L102.9 334.8L102.5 334.5L100.8 334.5L100.4 334.3L98.6 334.3L98.2 334.0L96.4 334.0L96.0 333.8L91.4 333.6L91.2 333.3L88.2 333.3L88.0 333.1L83.2 333.1L83.0 332.8ZM118.1 338.7L117.3 338.6L117.2 338.8L117.3 339.0L118.1 338.9L118.1 338.7Z" fill="#ff9b00"/>
<path d="M83.0 332.8L72.0 332.8L71.8 333.1L68.4 333.1L68.2 333.3L66.4 333.3L66.2 333.6L64.4 333.6L64.2 333.8L62.8 333.8L62.6 334.1L61.6 334.1L61.4 334.3L60.6 334.3L60.4 334.6L59.8 334.6L59.6 334.8L58.8 334.8L58.2 335.3L57.6 335.3L56.4 336.1L56.0 336.1L54.4 337.6L54.2 338.1L54.2 339.3L55.2 340.5L55.6 340.8L56.6 341.0L57.4 341.5L58.0 341.5L58.2 341.8L58.8 341.8L59.0 342.0L60.2 342.0L60.4 342.3L61.6 342.3L61.8 342.5L64.6 342.5L64.8 342.8L74.4 342.8L74.6 342.5L78.2 342.5L78.4 342.3L81.4 342.3L81.6 342.0L84.0 342.0L84.2 341.8L86.4 341.8L86.6 341.5L91.2 341.3L91.4 341.0L92.8 341.0L93.0 340.8L95.2 340.8L95.4 340.5L96.8 340.5L97.0 340.3L99.0 340.3L99.2 340.0L101.7 339.8L101.9 339.5L103.9 339.5L104.1 339.3L105.7 339.3L105.9 339.0L106.9 339.0L107.1 338.8L108.7 338.8L108.9 338.5L110.3 338.5L110.5 338.3L114.5 338.3L114.7 338.5L115.7 338.5L115.9 338.8L116.7 338.8L117.1 338.6L116.3 338.1L115.9 338.1L114.9 337.3L114.5 337.3L114.1 336.8L113.5 336.8L113.3 336.6L112.3 336.3L112.1 336.1L110.9 336.1L110.7 335.8L109.9 335.8L109.7 335.6L108.3 335.6L108.1 335.3L106.5 335.3L106.3 335.1L104.7 335.1L104.5 334.8L102.7 334.8L102.5 334.6L100.6 334.6L100.4 334.3L98.4 334.3L98.2 334.1L96.2 334.1L96.0 333.8L91.4 333.6L91.2 333.3L88.2 333.3L88.0 333.1L83.2 333.1L83.0 332.8Z" fill="#ff3700"/>
<path d="M54.4 338.6L54.4 338.4L54.4 338.2L54.5 338.0L54.5 337.8L54.6 337.7L54.7 337.5L54.9 337.3L55.0 337.1L55.2 337.0L55.4 336.8L55.6 336.6L55.9 336.4L56.1 336.3L56.4 336.1L56.7 336.0L57.0 335.8L57.4 335.6L57.7 335.5L58.1 335.3L58.5 335.2L58.9 335.1L59.4 334.9L59.8 334.8L60.3 334.6L60.8 334.5L61.3 334.4L61.9 334.3L62.4 334.2L63.0 334.1L63.5 333.9L64.1 333.9L64.7 333.8L65.4 333.7L66.0 333.6L66.6 333.5L67.3 333.4L68.0 333.4L68.7 333.3L69.4 333.2L70.1 333.2L70.8 333.1L71.5 333.1L72.3 333.1L73.0 333.0L73.8 333.0L74.6 333.0L75.4 333.0L76.1 333.0L76.9 333.0L77.7 333.0L78.5 333.0L79.3 333.0L80.1 333.0L81.0 333.0L81.8 333.0L82.6 333.1L83.4 333.1L84.3 333.1L85.1 333.2L85.9 333.2L86.7 333.3L87.6 333.3L88.4 333.4L89.2 333.4L90.0 333.5L90.8 333.6L91.7 333.6L92.5 333.7L93.3 333.8L94.1 333.9L94.8 333.9L95.6 334.0L96.4 334.1L97.2 334.2L97.9 334.3L98.7 334.3L99.4 334.4L100.2 334.5L100.9 334.6L101.6 334.7L102.3 334.8L103.0 334.9L103.7 334.9L104.3 335.0L105.0 335.1L105.6 335.2L106.3 335.3L106.9 335.4L107.5 335.5L108.0 335.6L108.6 335.6L109.1 335.7L109.7 335.8L110.2 335.9L110.7 336.0L111.2 336.1L111.7 336.2L112.1 336.3L112.6 336.4L113.0 336.6L113.4 336.7L113.7 336.9L114.1 337.0L114.4 337.2L114.7 337.3L115.0 337.5L115.3 337.6L115.5 337.7L115.7 337.9L115.9 338.0L116.1 338.1L116.2 338.2L116.4 338.3L116.5 338.4L116.6 338.4L116.6 338.5L116.7 338.5L116.7 338.5L116.7 338.6L116.7 338.5L116.7 338.5L116.6 338.5L116.6 338.5L116.5 338.5L116.3 338.4L116.2 338.4L116.0 338.3L115.8 338.3L115.6 338.2L115.4 338.2L115.1 338.1L114.9 338.1L114.6 338.0L114.2 338.0L113.9 338.0L113.6 337.9L113.2 337.9L112.8 337.9L112.4 337.9L112.0 337.9L111.6 337.9L111.1 338.0L110.7 338.0L110.2 338.1L109.7 338.2L109.1 338.3L108.6 338.4L108.0 338.4L107.5 338.5L106.9 338.6L106.3 338.7L105.6 338.8L105.0 338.9L104.4 339.0L103.7 339.1L103.0 339.2L102.3 339.3L101.6 339.4L100.9 339.5L100.2 339.6L99.5 339.7L98.7 339.8L98.0 339.9L97.2 340.0L96.5 340.1L95.7 340.2L94.9 340.3L94.1 340.4L93.3 340.5L92.5 340.6L91.7 340.7L90.9 340.8L90.1 340.9L89.3 341.0L88.5 341.1L87.7 341.2L86.9 341.3L86.0 341.4L85.2 341.4L84.4 341.5L83.6 341.6L82.8 341.7L81.9 341.8L81.1 341.8L80.3 341.9L79.5 342.0L78.7 342.0L77.9 342.1L77.1 342.1L76.3 342.2L75.6 342.2L74.8 342.3L74.0 342.3L73.3 342.3L72.5 342.4L71.8 342.4L71.0 342.4L70.3 342.4L69.6 342.4L68.9 342.4L68.2 342.4L67.6 342.4L66.9 342.4L66.2 342.4L65.6 342.3L65.0 342.3L64.4 342.3L63.8 342.2L63.2 342.2L62.6 342.1L62.1 342.0L61.6 342.0L61.0 341.9L60.5 341.8L60.1 341.7L59.6 341.6L59.2 341.6L58.7 341.5L58.3 341.3L57.9 341.2L57.6 341.1L57.2 341.0L56.9 340.9L56.6 340.8L56.3 340.6L56.0 340.5L55.8 340.3L55.5 340.2L55.3 340.1L55.1 339.9L55.0 339.7L54.8 339.6L54.7 339.4L54.6 339.3L54.5 339.1L54.4 338.9L54.4 338.7L54.4 338.6Z" fill="#555" stroke="#cc5c14" stroke-width="0.55"/>
<rect x="205.3" y="299.4" width="155.6" height="77.8" fill="#0008fc"/>
<path d="M286.1 321.1L284.9 321.5L283.5 321.6L282.9 321.9L281.1 321.8L280.3 322.4L279.5 322.3L276.5 322.6L275.5 321.8L274.1 323.0L273.3 322.8L272.5 323.0L271.5 322.7L270.9 323.2L270.3 323.2L269.9 323.7L269.5 323.9L268.3 323.3L267.7 322.7L267.3 322.6L266.1 323.1L265.3 322.8L265.0 323.1L264.7 323.9L264.3 324.2L263.6 323.8L262.4 323.8L261.4 324.0L261.0 323.5L260.6 323.4L259.8 323.8L259.2 324.5L258.4 324.2L258.0 324.2L257.4 325.1L256.0 324.4L254.6 325.0L253.6 324.8L253.0 325.6L251.8 325.7L250.4 326.2L249.0 327.3L248.4 326.7L247.8 326.5L247.3 326.6L246.6 327.1L245.8 326.8L245.4 328.0L244.2 328.7L243.2 328.7L242.2 329.3L241.8 330.0L241.0 329.8L240.2 330.0L238.8 329.9L238.4 330.4L237.0 331.4L236.4 331.6L235.4 331.6L235.5 332.3L235.2 332.8L234.6 333.4L233.6 333.7L232.6 334.6L232.7 335.3L232.2 336.8L232.4 338.3L232.2 339.3L232.9 339.8L233.1 340.3L233.6 342.0L233.8 343.3L234.8 344.3L235.4 344.6L236.4 344.5L236.8 344.7L237.1 345.0L237.2 345.8L237.6 346.3L239.4 346.3L240.2 346.7L241.0 347.3L241.8 346.9L242.4 347.1L243.2 347.1L244.6 348.1L245.8 348.5L246.6 349.5L247.4 349.0L249.8 348.5L252.0 349.2L253.2 349.4L253.8 350.2L255.2 350.5L255.6 351.0L256.0 351.2L256.8 350.3L257.6 350.6L258.4 350.3L260.0 350.5L260.8 350.8L261.6 350.5L262.8 350.5L263.2 350.6L263.7 351.3L264.3 351.7L264.5 351.5L264.7 350.8L265.3 350.6L266.9 350.8L267.7 351.6L268.7 351.4L270.7 351.8L272.3 350.7L272.5 350.8L272.9 351.5L273.9 351.7L274.7 352.2L276.5 351.7L277.3 352.3L277.5 352.0L277.7 350.9L278.7 351.5L279.3 351.5L280.5 351.1L281.0 351.5L281.1 352.6L281.5 352.3L281.9 351.3L283.3 351.4L283.7 351.7L284.3 351.8L284.7 351.6L284.9 350.9L285.1 350.8L285.4 351.8L286.5 352.4L287.1 352.5L287.5 352.0L287.9 351.9L288.9 352.7L290.4 351.5L291.5 351.2L292.1 350.7L293.7 350.9L294.5 351.2L295.3 350.9L296.1 350.1L296.4 350.3L296.9 350.8L298.3 350.9L298.7 351.5L299.9 352.1L300.3 352.1L301.1 351.4L301.4 352.0L301.7 352.1L302.5 351.4L303.0 351.2L304.0 351.7L304.6 351.0L305.6 351.6L306.2 351.0L307.2 351.8L307.4 352.8L307.6 352.9L308.8 352.4L310.2 352.1L311.0 351.5L312.0 351.9L312.4 352.3L312.6 352.0L312.3 351.0L312.6 350.6L313.4 351.0L315.0 351.4L315.3 351.3L315.6 350.5L316.0 350.5L316.4 351.3L317.2 350.7L317.8 350.6L318.4 350.6L318.8 350.9L319.4 350.2L320.8 349.4L323.0 350.3L324.4 348.9L324.8 348.8L325.2 349.2L325.6 349.2L327.0 348.2L328.2 348.2L329.2 348.5L330.8 347.9L333.2 347.6L333.7 347.3L334.2 346.5L334.6 346.3L335.6 346.7L336.0 347.8L336.4 347.9L338.7 347.3L339.0 346.1L339.2 345.9L340.2 346.2L344.1 343.9L344.3 343.2L344.3 340.4L343.7 339.1L342.9 338.1L342.3 336.4L341.5 336.4L340.4 336.0L339.4 336.1L338.6 335.7L337.8 335.8L337.0 335.5L336.4 335.7L335.8 335.7L333.6 334.6L333.3 333.6L332.2 332.9L331.4 333.2L330.8 333.2L330.0 333.9L328.6 333.6L328.2 333.3L327.6 332.1L327.2 331.9L326.8 331.8L326.0 332.1L324.6 331.0L322.2 330.6L321.6 329.9L320.4 329.3L317.2 328.8L315.8 328.0L314.5 328.3L314.2 327.6L313.5 327.1L313.2 326.0L311.0 326.3L310.4 326.7L310.0 326.8L308.5 326.1L307.8 325.4L306.2 324.8L304.6 325.1L303.4 324.7L302.8 324.0L302.3 323.7L301.7 324.4L300.9 324.0L300.1 324.1L299.8 323.8L299.8 322.8L299.3 322.0L298.7 321.7L297.7 322.7L296.5 323.4L293.1 321.2L292.7 321.2L290.7 322.1L289.3 322.1L288.3 321.5L287.3 322.0L286.1 321.1Z" fill="#0329fc"/>
<path d="M291.5 323.3L288.3 323.4L287.7 323.6L286.7 323.3L285.5 324.1L284.9 324.1L284.3 323.8L283.5 324.2L282.3 323.9L281.5 324.4L280.1 324.1L279.1 324.6L277.9 324.3L276.7 324.7L276.5 324.7L276.2 323.8L275.7 323.7L274.3 324.5L273.7 325.2L273.3 325.1L272.5 324.1L271.5 323.7L269.3 324.7L268.5 324.5L267.7 324.6L266.7 324.2L266.4 324.6L266.2 325.6L265.5 326.0L265.3 326.0L265.1 325.5L264.9 325.4L263.2 325.7L262.0 326.2L261.6 326.1L261.0 325.5L259.2 325.6L258.4 325.4L257.8 326.3L257.0 326.9L256.7 326.8L256.6 326.3L256.4 326.2L255.6 326.4L255.0 327.1L254.2 326.8L253.6 326.4L252.8 326.8L250.4 327.1L249.0 327.9L248.0 327.2L247.4 328.0L246.4 327.8L245.6 328.9L245.0 328.9L244.2 329.4L243.4 329.2L243.1 329.3L242.8 329.6L242.6 330.6L242.4 330.7L241.0 330.8L239.6 330.6L238.4 331.3L238.0 331.9L237.2 332.1L236.2 333.0L235.6 333.1L234.8 334.0L234.0 334.3L233.8 334.6L233.6 335.6L234.1 336.1L234.0 336.6L233.8 336.6L233.6 336.0L233.4 335.9L233.0 336.1L232.8 336.6L232.8 337.6L233.2 338.7L234.2 339.3L233.9 341.3L234.4 342.7L235.3 343.0L235.2 344.0L235.6 344.2L236.4 343.8L237.2 344.0L238.4 345.6L239.4 345.4L241.0 346.5L241.4 345.7L241.8 345.6L242.4 346.3L243.4 346.4L244.0 347.1L245.0 347.6L245.8 347.3L247.2 347.7L248.0 347.1L248.8 347.7L249.8 347.7L251.0 348.1L252.0 348.0L252.6 348.7L253.8 348.5L254.6 349.4L255.0 349.2L255.6 348.5L256.0 348.3L256.8 349.0L257.6 348.9L259.2 349.8L260.0 349.7L260.6 348.9L260.8 348.9L261.6 349.6L263.0 348.9L263.7 349.8L264.5 349.3L265.3 349.8L266.3 349.4L267.7 349.8L268.7 349.4L269.7 350.3L270.1 350.4L270.6 350.0L270.8 349.0L271.1 348.8L271.9 348.9L272.5 349.6L273.3 349.6L275.1 350.2L276.1 350.1L277.3 349.3L277.9 349.8L278.7 350.0L279.5 349.6L280.3 349.9L281.1 349.4L282.3 349.6L284.3 349.4L286.1 350.5L286.7 350.2L287.3 350.2L287.9 349.2L288.9 348.6L289.3 348.6L290.1 349.3L290.9 349.5L291.7 348.9L292.8 348.8L293.3 349.3L294.5 349.8L295.9 348.5L296.9 348.3L297.3 348.5L297.9 349.6L298.5 349.5L299.3 348.8L299.9 348.8L300.9 348.4L301.9 349.2L304.2 349.1L305.4 348.7L306.2 349.2L307.1 349.0L307.6 349.6L308.6 350.0L310.2 349.0L311.0 349.2L311.8 348.8L312.8 349.2L313.5 348.8L313.7 348.0L314.0 347.8L315.0 347.6L315.8 348.0L316.6 347.3L316.9 347.5L316.9 348.5L318.0 348.9L318.1 347.8L318.8 347.4L320.4 347.4L321.2 347.9L322.2 347.2L323.6 347.3L324.4 346.7L324.6 346.8L325.0 347.3L325.6 347.4L326.6 346.4L327.0 346.3L327.6 346.5L328.2 346.0L329.0 346.5L331.6 346.8L334.0 345.0L334.6 344.8L336.2 345.2L336.6 345.6L337.2 345.4L337.6 345.5L338.2 344.8L339.4 344.6L340.3 344.0L341.5 342.0L341.2 340.3L340.4 339.0L339.0 339.1L338.0 338.2L335.7 338.1L334.8 336.9L334.0 336.7L333.4 336.3L332.4 336.0L331.4 336.4L330.6 335.8L329.8 335.6L329.2 335.2L328.4 335.2L326.2 334.4L325.7 334.1L324.8 333.8L324.2 333.2L323.2 333.3L322.6 333.9L321.4 333.8L320.4 333.3L319.2 333.0L318.4 332.2L317.2 332.0L316.4 331.6L315.0 331.3L314.2 332.1L313.4 331.1L312.6 331.2L311.8 330.6L311.0 330.6L310.0 330.1L309.4 329.3L309.0 329.0L307.0 328.9L306.4 329.9L306.1 329.6L306.1 328.6L305.6 328.4L304.0 328.2L303.0 328.9L302.3 328.2L301.7 327.3L301.5 327.2L301.1 327.7L300.9 327.7L300.3 326.8L299.3 326.7L298.5 326.0L297.7 326.4L297.3 326.3L296.9 325.8L296.0 325.3L295.5 324.6L294.3 324.3L293.7 323.6L292.3 324.1L291.5 323.3Z" fill="#063efc"/>
<path d="M288.9 325.8L288.3 325.6L287.5 326.1L286.7 326.3L285.3 326.1L283.3 326.3L281.9 325.6L281.1 325.8L280.3 325.7L279.5 325.9L278.5 325.8L277.9 325.9L277.1 326.4L276.7 326.5L275.5 325.9L274.1 326.2L273.1 326.1L272.5 326.1L271.5 325.7L267.7 326.3L266.9 326.9L266.1 326.7L265.3 327.0L263.9 326.7L262.2 327.1L260.6 327.1L257.6 327.6L256.8 327.9L256.0 327.6L255.2 328.0L254.2 327.7L253.4 328.2L249.0 328.8L247.4 329.7L246.4 329.7L244.8 330.2L244.2 330.6L243.4 330.7L242.8 331.1L240.4 331.6L238.4 333.0L237.0 333.5L234.9 336.1L234.1 337.8L234.1 338.3L234.5 339.3L234.5 340.3L235.2 341.8L236.2 342.7L237.8 342.9L239.4 344.2L241.8 345.0L242.6 345.0L243.4 345.5L245.0 346.0L245.8 346.0L246.6 346.3L248.8 346.3L249.6 346.6L250.4 346.4L251.2 347.0L252.4 347.0L253.4 347.4L253.8 347.3L254.4 346.7L255.2 347.1L257.4 347.5L258.4 347.9L259.8 347.5L260.6 347.8L261.6 347.4L262.6 347.9L264.7 347.5L266.7 347.8L267.7 348.4L269.3 347.6L270.7 348.0L274.1 347.9L275.3 348.1L276.7 347.9L278.7 348.3L280.3 348.2L281.5 347.8L285.1 348.0L286.9 347.6L288.1 347.6L289.3 347.4L290.7 347.4L291.4 346.8L292.3 346.8L293.1 346.4L293.9 346.6L294.5 346.4L295.3 346.5L296.1 346.3L297.7 346.7L298.5 346.5L299.5 346.9L301.3 346.8L302.3 347.0L303.6 346.7L306.6 347.0L308.0 346.5L309.4 346.6L310.2 346.0L311.0 346.2L311.8 345.9L312.4 346.4L314.0 346.6L315.0 346.0L315.8 345.9L316.6 345.5L317.8 345.7L319.2 345.2L321.8 345.4L323.6 345.2L324.4 344.8L325.4 345.1L326.0 344.7L326.8 344.7L327.6 344.1L328.4 344.2L329.8 343.6L330.8 343.9L331.8 344.5L333.8 344.2L335.6 343.7L337.2 342.2L337.2 341.0L336.7 340.3L336.2 339.8L335.6 339.6L334.8 339.1L333.6 339.2L330.0 337.5L328.4 337.2L327.2 337.3L325.2 336.3L324.0 336.7L322.6 336.5L321.4 335.6L320.4 335.5L319.6 335.1L318.6 335.0L316.4 334.3L315.6 334.3L314.4 333.9L313.4 333.8L312.6 333.0L312.0 332.7L311.2 332.7L310.2 333.1L309.4 332.8L308.6 332.1L304.8 330.9L303.2 330.8L302.3 331.0L299.7 328.3L298.9 328.2L297.9 327.5L295.1 327.1L294.1 326.5L293.1 326.3L292.5 326.0L291.7 326.0L290.7 326.4L288.9 325.8Z" fill="#0069ff"/>
<path d="M288.5 326.3L286.7 326.6L284.5 326.6L283.5 326.7L280.3 326.4L278.9 326.6L278.1 326.4L276.9 326.9L275.5 326.5L270.9 326.9L269.9 326.7L266.9 327.4L265.9 327.5L264.1 327.3L257.0 328.4L254.8 328.6L251.4 329.2L250.4 329.2L249.4 329.7L248.4 329.9L247.4 330.3L245.6 330.6L243.2 331.6L241.0 332.1L238.8 333.3L237.8 334.2L237.2 334.2L234.9 336.8L234.5 338.1L234.8 340.0L235.6 341.3L237.8 342.4L239.4 343.7L246.6 346.4L248.4 346.7L253.0 348.1L257.4 348.5L259.6 349.1L260.8 348.9L261.6 349.1L262.8 349.1L263.7 349.4L264.5 349.3L265.5 349.5L268.9 349.7L270.1 350.0L271.7 349.7L273.1 350.1L277.3 350.2L278.7 350.4L281.5 350.3L282.7 350.5L284.7 350.1L285.9 350.4L287.5 350.0L288.7 349.5L290.7 349.4L292.9 348.9L294.3 349.0L296.9 348.5L297.9 348.8L301.7 347.9L304.2 347.7L305.4 347.2L307.0 347.1L308.4 346.7L309.4 346.6L310.2 346.1L311.0 346.1L311.8 345.7L312.6 345.9L314.0 345.7L316.6 344.9L318.2 344.7L320.0 344.0L321.8 343.9L323.6 343.3L325.0 343.1L325.8 343.4L327.4 342.7L330.8 342.0L334.6 341.8L332.2 341.5L331.8 341.2L330.0 340.6L326.4 340.0L325.4 339.5L323.6 339.4L321.0 338.1L319.6 337.6L318.4 337.6L316.8 336.8L315.8 336.6L314.8 335.9L310.2 334.3L304.6 331.3L302.4 330.8L299.7 328.1L298.9 327.9L297.7 327.3L294.1 326.6L293.1 326.7L291.9 326.4L290.7 326.6L289.9 326.4L289.1 326.5L288.5 326.3Z" fill="#009cff"/>
<path d="M282.3 327.8L281.1 327.9L279.7 327.7L278.9 328.0L277.9 327.8L276.5 328.1L275.5 327.8L274.1 328.0L273.1 327.8L271.3 328.2L269.3 327.9L266.1 328.4L264.9 328.2L255.0 329.2L254.0 329.3L252.8 329.8L250.4 329.9L249.4 330.4L246.0 331.0L241.1 332.6L239.0 333.6L237.8 334.5L237.4 334.6L235.6 336.3L235.2 337.1L235.0 338.1L235.1 339.8L235.6 340.6L236.6 341.5L239.6 343.3L243.8 344.9L245.8 345.3L246.8 345.7L250.4 346.4L251.4 346.7L258.4 347.7L260.6 347.8L261.4 347.6L263.4 348.0L264.5 347.8L266.9 348.1L267.7 348.4L269.3 348.0L270.7 348.3L280.5 348.7L282.3 348.7L285.9 348.3L289.9 347.5L290.7 347.5L291.5 347.2L293.3 346.8L295.7 346.7L297.9 346.9L302.3 346.3L313.2 343.9L314.6 344.0L321.2 342.5L324.6 341.9L325.4 341.8L325.8 342.0L328.4 341.6L326.0 341.1L325.6 340.8L323.6 340.6L322.2 340.2L321.4 339.6L318.4 339.0L314.4 337.4L313.2 337.1L312.2 336.6L308.6 335.2L304.0 332.9L301.9 332.1L298.9 329.6L296.9 328.8L295.7 328.5L291.7 328.1L291.1 328.2L289.9 327.9L288.3 327.9L287.3 328.1L282.3 327.8Z" fill="#00d2ff"/>
<path d="M282.3 328.8L277.5 328.7L276.5 328.9L273.1 328.6L271.1 329.0L269.9 328.7L266.1 329.1L264.9 328.9L255.2 329.7L254.0 329.9L253.0 330.3L250.4 330.4L249.4 330.8L244.6 331.8L240.2 333.3L238.6 334.2L237.4 334.9L235.7 336.6L235.2 337.8L235.4 339.5L235.6 340.0L236.7 341.3L239.6 342.9L243.8 344.4L245.8 344.8L246.8 345.2L252.0 346.1L254.4 346.3L256.4 346.7L257.4 346.5L260.2 346.9L261.6 346.8L263.2 347.1L264.3 346.9L265.9 347.1L266.9 347.0L268.3 347.2L269.3 347.1L270.7 347.3L271.7 347.1L272.7 347.3L274.7 347.3L275.7 347.1L277.1 347.3L278.7 347.3L279.7 347.1L282.3 347.3L284.7 346.8L285.9 346.9L288.9 346.4L293.3 345.4L295.7 345.3L297.9 345.5L299.9 345.3L302.3 345.0L308.4 343.6L309.4 343.6L311.2 343.0L314.6 342.5L317.0 341.8L317.8 342.0L319.8 341.6L321.6 341.2L321.7 341.0L321.4 340.8L318.6 340.3L317.4 339.7L315.2 339.2L314.4 338.7L310.2 337.3L309.2 336.7L308.2 336.4L306.2 335.2L305.0 334.9L304.0 334.2L301.7 333.2L300.1 332.2L298.5 330.8L296.5 330.0L295.1 329.6L291.1 329.4L290.1 329.1L289.3 329.2L288.3 329.0L287.5 329.1L284.5 328.9L283.3 329.0L282.3 328.8Z" fill="#00faf0"/>
<path d="M280.1 329.6L278.9 329.6L273.1 329.3L270.9 329.6L269.9 329.4L260.8 329.7L255.0 330.2L253.0 330.7L250.4 330.8L245.6 332.0L244.8 332.0L240.4 333.4L237.5 335.1L235.9 336.6L235.5 337.3L235.5 339.5L236.8 341.1L239.8 342.7L243.8 344.0L245.8 344.4L246.8 344.8L252.4 345.6L256.4 346.0L257.6 345.9L260.2 346.2L261.4 346.0L263.4 346.3L266.9 346.1L270.7 346.4L271.7 346.2L273.1 346.4L275.7 346.1L277.1 346.3L279.7 346.1L280.9 346.3L283.7 346.0L284.7 345.7L287.7 345.5L293.3 344.4L295.7 344.3L298.5 344.7L304.2 343.4L305.4 343.0L309.4 342.4L311.6 341.7L312.4 341.7L314.0 341.3L314.6 341.4L317.5 340.8L314.8 340.2L314.4 339.9L312.8 339.5L312.2 339.1L308.2 337.6L306.2 336.4L303.0 335.0L300.3 333.3L297.9 331.3L296.1 330.8L291.7 330.2L290.9 330.2L288.3 329.8L287.5 330.0L280.1 329.6Z" fill="#00ff78"/>
<path d="M275.7 330.1L273.1 330.0L270.9 330.1L269.9 329.9L265.9 330.1L264.9 330.0L256.0 330.5L254.0 330.7L253.2 331.0L250.4 331.2L249.6 331.5L248.4 331.5L247.6 331.8L244.8 332.3L240.4 333.7L237.6 335.2L236.0 336.7L235.7 337.3L235.7 339.5L237.2 341.2L240.6 342.8L243.8 343.7L246.0 344.1L246.8 344.4L252.4 345.2L256.4 345.5L257.4 345.3L260.2 345.6L261.2 345.4L263.4 345.6L266.9 345.4L270.7 345.5L271.7 345.4L273.1 345.6L275.7 345.2L277.1 345.4L279.7 345.1L280.9 345.3L284.7 344.7L285.9 344.8L287.7 344.5L289.9 343.9L290.7 343.9L293.3 343.4L295.7 343.3L297.9 343.7L298.7 343.7L303.2 342.5L304.2 342.4L305.4 342.0L309.4 341.4L312.0 340.7L312.4 340.8L313.9 340.5L312.5 340.3L312.2 340.0L309.8 339.3L309.2 338.9L308.0 338.5L306.2 337.4L303.0 336.0L300.1 334.1L297.9 332.3L295.9 331.7L294.1 331.3L290.1 330.8L275.7 330.1Z" fill="#00ff3c"/>
<path d="M273.3 330.5L270.9 330.6L269.9 330.5L265.9 330.6L264.9 330.4L256.0 330.9L254.0 331.1L253.2 331.4L250.4 331.5L249.6 331.8L246.4 332.2L245.8 332.5L244.8 332.5L244.2 332.8L240.4 333.9L237.6 335.4L236.1 336.8L235.7 337.8L235.8 339.3L236.8 340.7L237.3 341.0L240.6 342.6L241.8 342.7L242.4 343.1L243.8 343.4L246.0 343.7L246.8 344.0L256.4 344.9L257.4 344.7L260.2 345.0L261.2 344.8L263.4 345.0L266.9 344.7L268.3 344.8L271.7 344.6L273.1 344.7L275.7 344.4L277.1 344.6L279.7 344.2L280.9 344.4L284.7 343.8L285.9 343.8L287.7 343.5L293.3 342.4L295.7 342.4L297.9 342.8L299.1 342.7L303.2 341.7L304.2 341.6L305.6 341.0L306.8 340.9L307.4 341.0L309.0 340.6L309.4 340.7L311.2 340.3L309.6 339.9L309.2 339.6L307.8 339.2L306.2 338.2L303.0 336.9L299.3 334.4L297.7 333.1L295.5 332.4L291.7 331.7L289.3 331.6L288.3 331.4L285.5 331.3L282.3 331.0L281.1 331.1L280.1 330.9L278.9 330.9L277.9 330.7L276.5 330.8L273.3 330.5Z" fill="#00fc14"/>
<path d="M273.3 331.1L270.9 331.1L269.9 330.9L265.7 331.1L264.9 330.9L254.4 331.3L253.2 331.7L250.4 331.8L249.8 332.1L248.4 332.1L247.8 332.4L244.8 332.8L240.6 334.0L237.8 335.4L236.1 337.1L235.9 337.8L235.9 339.3L236.9 340.5L237.4 341.0L240.8 342.4L241.8 342.5L243.8 343.2L246.0 343.4L246.8 343.7L256.4 344.4L257.4 344.3L260.2 344.4L261.2 344.2L265.9 344.3L266.9 344.1L273.1 344.0L275.7 343.6L277.1 343.8L279.7 343.4L280.9 343.5L284.7 342.9L287.7 342.6L293.3 341.6L295.7 341.6L297.9 341.9L299.1 341.8L302.3 341.3L303.4 340.9L304.2 340.9L305.8 340.3L307.0 340.2L307.4 340.4L309.2 340.1L307.6 339.7L306.2 338.9L302.8 337.5L297.3 333.7L295.2 333.1L291.7 332.4L288.3 332.1L273.3 331.1Z" fill="#00ff00"/>
<path d="M264.9 331.3L254.0 331.7L253.4 331.9L250.4 332.1L249.8 332.3L248.4 332.3L247.8 332.6L246.4 332.7L245.8 333.0L244.8 333.0L244.2 333.3L243.6 333.3L241.4 334.1L240.6 334.2L240.0 334.6L237.8 335.5L236.2 337.1L236.0 337.8L236.0 339.3L237.4 340.8L240.8 342.2L241.8 342.3L243.8 343.0L246.2 343.1L246.8 343.4L256.4 344.0L257.2 343.8L260.2 343.9L261.0 343.7L263.4 343.8L264.3 343.7L265.9 343.7L271.7 343.3L273.1 343.4L275.7 343.0L277.1 343.1L279.7 342.7L280.9 342.8L284.7 342.1L285.9 342.1L289.9 341.4L290.7 341.4L293.3 340.8L295.7 340.8L297.9 341.2L299.5 341.1L302.3 340.7L303.6 340.3L304.2 340.4L306.2 339.8L306.4 339.5L306.2 339.3L304.6 338.9L304.0 338.4L302.6 338.0L297.1 334.4L294.1 333.5L290.1 332.9L282.3 332.2L281.1 332.2L280.1 332.0L278.7 332.0L277.9 331.8L276.3 331.9L275.5 331.7L273.9 331.7L273.1 331.5L270.7 331.6L269.9 331.3L265.7 331.5L264.9 331.3ZM307.2 339.7L306.4 339.6L306.3 339.8L306.4 340.0L307.2 339.7Z" fill="#00ff00"/>
<path d="M270.1 332.1L265.5 332.1L264.9 331.9L254.0 332.1L253.4 332.4L250.4 332.5L250.0 332.7L248.4 332.7L248.0 333.0L244.8 333.3L244.4 333.6L242.6 333.9L241.4 334.4L240.8 334.4L240.0 334.9L239.6 334.9L237.8 335.8L236.4 337.1L236.2 337.8L236.2 339.0L237.0 340.3L237.6 340.7L241.0 342.0L242.0 342.0L242.4 342.3L243.4 342.3L243.8 342.6L246.2 342.7L246.8 343.0L256.4 343.3L257.0 343.1L260.2 343.2L260.8 343.0L263.4 343.0L263.9 342.8L265.9 342.9L266.7 342.7L268.3 342.7L269.1 342.5L270.7 342.5L271.5 342.3L273.1 342.3L275.5 341.9L277.1 342.0L279.5 341.6L280.9 341.6L284.5 340.9L287.7 340.6L293.1 339.6L295.9 339.6L297.9 340.0L298.9 340.0L301.9 339.6L302.3 339.7L304.1 339.3L302.5 338.9L296.7 335.3L294.1 334.5L290.1 333.8L287.3 333.6L286.5 333.4L282.9 333.2L282.3 333.0L280.7 333.0L280.1 332.8L278.5 332.8L277.9 332.6L276.1 332.6L275.5 332.4L273.7 332.4L273.1 332.2L270.5 332.2L270.1 332.1Z" fill="#7dff00"/>
<path d="M270.1 332.5L265.3 332.6L264.9 332.3L254.0 332.4L253.6 332.7L250.4 332.7L250.0 333.0L248.4 333.0L248.0 333.3L246.4 333.3L246.0 333.5L244.8 333.5L244.6 333.8L243.6 333.8L243.4 334.1L242.6 334.1L242.4 334.3L241.8 334.3L241.6 334.6L240.8 334.6L240.2 335.1L239.6 335.1L238.4 335.8L238.0 335.8L236.4 337.3L236.2 337.8L236.2 339.0L237.2 340.3L237.6 340.5L238.6 340.8L239.4 341.3L240.8 341.5L241.0 341.8L242.2 341.8L242.4 342.1L243.4 342.1L243.8 342.3L246.4 342.4L246.8 342.7L256.4 342.9L257.0 342.6L263.4 342.5L263.9 342.2L265.9 342.3L266.5 342.0L268.3 342.0L268.9 341.8L270.7 341.8L271.3 341.6L273.1 341.6L275.3 341.1L277.1 341.2L279.3 340.7L280.9 340.7L284.3 340.0L285.9 340.0L286.5 339.8L287.7 339.8L289.5 339.3L292.3 339.0L292.9 338.8L296.1 338.8L297.9 339.2L299.1 339.2L299.9 339.0L300.3 339.2L301.1 339.0L301.2 338.8L299.5 338.0L296.4 336.1L294.1 335.2L293.3 335.2L290.1 334.5L288.9 334.5L288.3 334.3L287.1 334.3L286.5 334.1L282.9 333.9L282.3 333.6L280.7 333.6L280.1 333.4L278.5 333.4L277.9 333.2L273.7 333.0L273.1 332.7L270.3 332.7L270.1 332.5Z" fill="#faf500"/>
<path d="M269.9 332.8L265.1 332.8L264.9 332.6L254.0 332.6L253.8 332.8L250.4 332.8L250.2 333.1L248.4 333.1L248.2 333.3L246.4 333.3L246.2 333.6L244.8 333.6L244.6 333.8L243.6 333.8L243.4 334.1L242.6 334.1L242.4 334.3L241.8 334.3L241.6 334.6L240.8 334.6L240.2 335.1L239.6 335.1L238.4 335.8L238.0 335.8L236.4 337.3L236.2 337.8L236.2 339.0L237.2 340.3L237.6 340.5L238.6 340.8L239.4 341.3L240.8 341.5L241.0 341.8L242.2 341.8L242.4 342.0L243.6 342.0L243.8 342.3L246.6 342.3L246.8 342.5L256.4 342.5L256.6 342.3L260.2 342.3L260.4 342.0L263.4 342.0L263.6 341.8L265.9 341.8L266.1 341.5L268.3 341.5L268.5 341.3L270.7 341.3L270.9 341.0L273.1 341.0L273.3 340.8L274.7 340.8L274.9 340.6L277.1 340.6L277.5 340.3L278.7 340.3L279.1 340.1L280.9 340.1L281.3 339.9L282.3 339.8L282.7 339.6L283.7 339.6L284.1 339.4L285.9 339.4L286.3 339.1L287.7 339.1L288.1 338.9L288.9 338.9L289.3 338.6L290.7 338.7L291.1 338.4L292.3 338.4L292.7 338.2L296.3 338.2L296.7 338.4L297.5 338.4L297.9 338.7L299.1 338.5L299.2 338.3L299.1 338.1L298.7 338.0L296.7 336.9L296.1 336.4L295.7 336.4L294.1 335.7L293.1 335.7L291.7 335.2L288.7 335.0L288.3 334.7L286.9 334.7L286.5 334.5L284.9 334.5L284.5 334.2L282.7 334.3L282.3 334.0L280.5 334.0L280.1 333.8L278.3 333.8L277.9 333.5L275.9 333.5L275.5 333.3L273.3 333.3L273.1 333.0L270.1 333.0L269.9 332.8ZM300.1 338.5L299.3 338.3L299.1 338.5L299.3 338.7L300.1 338.6L300.1 338.5Z" fill="#ff9b00"/>
<path d="M264.9 332.6L254.0 332.6L253.8 332.8L250.4 332.8L250.2 333.1L248.4 333.1L248.2 333.3L246.4 333.3L246.2 333.6L244.8 333.6L244.6 333.8L243.6 333.8L243.4 334.1L242.6 334.1L242.4 334.3L241.8 334.3L241.6 334.6L240.8 334.6L240.2 335.1L239.6 335.1L238.4 335.8L238.0 335.8L236.4 337.3L236.2 337.8L236.2 339.0L237.2 340.3L237.6 340.5L238.6 340.8L239.4 341.3L240.8 341.5L241.0 341.8L242.2 341.8L242.4 342.0L243.6 342.0L243.8 342.3L246.6 342.3L246.8 342.5L256.4 342.5L256.6 342.3L260.2 342.3L260.4 342.0L263.4 342.0L263.6 341.8L265.9 341.8L266.1 341.5L268.3 341.5L268.5 341.3L273.1 341.0L273.3 340.8L274.7 340.8L274.9 340.5L277.1 340.5L277.3 340.3L278.7 340.3L278.9 340.0L280.9 340.0L281.1 339.8L282.3 339.8L282.5 339.5L283.7 339.5L283.9 339.3L285.9 339.3L286.1 339.0L287.7 339.0L287.9 338.8L288.9 338.8L289.1 338.5L290.7 338.5L290.9 338.3L292.3 338.3L292.5 338.1L296.5 338.1L296.7 338.3L297.7 338.3L297.9 338.5L298.7 338.5L299.1 338.3L298.3 337.8L297.9 337.8L296.9 337.1L296.5 337.1L296.1 336.6L295.5 336.6L295.3 336.3L294.3 336.1L294.1 335.8L292.9 335.8L292.7 335.6L291.9 335.6L291.7 335.3L290.3 335.3L290.1 335.1L288.5 335.1L288.3 334.8L286.7 334.8L286.5 334.6L284.7 334.6L284.5 334.3L282.5 334.3L282.3 334.1L280.3 334.1L280.1 333.8L278.1 333.8L277.9 333.6L273.3 333.3L273.1 333.1L270.1 333.1L269.9 332.8L265.1 332.8L264.9 332.6Z" fill="#ff3700"/>
<path d="M236.4 338.3L236.4 338.1L236.5 337.9L236.5 337.8L236.6 337.6L236.7 337.4L236.8 337.2L236.9 337.0L237.1 336.9L237.2 336.7L237.4 336.5L237.7 336.4L237.9 336.2L238.2 336.0L238.4 335.9L238.7 335.7L239.1 335.5L239.4 335.4L239.8 335.2L240.2 335.1L240.6 334.9L241.0 334.8L241.4 334.6L241.9 334.5L242.3 334.4L242.8 334.3L243.3 334.1L243.9 334.0L244.4 333.9L245.0 333.8L245.6 333.7L246.1 333.6L246.8 333.5L247.4 333.4L248.0 333.3L248.7 333.2L249.3 333.2L250.0 333.1L250.7 333.0L251.4 333.0L252.1 332.9L252.8 332.9L253.6 332.8L254.3 332.8L255.0 332.8L255.8 332.7L256.6 332.7L257.4 332.7L258.1 332.7L258.9 332.7L259.7 332.7L260.5 332.7L261.3 332.7L262.1 332.7L263.0 332.8L263.8 332.8L264.6 332.8L265.4 332.8L266.2 332.9L267.1 332.9L267.9 333.0L268.7 333.0L269.5 333.1L270.4 333.1L271.2 333.2L272.0 333.2L272.8 333.3L273.6 333.4L274.4 333.4L275.2 333.5L276.0 333.6L276.8 333.7L277.6 333.7L278.4 333.8L279.1 333.9L279.9 334.0L280.7 334.1L281.4 334.2L282.1 334.2L282.8 334.3L283.6 334.4L284.3 334.5L284.9 334.6L285.6 334.7L286.3 334.8L286.9 334.9L287.6 335.0L288.2 335.0L288.8 335.1L289.4 335.2L290.0 335.3L290.5 335.4L291.1 335.5L291.6 335.6L292.1 335.6L292.6 335.7L293.1 335.8L293.6 335.9L294.1 336.0L294.5 336.2L294.9 336.3L295.3 336.5L295.7 336.6L296.0 336.8L296.3 336.9L296.6 337.1L296.9 337.2L297.2 337.4L297.4 337.5L297.6 337.6L297.8 337.7L298.0 337.9L298.2 338.0L298.3 338.0L298.4 338.1L298.5 338.2L298.6 338.2L298.6 338.3L298.6 338.3L298.7 338.3L298.6 338.3L298.6 338.3L298.6 338.3L298.5 338.2L298.4 338.2L298.3 338.2L298.1 338.1L297.9 338.1L297.7 338.0L297.5 338.0L297.3 337.9L297.0 337.9L296.8 337.8L296.5 337.8L296.2 337.7L295.8 337.7L295.5 337.7L295.1 337.6L294.7 337.6L294.3 337.6L293.9 337.6L293.5 337.7L293.1 337.7L292.6 337.8L292.1 337.9L291.6 337.9L291.1 338.0L290.5 338.1L290.0 338.2L289.4 338.3L288.8 338.4L288.2 338.5L287.6 338.6L286.9 338.7L286.3 338.8L285.6 338.8L285.0 338.9L284.3 339.0L283.6 339.1L282.9 339.2L282.2 339.4L281.4 339.5L280.7 339.6L279.9 339.7L279.2 339.8L278.4 339.9L277.7 340.0L276.9 340.1L276.1 340.2L275.3 340.3L274.5 340.4L273.7 340.5L272.9 340.6L272.1 340.7L271.3 340.8L270.5 340.9L269.6 340.9L268.8 341.0L268.0 341.1L267.2 341.2L266.4 341.3L265.6 341.4L264.7 341.4L263.9 341.5L263.1 341.6L262.3 341.7L261.5 341.7L260.7 341.8L259.9 341.8L259.1 341.9L258.3 341.9L257.6 342.0L256.8 342.0L256.0 342.1L255.3 342.1L254.5 342.1L253.8 342.1L253.1 342.2L252.3 342.2L251.6 342.2L250.9 342.2L250.2 342.2L249.6 342.2L248.9 342.1L248.3 342.1L247.6 342.1L247.0 342.1L246.4 342.0L245.8 342.0L245.2 341.9L244.7 341.9L244.1 341.8L243.6 341.7L243.1 341.7L242.6 341.6L242.1 341.5L241.6 341.4L241.2 341.3L240.8 341.2L240.4 341.1L240.0 341.0L239.6 340.9L239.2 340.8L238.9 340.6L238.6 340.5L238.3 340.4L238.0 340.2L237.8 340.1L237.6 340.0L237.3 339.8L237.2 339.7L237.0 339.5L236.8 339.3L236.7 339.2L236.6 339.0L236.5 338.8L236.5 338.7L236.4 338.5L236.4 338.3Z" fill="#555" stroke="#cc5c14" stroke-width="0.55"/>
<rect x="387.0" y="299.9" width="155.5" height="77.3" fill="#020cfc"/>
<path d="M472.5 315.0L471.5 314.9L468.7 315.7L466.1 315.3L464.4 316.2L463.4 316.5L462.8 316.4L461.6 315.6L460.2 315.5L455.8 317.0L452.6 317.4L451.6 317.2L450.2 317.2L447.6 317.7L446.6 317.7L444.0 318.6L441.2 319.1L439.0 319.9L435.2 320.1L432.9 321.1L430.1 321.8L428.9 322.6L425.9 323.2L424.7 324.0L419.5 329.2L418.1 330.2L417.1 330.2L413.9 331.4L413.2 331.9L411.9 333.3L410.7 336.1L410.3 338.1L410.4 339.3L410.9 341.5L411.1 343.9L411.7 344.8L412.9 345.6L416.1 347.0L418.1 347.4L419.9 349.0L424.1 351.4L427.5 352.6L430.5 354.4L433.1 355.3L434.0 355.4L435.6 355.0L436.6 355.0L437.4 355.4L438.6 356.5L439.6 356.9L442.8 356.1L443.8 356.1L444.8 356.4L446.8 357.4L447.6 357.6L449.2 356.7L450.4 356.6L451.0 356.7L452.4 357.6L454.0 357.9L457.4 357.9L459.8 358.0L460.4 358.3L463.6 358.5L467.1 359.3L467.5 359.3L468.5 358.8L469.3 359.0L472.3 358.8L474.9 358.1L479.9 357.7L483.9 358.7L487.1 358.5L491.1 359.0L494.1 359.0L496.2 358.3L498.2 357.1L500.8 357.7L504.6 356.7L506.4 356.8L507.4 357.4L508.8 357.6L509.6 357.5L511.2 356.8L512.2 356.6L514.0 357.1L516.4 357.3L521.2 355.7L527.3 355.7L529.9 354.8L532.5 354.7L533.5 353.9L535.5 350.0L536.5 346.4L536.7 345.3L536.7 338.0L536.3 335.5L534.8 329.9L533.1 327.5L531.7 326.1L530.5 325.6L522.2 324.2L519.8 323.0L519.2 323.0L517.2 323.6L514.0 322.6L511.4 322.8L509.0 321.8L505.0 321.5L503.2 320.9L500.8 320.4L498.8 319.5L494.9 319.0L492.1 318.4L490.9 317.9L487.3 317.9L486.9 317.8L485.9 316.7L484.5 316.1L481.7 316.3L476.5 315.3L472.5 315.0Z" fill="#0e3cfc"/>
<path d="M471 324h2v1h-2zM462 325h2v1h-2zM451 326h3v1h-3zM457 326h1v1h-1zM463 326h3v1h-3zM476 326h1v1h-1zM478 326h1v1h-1zM485 326h1v1h-1zM443 327h2v1h-2zM451 327h4v1h-4zM465 327h4v1h-4zM485 327h1v1h-1zM487 327h1v1h-1zM433 328h2v1h-2zM438 328h2v1h-2zM443 328h2v1h-2zM450 328h1v1h-1zM452 328h2v1h-2zM467 328h2v1h-2zM474 328h2v1h-2zM496 328h1v1h-1zM522 328h1v1h-1zM439 329h2v1h-2zM443 329h1v1h-1zM445 329h4v1h-4zM453 329h3v1h-3zM468 329h1v1h-1zM474 329h2v1h-2zM522 329h1v1h-1zM426 330h1v1h-1zM428 330h1v1h-1zM441 330h1v1h-1zM443 330h1v1h-1zM446 330h1v1h-1zM453 330h3v1h-3zM474 330h1v1h-1zM480 330h1v1h-1zM524 330h1v1h-1zM422 331h2v1h-2zM431 331h1v1h-1zM435 331h2v1h-2zM441 331h4v1h-4zM450 331h1v1h-1zM452 331h1v1h-1zM457 331h1v1h-1zM459 331h1v1h-1zM479 331h1v1h-1zM422 332h2v1h-2zM452 332h1v1h-1zM457 332h2v1h-2zM461 332h1v1h-1zM466 332h1v1h-1zM494 332h2v1h-2zM418 333h1v1h-1zM423 333h2v1h-2zM460 333h2v1h-2zM466 333h2v1h-2zM494 333h1v1h-1zM496 333h3v1h-3zM417 334h2v1h-2zM469 334h3v1h-3zM477 334h1v1h-1zM483 334h2v1h-2zM493 334h1v1h-1zM497 334h1v1h-1zM419 335h1v1h-1zM476 335h2v1h-2zM487 335h1v1h-1zM477 336h1v1h-1zM492 336h1v1h-1zM494 336h2v1h-2zM501 336h2v1h-2zM515 336h1v1h-1zM416 337h1v1h-1zM501 337h1v1h-1zM508 337h1v1h-1zM514 337h3v1h-3zM526 337h1v1h-1zM482 338h2v1h-2zM491 338h1v1h-1zM512 338h1v1h-1zM518 338h1v1h-1zM469 339h1v1h-1zM480 339h1v1h-1zM482 339h1v1h-1zM485 339h1v1h-1zM493 339h2v1h-2zM500 339h1v1h-1zM511 339h2v1h-2zM518 339h1v1h-1zM468 340h2v1h-2zM492 340h5v1h-5zM499 340h1v1h-1zM503 340h2v1h-2zM511 340h2v1h-2zM522 340h2v1h-2zM452 341h2v1h-2zM460 341h1v1h-1zM467 341h1v1h-1zM470 341h1v1h-1zM477 341h1v1h-1zM495 341h2v1h-2zM499 341h1v1h-1zM503 341h8v1h-8zM513 341h1v1h-1zM516 341h1v1h-1zM521 341h3v1h-3zM452 342h1v1h-1zM460 342h1v1h-1zM470 342h1v1h-1zM474 342h3v1h-3zM488 342h1v1h-1zM492 342h1v1h-1zM503 342h5v1h-5zM509 342h3v1h-3zM513 342h5v1h-5zM521 342h3v1h-3zM533 342h1v1h-1zM418 343h2v1h-2zM432 343h2v1h-2zM452 343h1v1h-1zM466 343h1v1h-1zM474 343h1v1h-1zM479 343h1v1h-1zM487 343h2v1h-2zM498 343h2v1h-2zM503 343h5v1h-5zM514 343h1v1h-1zM433 344h1v1h-1zM438 344h1v1h-1zM444 344h1v1h-1zM451 344h3v1h-3zM456 344h1v1h-1zM465 344h1v1h-1zM469 344h2v1h-2zM478 344h3v1h-3zM485 344h1v1h-1zM505 344h1v1h-1zM427 345h3v1h-3zM438 345h2v1h-2zM443 345h1v1h-1zM464 345h1v1h-1zM469 345h3v1h-3zM477 345h2v1h-2zM484 345h2v1h-2zM492 345h1v1h-1zM435 346h2v1h-2zM439 346h1v1h-1zM445 346h1v1h-1zM450 346h1v1h-1zM461 346h1v1h-1zM469 346h3v1h-3zM476 346h2v1h-2zM485 346h2v1h-2zM496 346h1v1h-1zM437 347h1v1h-1zM449 347h1v1h-1zM454 347h1v1h-1zM461 347h1v1h-1zM468 347h2v1h-2zM471 347h1v1h-1zM476 347h1v1h-1zM498 347h1v1h-1zM510 347h1v1h-1zM468 348h1v1h-1zM476 348h1v1h-1zM488 348h1v1h-1zM517 348h1v1h-1zM494 349h1v1h-1zM517 349h2v1h-2zM453 350h1v1h-1zM459 350h1v1h-1zM489 352h2v1h-2zM490 353h1v1h-1z" fill="#020cfc"/>
<path d="M490 327h1v1h-1zM442 329h1v1h-1zM458 330h1v1h-1zM487 334h1v1h-1zM418 340h1v1h-1zM471 340h1v1h-1zM524 340h1v1h-1zM509 343h1v1h-1zM442 344h1v1h-1zM460 344h1v1h-1zM453 347h1v1h-1zM483 348h1v1h-1zM500 351h1v1h-1z" fill="#2a7cfa"/>
<path d="M525.7 335.2Q527.8 339.5 525 342.8Q521.5 345.2 513.5 346.4" fill="none" stroke="#2c9cfa" stroke-width="2.8" stroke-linecap="round"/>
<path d="M525.2 342Q522 344.6 517.5 345.4" fill="none" stroke="#48dcff" stroke-width="1.9" stroke-linecap="round"/>
<path d="M418.1 338.5L418.1 338.4L418.1 338.2L418.2 338.0L418.2 337.8L418.3 337.7L418.5 337.5L418.6 337.3L418.7 337.1L418.9 337.0L419.1 336.8L419.3 336.6L419.6 336.5L419.8 336.3L420.1 336.1L420.4 336.0L420.7 335.8L421.1 335.7L421.4 335.5L421.8 335.3L422.2 335.2L422.7 335.1L423.1 334.9L423.5 334.8L424.0 334.7L424.5 334.5L425.0 334.4L425.6 334.3L426.1 334.2L426.7 334.1L427.2 334.0L427.8 333.9L428.4 333.8L429.1 333.7L429.7 333.6L430.3 333.5L431.0 333.4L431.7 333.4L432.4 333.3L433.1 333.3L433.8 333.2L434.5 333.2L435.2 333.1L436.0 333.1L436.7 333.1L437.5 333.0L438.2 333.0L439.0 333.0L439.8 333.0L440.6 333.0L441.4 333.0L442.2 333.0L443.0 333.0L443.8 333.0L444.6 333.0L445.4 333.1L446.3 333.1L447.1 333.1L447.9 333.2L448.7 333.2L449.5 333.2L450.4 333.3L451.2 333.3L452.0 333.4L452.8 333.5L453.7 333.5L454.5 333.6L455.3 333.7L456.1 333.7L456.9 333.8L457.7 333.9L458.5 333.9L459.2 334.0L460.0 334.1L460.8 334.2L461.6 334.3L462.3 334.3L463.0 334.4L463.8 334.5L464.5 334.6L465.2 334.7L465.9 334.8L466.6 334.9L467.3 335.0L467.9 335.0L468.6 335.1L469.2 335.2L469.8 335.3L470.4 335.4L471.0 335.5L471.6 335.6L472.2 335.7L472.7 335.7L473.3 335.8L473.8 335.9L474.3 336.0L474.8 336.1L475.3 336.2L475.7 336.3L476.1 336.4L476.6 336.6L476.9 336.7L477.3 336.9L477.7 337.0L478.0 337.2L478.3 337.3L478.6 337.5L478.8 337.6L479.1 337.7L479.3 337.9L479.5 338.0L479.6 338.1L479.8 338.2L479.9 338.3L480.0 338.4L480.1 338.4L480.2 338.5L480.3 338.5L480.3 338.5L480.3 338.5L480.3 338.5L480.3 338.5L480.2 338.5L480.1 338.5L480.0 338.5L479.9 338.4L479.7 338.4L479.6 338.3L479.4 338.3L479.2 338.2L478.9 338.2L478.7 338.1L478.4 338.1L478.1 338.0L477.8 338.0L477.5 338.0L477.1 337.9L476.8 337.9L476.4 337.9L476.0 337.9L475.6 337.9L475.1 337.9L474.7 338.0L474.3 338.0L473.8 338.1L473.3 338.2L472.7 338.3L472.2 338.4L471.6 338.4L471.0 338.5L470.5 338.6L469.9 338.7L469.2 338.8L468.6 338.9L467.9 339.0L467.3 339.1L466.6 339.2L465.9 339.3L465.2 339.4L464.5 339.5L463.8 339.6L463.1 339.7L462.3 339.8L461.6 339.9L460.8 340.0L460.1 340.1L459.3 340.2L458.5 340.3L457.7 340.4L457.0 340.5L456.2 340.6L455.4 340.7L454.6 340.8L453.7 340.9L452.9 341.0L452.1 341.1L451.3 341.2L450.5 341.3L449.7 341.4L448.9 341.4L448.0 341.5L447.2 341.6L446.4 341.7L445.6 341.8L444.8 341.8L444.0 341.9L443.2 342.0L442.4 342.0L441.6 342.1L440.8 342.1L440.0 342.2L439.2 342.2L438.5 342.3L437.7 342.3L436.9 342.3L436.2 342.4L435.5 342.4L434.7 342.4L434.0 342.4L433.3 342.4L432.6 342.4L431.9 342.4L431.2 342.4L430.6 342.4L429.9 342.3L429.3 342.3L428.7 342.3L428.1 342.2L427.5 342.2L426.9 342.1L426.3 342.1L425.8 342.0L425.3 342.0L424.7 341.9L424.3 341.8L423.8 341.7L423.3 341.6L422.9 341.5L422.4 341.4L422.0 341.3L421.6 341.2L421.3 341.1L420.9 341.0L420.6 340.9L420.3 340.7L420.0 340.6L419.7 340.5L419.5 340.3L419.2 340.2L419.0 340.0L418.8 339.9L418.7 339.7L418.5 339.6L418.4 339.4L418.3 339.3L418.2 339.1L418.2 338.9L418.1 338.7L418.1 338.5Z" fill="#555"/>
<g class="tk"><text x="19.0" y="302.0" text-anchor="end">0.5</text><text x="19.0" y="321.0" text-anchor="end">0.25</text><text x="19.0" y="340.0" text-anchor="end">0</text><text x="19.0" y="360.0" text-anchor="end">-0.25</text><text x="19.0" y="379.0" text-anchor="end">-0.5</text><text x="23.2" y="382.0" text-anchor="middle">-0.5</text><text x="54.4" y="382.0" text-anchor="middle">0</text><text x="85.6" y="382.0" text-anchor="middle">0.5</text><text x="116.7" y="382.0" text-anchor="middle">1</text><text x="147.9" y="382.0" text-anchor="middle">1.5</text><text x="179.1" y="382.0" text-anchor="middle">2</text></g><text class="ax" x="101.1" y="388.0" text-anchor="middle">x</text><text class="ax" transform="translate(7.4 338.6) rotate(-90)" text-anchor="middle">y</text>
<g class="tk"><text x="201.1" y="301.0" text-anchor="end">0.5</text><text x="201.1" y="321.0" text-anchor="end">0.25</text><text x="201.1" y="340.0" text-anchor="end">0</text><text x="201.1" y="360.0" text-anchor="end">-0.25</text><text x="201.1" y="379.0" text-anchor="end">-0.5</text><text x="205.3" y="382.0" text-anchor="middle">-0.5</text><text x="236.4" y="382.0" text-anchor="middle">0</text><text x="267.5" y="382.0" text-anchor="middle">0.5</text><text x="298.7" y="382.0" text-anchor="middle">1</text><text x="329.8" y="382.0" text-anchor="middle">1.5</text><text x="360.9" y="382.0" text-anchor="middle">2</text></g><text class="ax" x="283.1" y="388.0" text-anchor="middle">x</text><text class="ax" transform="translate(189.5 338.3) rotate(-90)" text-anchor="middle">y</text>
<g class="tk"><text x="382.8" y="302.0" text-anchor="end">0.5</text><text x="382.8" y="321.0" text-anchor="end">0.25</text><text x="382.8" y="340.0" text-anchor="end">0</text><text x="382.8" y="360.0" text-anchor="end">-0.25</text><text x="382.8" y="379.0" text-anchor="end">-0.5</text><text x="387.0" y="382.0" text-anchor="middle">-0.5</text><text x="418.1" y="382.0" text-anchor="middle">0</text><text x="449.2" y="382.0" text-anchor="middle">0.5</text><text x="480.3" y="382.0" text-anchor="middle">1</text><text x="511.4" y="382.0" text-anchor="middle">1.5</text><text x="542.5" y="382.0" text-anchor="middle">2</text></g><text class="ax" x="464.8" y="388.0" text-anchor="middle">x</text><text class="ax" transform="translate(371.2 338.5) rotate(-90)" text-anchor="middle">y</text>
<rect x="24.3" y="420.9" width="154.8" height="77.4" fill="#0008fc"/>
<path d="M82.8 433.1L78.9 433.3L71.1 434.9L66.8 436.7L61.6 439.6L59.0 441.8L57.0 444.0L55.3 446.5L54.3 447.3L52.1 449.7L50.9 451.4L50.5 452.4L49.8 454.9L49.3 458.1L49.3 459.4L50.1 464.1L50.9 466.5L52.1 468.2L53.9 470.2L55.3 471.4L56.5 473.0L59.6 476.2L62.4 478.0L66.4 480.1L68.4 480.9L70.7 481.5L71.7 481.9L73.7 482.4L74.7 482.3L77.3 482.9L78.3 482.8L82.1 483.3L102.5 483.0L105.9 482.8L110.4 481.9L120.0 479.0L125.7 478.8L133.5 477.4L141.4 476.2L158.7 474.0L164.4 473.0L165.2 471.9L165.8 469.9L166.4 466.1L166.6 463.7L166.6 455.5L165.8 449.3L165.2 447.3L164.4 446.2L156.9 444.9L145.2 443.5L134.0 441.9L126.1 440.5L120.8 440.2L115.8 437.7L112.2 436.3L110.2 435.5L105.1 434.1L98.1 433.5L82.8 433.1Z" fill="#0329fc"/>
<path d="M89.0 438.5L82.8 438.3L79.9 438.5L78.9 438.5L71.1 439.8L66.8 441.3L62.8 442.9L60.2 444.5L59.0 445.7L57.8 446.5L52.9 452.6L52.0 454.9L51.4 458.1L51.4 459.4L52.0 462.8L52.8 465.3L53.5 466.3L56.8 470.3L59.8 472.6L62.3 474.0L66.4 475.6L68.4 476.2L70.7 476.6L71.7 477.0L73.7 477.4L74.7 477.3L77.3 477.7L78.3 477.6L82.1 478.1L85.2 478.1L100.7 477.2L104.7 476.9L109.0 476.0L113.6 474.5L117.6 472.7L119.0 471.9L124.5 470.9L132.7 468.7L137.8 468.1L150.7 467.0L159.7 465.8L160.4 465.4L161.0 464.9L161.6 464.1L162.2 462.7L162.6 460.8L162.6 458.4L162.4 457.2L161.4 454.8L160.6 453.9L159.8 453.5L150.9 452.2L137.4 451.1L132.3 450.4L124.5 448.3L119.6 447.4L115.2 444.5L112.4 442.9L110.0 441.9L104.7 440.5L104.1 440.2L102.7 439.9L95.9 439.0L89.0 438.5Z" fill="#063efc"/>
<path d="M83.6 440.7L78.9 440.7L71.1 441.8L66.8 443.2L63.4 444.5L60.8 446.0L59.6 447.1L58.4 447.8L56.5 450.1L54.1 453.3L53.2 455.6L52.8 458.1L52.8 459.4L53.2 462.1L54.0 464.6L57.4 468.9L60.4 471.2L63.0 472.5L66.4 473.8L68.4 474.3L70.7 474.6L71.7 475.0L77.3 475.5L78.3 475.4L82.1 475.7L85.2 475.7L92.4 475.1L103.3 473.7L106.9 473.0L112.4 471.4L116.2 469.7L117.0 469.1L118.8 468.2L134.8 464.8L149.5 462.4L151.7 461.4L152.3 460.9L152.7 460.1L152.7 459.1L152.3 458.3L151.3 457.5L150.1 456.9L133.7 454.2L118.6 451.0L114.8 448.1L112.2 446.6L108.6 445.1L101.5 443.0L94.8 441.8L87.8 440.9L83.6 440.7Z" fill="#0069ff"/>
<path d="M82.8 441.7L79.9 441.9L78.9 441.8L71.1 442.8L69.5 443.2L63.8 445.2L61.0 446.9L58.7 448.7L56.9 450.7L54.7 453.6L53.6 455.9L53.2 458.1L53.4 460.8L54.1 463.3L54.7 464.3L57.8 468.3L61.6 471.1L63.2 471.8L66.4 473.1L68.4 473.6L70.7 474.0L71.7 474.4L77.3 475.0L80.7 475.0L82.1 475.2L92.4 474.7L103.3 473.4L112.4 471.5L116.4 470.3L118.6 468.9L135.2 463.6L145.4 461.0L152.9 459.6L148.9 459.0L143.8 457.9L131.5 454.4L118.8 450.4L117.2 449.2L114.8 447.9L112.2 446.9L108.4 445.9L103.7 444.8L101.1 444.0L94.4 442.8L82.8 441.7Z" fill="#009cff"/>
<path d="M83.0 442.7L78.9 442.6L71.1 443.5L66.8 444.7L64.0 445.7L61.2 447.2L60.0 448.3L58.8 449.0L57.1 450.9L54.9 453.9L53.9 456.1L53.6 458.1L53.8 460.8L54.4 463.1L54.9 464.1L57.8 467.9L60.8 470.0L63.4 471.4L66.4 472.5L68.4 473.0L70.7 473.3L71.7 473.7L77.3 474.1L78.3 474.0L82.1 474.1L92.4 473.4L102.7 472.0L111.8 469.9L115.8 468.7L118.6 467.2L131.7 463.1L140.4 460.7L146.8 459.6L139.2 458.2L129.1 455.4L118.6 452.1L115.6 450.2L111.6 448.4L107.9 447.3L103.1 446.2L100.7 445.3L94.0 443.9L83.0 442.7Z" fill="#00d2ff"/>
<path d="M83.2 443.4L78.9 443.3L71.1 444.0L66.8 445.1L64.2 446.0L61.4 447.5L60.2 448.5L59.0 449.2L57.2 451.1L55.2 453.9L54.2 456.4L53.8 458.1L54.1 460.8L54.7 462.9L55.2 464.1L56.3 465.6L58.0 467.7L62.0 470.4L66.4 472.0L68.4 472.5L73.7 473.3L74.7 473.1L77.3 473.4L78.3 473.3L82.1 473.4L85.2 473.2L92.4 472.4L98.3 471.6L105.7 470.1L115.4 467.6L118.4 466.0L130.3 462.1L136.6 460.4L141.2 459.6L137.4 458.9L132.7 457.8L118.2 453.3L116.2 451.9L112.8 450.2L107.5 448.4L102.7 447.2L100.3 446.3L93.6 444.8L83.2 443.4Z" fill="#00faf0"/>
<path d="M83.0 444.0L78.9 443.8L71.1 444.4L66.8 445.4L65.4 446.0L64.2 446.3L61.4 447.8L60.6 448.5L59.0 449.5L57.4 451.2L55.4 453.9L54.4 456.4L54.0 458.1L54.3 460.8L54.8 462.8L55.4 464.1L57.0 466.3L58.0 467.4L62.0 470.1L66.4 471.6L67.4 471.7L68.4 472.1L73.7 472.8L74.7 472.7L77.3 472.9L80.7 472.7L82.1 472.8L85.2 472.6L92.4 471.7L95.7 471.0L98.1 470.8L106.3 469.1L115.2 466.7L120.2 464.4L127.9 461.7L132.7 460.3L136.2 459.6L131.1 458.5L124.5 456.4L118.0 454.0L117.0 453.1L116.0 452.6L110.8 450.4L102.5 448.0L99.9 447.0L93.4 445.4L83.0 444.0Z" fill="#00ff78"/>
<path d="M78.9 444.2L71.1 444.7L64.4 446.5L61.6 447.9L60.0 449.2L59.2 449.6L57.4 451.4L55.5 454.0L55.0 455.1L54.5 456.6L54.2 459.4L54.5 461.3L55.4 463.8L58.2 467.3L62.2 469.9L66.4 471.3L67.6 471.4L68.4 471.7L73.7 472.4L74.7 472.2L77.3 472.4L78.3 472.2L82.1 472.3L85.2 472.0L93.8 470.8L95.5 470.3L96.3 470.3L101.7 469.3L103.3 468.8L105.1 468.5L114.8 465.9L115.4 465.6L116.8 465.2L118.2 464.3L123.9 462.0L128.9 460.4L132.5 459.6L128.3 458.6L123.1 456.9L117.8 454.9L116.6 453.9L110.4 451.2L106.9 449.9L102.1 448.6L99.7 447.6L93.2 446.0L91.4 445.8L87.8 445.1L85.4 444.8L84.6 444.8L82.8 444.4L79.9 444.4L78.9 444.2Z" fill="#00ff3c"/>
<path d="M79.3 444.7L71.1 445.0L64.4 446.8L61.2 448.4L60.4 449.2L59.2 449.8L57.6 451.4L55.6 454.1L54.6 456.6L54.4 459.4L54.6 461.1L55.6 463.8L58.2 467.1L62.2 469.6L66.4 471.0L67.6 471.1L68.4 471.4L73.7 472.0L74.5 471.8L77.3 472.0L80.7 471.7L82.1 471.8L85.2 471.5L93.4 470.2L95.3 469.7L97.5 469.4L99.5 468.9L101.3 468.7L103.1 468.1L104.9 467.8L106.5 467.2L114.4 465.2L115.2 464.7L116.4 464.4L118.2 463.4L122.7 461.6L126.7 460.3L129.7 459.6L126.1 458.7L121.7 457.2L117.6 455.7L116.2 454.6L110.2 451.9L101.9 449.2L99.5 448.2L93.0 446.6L91.4 446.4L87.8 445.6L87.2 445.6L85.4 445.2L84.6 445.3L82.8 444.9L79.3 444.7Z" fill="#00fc14"/>
<path d="M81.5 445.2L79.7 445.2L78.9 445.0L71.1 445.4L70.5 445.6L69.5 445.7L69.0 445.9L66.4 446.4L65.6 446.8L64.4 447.0L61.6 448.4L60.8 449.1L59.2 450.0L57.6 451.6L55.7 454.2L54.8 456.6L54.5 458.1L54.7 460.8L55.2 462.6L55.7 463.7L57.2 465.8L57.8 466.3L58.2 466.9L62.2 469.4L66.4 470.7L67.8 470.8L68.4 471.1L70.9 471.2L71.7 471.5L73.7 471.6L74.5 471.4L77.3 471.6L78.1 471.3L82.1 471.3L92.4 469.8L95.2 469.1L97.3 468.8L99.1 468.3L101.1 468.0L102.9 467.4L104.5 467.2L108.6 465.9L114.2 464.4L121.5 461.3L125.1 460.2L127.7 459.6L123.7 458.6L117.6 456.4L116.0 455.3L111.6 453.3L106.3 451.2L101.7 449.8L99.1 448.8L92.8 447.1L91.4 446.9L87.8 446.1L87.0 446.1L85.4 445.7L84.4 445.7L82.8 445.3L81.5 445.2Z" fill="#00ff00"/>
<path d="M79.3 445.4L71.1 445.6L70.5 445.9L69.5 445.9L67.6 446.5L66.8 446.5L65.6 447.1L64.6 447.1L61.8 448.5L60.2 449.7L59.4 450.1L57.8 451.7L55.7 454.4L54.9 456.6L54.6 459.4L54.8 459.8L54.9 461.1L55.7 463.6L58.3 466.8L62.4 469.3L66.4 470.5L67.8 470.6L68.4 470.8L71.1 471.0L71.7 471.2L73.7 471.3L74.5 471.1L77.3 471.2L78.1 471.0L82.1 470.9L82.8 470.7L85.2 470.5L86.8 470.1L87.6 470.1L91.6 469.3L92.4 469.3L95.5 468.5L97.1 468.3L98.9 467.7L100.9 467.5L102.7 466.8L104.3 466.6L108.4 465.3L114.0 463.8L114.6 463.4L116.0 463.1L118.2 462.0L120.6 461.1L123.7 460.1L126.1 459.6L122.7 458.8L117.6 457.1L115.8 455.9L109.6 453.1L106.1 451.8L101.5 450.3L98.9 449.2L92.6 447.5L91.2 447.4L87.8 446.5L87.0 446.5L85.4 446.1L84.4 446.1L82.8 445.7L79.3 445.4Z" fill="#00ff00"/>
<path d="M79.1 445.9L71.1 446.0L70.5 446.3L68.2 446.6L67.8 446.8L66.8 446.9L65.8 447.4L64.8 447.4L63.4 448.0L62.8 448.5L61.8 448.8L61.0 449.5L59.4 450.4L57.8 451.9L55.9 454.5L55.0 456.9L55.0 457.6L54.8 458.1L55.0 460.8L55.5 462.5L55.9 463.5L57.4 465.6L58.0 465.9L58.4 466.6L62.4 468.9L63.2 469.0L64.1 469.5L65.0 469.6L66.4 470.1L67.8 470.1L68.4 470.4L71.1 470.5L71.7 470.8L73.7 470.8L74.3 470.6L77.3 470.6L77.9 470.4L79.7 470.4L80.3 470.2L82.1 470.3L82.6 470.0L85.2 469.8L86.6 469.4L87.6 469.4L89.0 468.9L90.0 469.0L91.4 468.5L92.4 468.5L95.3 467.6L96.7 467.5L99.1 466.7L100.5 466.6L102.8 465.8L103.9 465.7L108.6 464.1L109.4 464.1L113.6 462.8L114.2 462.4L116.8 461.6L118.0 460.9L121.0 460.0L122.7 459.7L117.4 458.1L115.4 456.9L109.4 454.1L105.7 452.6L101.7 451.3L98.7 450.0L92.4 448.2L91.0 448.1L87.8 447.2L86.8 447.2L85.4 446.7L84.2 446.8L82.8 446.3L81.9 446.3L81.3 446.1L79.5 446.1L79.1 445.9Z" fill="#7dff00"/>
<path d="M79.1 446.3L71.1 446.4L70.7 446.6L69.5 446.6L69.2 446.9L68.2 446.9L67.8 447.1L66.8 447.1L66.0 447.6L64.8 447.7L64.0 448.2L63.6 448.2L63.0 448.7L62.6 448.7L62.4 448.9L61.6 449.2L61.2 449.7L60.4 450.2L59.6 450.4L59.0 451.2L58.0 451.9L57.6 452.7L57.4 452.7L56.5 453.9L56.5 454.1L56.3 454.1L55.9 454.6L55.5 455.6L55.5 456.1L55.1 456.9L55.1 457.9L54.9 458.1L55.1 460.8L55.3 461.1L55.5 462.3L55.9 463.3L56.3 463.8L56.5 463.8L56.5 464.1L57.0 464.8L57.2 464.8L57.6 465.6L58.2 465.8L58.6 466.5L60.2 467.5L60.6 467.5L61.6 468.3L62.0 468.3L62.6 468.8L63.4 468.8L64.2 469.3L65.0 469.3L66.4 469.8L68.0 469.9L68.4 470.1L71.3 470.2L71.7 470.4L73.7 470.4L74.1 470.2L77.3 470.2L77.7 470.0L82.1 469.8L82.4 469.6L85.2 469.3L86.4 468.9L87.6 468.9L88.8 468.4L90.0 468.4L91.2 468.0L92.4 467.9L95.2 467.0L96.5 466.9L99.1 466.1L100.3 466.0L102.7 465.1L103.7 465.0L106.1 464.1L106.9 464.1L108.4 463.4L109.2 463.4L112.6 462.2L113.2 462.1L114.6 461.5L115.2 461.4L116.6 460.9L117.8 460.2L120.2 459.7L120.2 459.5L117.2 458.9L115.1 457.6L109.0 454.7L103.5 452.5L101.5 451.9L98.5 450.6L92.2 448.6L90.8 448.6L87.8 447.7L86.6 447.7L85.4 447.2L84.0 447.2L82.8 446.7L81.7 446.7L81.3 446.5L79.3 446.5L79.1 446.3Z" fill="#faf500"/>
<path d="M78.9 446.5L71.1 446.5L70.9 446.7L69.5 446.7L69.4 446.9L68.2 446.9L68.0 447.2L66.8 447.2L66.0 447.7L64.8 447.7L64.0 448.2L63.6 448.2L63.0 448.7L62.6 448.7L62.4 448.9L61.6 449.2L61.2 449.7L60.4 450.2L59.6 450.4L59.0 451.2L58.0 451.9L57.6 452.7L57.4 452.7L56.5 453.9L56.5 454.1L56.3 454.1L55.9 454.6L55.5 455.6L55.5 456.1L55.1 456.9L55.1 457.9L54.9 458.1L55.1 460.8L55.3 461.1L55.5 462.3L55.9 463.3L56.3 463.8L56.5 463.8L56.5 464.1L57.0 464.8L57.2 464.8L57.6 465.6L58.2 465.8L58.6 466.5L60.2 467.5L60.6 467.5L62.6 468.8L63.4 468.8L64.2 469.3L65.2 469.3L65.4 469.5L66.2 469.5L66.4 469.8L68.2 469.8L68.4 470.0L71.5 470.0L71.7 470.3L73.7 470.3L73.9 470.0L77.3 470.0L77.5 469.8L79.7 469.8L79.9 469.5L82.1 469.5L82.3 469.3L83.6 469.3L83.8 469.0L85.2 469.0L85.4 468.8L86.0 468.8L86.2 468.5L87.6 468.5L87.8 468.3L88.4 468.3L88.6 468.0L90.0 468.0L90.2 467.8L90.8 467.8L91.0 467.6L92.4 467.6L92.6 467.3L93.2 467.3L93.4 467.1L94.0 467.1L95.0 466.6L96.3 466.6L98.9 465.6L100.1 465.6L102.5 464.6L103.5 464.6L105.9 463.7L106.7 463.7L108.2 462.9L109.0 462.9L111.6 461.9L113.0 461.7L114.4 461.0L115.0 461.0L117.2 460.1L117.4 459.9L118.6 459.7L118.6 459.5L117.0 459.3L115.0 458.1L108.8 455.0L103.3 452.8L101.5 452.3L98.3 450.9L95.3 450.1L95.2 449.9L94.6 449.9L94.4 449.7L93.8 449.6L93.6 449.4L93.0 449.4L92.8 449.2L92.2 449.2L92.0 448.9L90.6 448.9L90.4 448.7L89.8 448.7L89.6 448.4L88.8 448.4L88.6 448.2L88.0 448.2L87.8 447.9L86.4 447.9L86.2 447.7L85.6 447.7L85.4 447.4L83.8 447.4L83.6 447.2L83.0 447.2L82.8 446.9L81.5 446.9L81.3 446.7L79.1 446.7L78.9 446.5Z" fill="#ff9b00"/>
<path d="M78.9 446.5L71.1 446.5L70.9 446.7L69.5 446.7L69.4 446.9L68.2 446.9L68.0 447.2L66.8 447.2L66.0 447.7L64.8 447.7L64.0 448.2L63.6 448.2L63.0 448.7L62.6 448.7L62.4 448.9L61.6 449.2L61.2 449.7L60.4 450.2L59.6 450.4L59.0 451.2L58.0 451.9L57.6 452.7L57.4 452.7L56.5 453.9L56.5 454.1L56.3 454.1L55.9 454.6L55.5 455.6L55.5 456.1L55.1 456.9L55.1 457.9L54.9 458.1L55.1 460.8L55.3 461.1L55.5 462.3L55.9 463.3L56.3 463.8L56.5 463.8L56.5 464.1L57.0 464.8L57.2 464.8L57.6 465.6L58.2 465.8L58.6 466.5L60.2 467.5L60.6 467.5L62.6 468.8L63.4 468.8L64.2 469.3L65.2 469.3L65.4 469.5L66.2 469.5L66.4 469.8L68.2 469.8L68.4 470.0L71.5 470.0L71.7 470.3L73.7 470.3L73.9 470.0L77.3 470.0L77.5 469.8L79.7 469.8L79.9 469.5L82.1 469.5L82.3 469.3L83.6 469.3L83.8 469.0L85.2 469.0L85.4 468.8L86.0 468.8L86.2 468.5L87.6 468.5L87.8 468.3L88.4 468.3L88.6 468.0L90.0 468.0L90.2 467.8L90.8 467.8L91.0 467.5L92.4 467.5L92.6 467.3L94.0 467.0L94.2 466.8L94.8 466.8L95.0 466.5L96.3 466.5L96.5 466.3L97.9 466.0L98.7 465.6L100.1 465.6L100.3 465.3L100.7 465.3L100.9 465.1L101.5 465.1L102.3 464.6L103.5 464.6L103.7 464.3L104.3 464.3L104.5 464.1L105.5 463.8L105.7 463.6L106.7 463.6L106.9 463.3L107.9 463.1L108.1 462.8L109.0 462.8L109.8 462.3L110.6 462.3L111.4 461.8L112.0 461.8L112.2 461.6L113.0 461.6L114.2 460.8L115.0 460.8L115.8 460.3L117.2 460.1L117.4 459.6L117.6 459.6L116.8 459.4L116.6 459.1L116.2 459.1L114.8 458.1L114.4 458.1L113.8 457.6L113.4 457.6L112.8 457.1L112.4 457.1L110.4 455.9L109.4 455.6L108.8 455.1L107.3 454.6L107.1 454.4L105.5 453.9L105.3 453.6L104.7 453.6L104.5 453.4L103.5 453.2L103.3 452.9L102.7 452.9L101.9 452.4L101.3 452.4L101.1 452.2L100.1 451.9L99.5 451.4L98.5 451.2L98.3 450.9L97.7 450.9L97.5 450.7L96.9 450.7L96.7 450.4L95.3 450.2L95.2 449.9L94.6 449.9L94.4 449.7L93.8 449.7L93.6 449.4L92.2 449.2L92.0 448.9L90.6 448.9L90.4 448.7L89.8 448.7L89.6 448.4L88.8 448.4L88.6 448.2L88.0 448.2L87.8 447.9L86.4 447.9L86.2 447.7L85.6 447.7L85.4 447.4L83.8 447.4L83.6 447.2L83.0 447.2L82.8 446.9L81.5 446.9L81.3 446.7L79.1 446.7L78.9 446.5Z" fill="#ff3700"/>
<path d="M55.3 459.6L55.2 459.1L55.2 458.7L55.3 458.3L55.3 457.8L55.4 457.4L55.4 456.9L55.5 456.5L55.7 456.1L55.8 455.6L56.0 455.2L56.2 454.8L56.4 454.4L56.7 454.0L56.9 453.6L57.2 453.2L57.5 452.8L57.8 452.4L58.2 452.0L58.6 451.7L59.0 451.3L59.4 451.0L59.8 450.6L60.3 450.3L60.7 450.0L61.2 449.7L61.7 449.4L62.3 449.1L62.8 448.9L63.4 448.6L64.0 448.4L64.6 448.1L65.2 447.9L65.8 447.7L66.5 447.5L67.1 447.4L67.8 447.2L68.5 447.1L69.2 447.0L69.9 446.8L70.6 446.8L71.4 446.7L72.1 446.6L72.9 446.6L73.7 446.5L74.5 446.5L75.2 446.5L76.0 446.5L76.9 446.6L77.7 446.6L78.5 446.7L79.3 446.8L80.1 446.8L80.9 446.9L81.8 447.1L82.6 447.2L83.4 447.3L84.2 447.5L85.1 447.6L85.9 447.8L86.7 448.0L87.6 448.1L88.4 448.3L89.2 448.5L90.0 448.7L90.8 449.0L91.7 449.2L92.5 449.4L93.3 449.6L94.1 449.9L94.9 450.1L95.7 450.4L96.4 450.6L97.2 450.9L98.0 451.1L98.7 451.4L99.5 451.7L100.2 451.9L100.9 452.2L101.7 452.5L102.4 452.7L103.0 453.0L103.7 453.3L104.4 453.5L105.1 453.8L105.7 454.1L106.3 454.3L106.9 454.6L107.5 454.9L108.1 455.1L108.7 455.4L109.2 455.6L109.8 455.9L110.3 456.1L110.8 456.3L111.3 456.6L111.8 456.8L112.2 457.0L112.6 457.2L113.1 457.4L113.4 457.6L113.8 457.8L114.2 458.0L114.5 458.2L114.8 458.3L115.1 458.5L115.4 458.6L115.7 458.8L115.9 458.9L116.1 459.0L116.3 459.1L116.5 459.2L116.7 459.3L116.8 459.4L116.9 459.5L117.0 459.5L117.1 459.5L117.1 459.6L117.2 459.6L117.2 459.6L117.2 459.6L117.1 459.6L117.1 459.6L117.0 459.7L116.9 459.7L116.8 459.7L116.6 459.8L116.5 459.9L116.3 459.9L116.1 460.0L115.9 460.1L115.6 460.2L115.3 460.3L115.0 460.4L114.7 460.5L114.4 460.6L114.0 460.7L113.7 460.8L113.3 461.0L112.9 461.1L112.4 461.2L112.0 461.4L111.5 461.5L111.1 461.7L110.6 461.9L110.0 462.0L109.5 462.2L109.0 462.4L108.4 462.6L107.8 462.7L107.2 462.9L106.6 463.1L106.0 463.3L105.4 463.5L104.7 463.7L104.0 463.9L103.4 464.1L102.7 464.3L102.0 464.5L101.3 464.7L100.6 464.9L99.8 465.1L99.1 465.3L98.4 465.5L97.6 465.7L96.8 465.9L96.1 466.1L95.3 466.3L94.5 466.5L93.7 466.7L92.9 466.9L92.2 467.0L91.4 467.2L90.6 467.4L89.8 467.6L89.0 467.8L88.1 467.9L87.3 468.1L86.5 468.2L85.7 468.4L84.9 468.5L84.1 468.7L83.3 468.8L82.5 468.9L81.7 469.1L80.9 469.2L80.1 469.3L79.4 469.4L78.6 469.4L77.8 469.5L77.1 469.6L76.3 469.6L75.6 469.7L74.9 469.7L74.1 469.8L73.4 469.8L72.7 469.8L72.0 469.8L71.3 469.8L70.6 469.7L70.0 469.7L69.3 469.7L68.6 469.6L68.0 469.5L67.4 469.4L66.8 469.3L66.2 469.2L65.6 469.1L65.0 469.0L64.4 468.8L63.9 468.7L63.3 468.5L62.8 468.3L62.3 468.1L61.8 467.9L61.3 467.7L60.9 467.4L60.4 467.2L60.0 466.9L59.6 466.6L59.2 466.4L58.8 466.1L58.4 465.8L58.1 465.4L57.8 465.1L57.5 464.8L57.2 464.4L56.9 464.1L56.7 463.7L56.4 463.3L56.2 463.0L56.0 462.6L55.9 462.2L55.7 461.8L55.6 461.3L55.5 460.9L55.4 460.5L55.3 460.0L55.3 459.6Z" fill="#555" stroke="#cc5c14" stroke-width="0.55"/>
<rect x="204.9" y="419.8" width="156.7" height="78.8" fill="#0008fc"/>
<path d="M270.2 436.3L268.6 436.2L267.6 436.8L266.2 436.3L265.8 436.7L265.5 437.7L265.2 437.8L264.6 437.5L263.8 437.7L262.8 437.2L262.4 436.6L261.4 436.8L260.5 436.3L259.5 437.0L258.5 437.2L257.7 437.9L256.9 438.0L256.3 438.5L255.7 438.7L254.3 438.5L253.5 438.9L252.9 438.4L251.1 438.4L250.1 439.1L248.7 440.5L246.5 440.5L245.4 441.7L243.7 442.4L242.5 442.4L241.1 444.1L240.5 444.3L239.5 444.1L239.0 444.2L237.3 446.3L237.2 447.8L236.6 449.3L235.4 450.3L234.6 451.9L234.4 452.0L233.6 451.9L233.3 452.3L233.1 455.1L232.5 456.9L231.9 457.9L232.0 459.1L231.8 460.4L232.0 460.9L232.6 461.5L233.1 462.7L233.1 463.4L232.6 464.4L232.5 465.2L233.6 465.8L234.2 465.7L234.6 465.9L234.3 466.9L235.1 468.0L235.4 468.7L236.2 469.1L237.1 470.0L237.6 471.0L238.2 471.3L238.7 472.0L240.1 472.5L240.9 473.8L242.9 473.8L243.7 474.7L243.9 474.8L244.1 474.5L243.6 474.0L243.9 473.8L244.9 474.2L245.3 474.9L245.7 475.2L246.1 475.2L246.3 474.8L246.7 474.7L246.7 475.0L246.2 475.3L246.5 475.9L247.7 476.1L248.5 476.8L249.5 477.3L249.9 477.1L250.1 476.5L250.5 476.5L250.9 477.6L252.1 478.2L253.1 477.8L254.1 476.5L254.9 477.0L256.5 477.3L258.5 478.5L259.1 478.5L260.5 477.9L261.4 478.8L261.8 478.7L262.4 478.1L263.2 478.1L263.8 477.8L264.4 478.6L265.0 478.8L265.6 478.5L266.6 478.5L267.8 478.2L268.6 477.5L269.2 478.3L269.9 478.8L270.4 478.9L271.0 478.6L271.2 477.8L271.6 477.5L272.4 477.5L273.2 477.8L274.8 477.2L275.6 477.8L276.2 477.9L276.6 477.9L277.2 477.4L278.0 477.8L279.0 477.2L280.6 477.8L281.8 477.7L282.4 477.8L283.5 477.6L284.3 476.7L284.7 476.9L285.1 477.7L285.5 478.0L285.8 477.8L285.8 476.8L286.1 476.5L286.9 477.1L287.7 476.4L288.5 476.6L289.1 476.3L289.9 476.8L290.9 476.5L291.7 476.6L292.9 475.7L293.9 475.6L294.7 474.8L295.5 475.1L296.6 474.8L297.5 474.2L299.1 474.2L299.7 473.5L299.8 472.2L300.1 472.0L300.7 472.0L301.3 472.6L302.7 473.3L303.7 472.9L304.9 473.1L305.8 472.8L306.6 473.5L307.4 473.1L308.8 472.8L310.8 471.2L312.2 470.5L312.7 470.7L313.0 471.2L313.8 471.1L314.3 472.0L314.8 472.1L315.0 472.0L315.2 471.5L314.9 470.7L314.3 470.2L314.4 469.8L315.4 470.4L316.8 470.0L317.4 469.4L318.4 469.2L319.2 469.3L319.8 469.7L320.2 469.7L320.5 469.5L320.8 468.5L321.0 468.3L321.6 468.5L322.2 468.1L324.0 468.2L325.0 467.0L325.8 466.7L326.6 466.7L328.2 467.7L329.7 467.5L330.1 467.3L330.7 466.2L330.6 465.2L330.9 465.0L332.1 465.5L332.9 465.2L333.7 465.2L334.5 464.7L335.9 465.1L336.5 465.1L337.1 464.7L337.9 463.5L339.1 463.3L339.7 462.5L340.1 460.9L340.1 457.6L339.3 455.8L338.1 454.9L337.1 454.9L335.3 454.5L334.3 454.7L333.7 454.0L332.4 453.3L331.3 452.2L330.3 452.7L329.5 452.0L328.3 452.0L327.6 451.6L326.4 451.6L325.4 451.0L324.8 450.1L323.8 450.8L323.2 450.3L322.4 450.2L321.6 449.5L320.2 449.2L319.2 449.6L318.6 450.3L318.2 449.5L316.7 449.0L315.6 448.4L315.2 447.6L314.2 447.1L311.6 447.3L310.2 447.0L309.2 447.3L308.4 446.7L307.4 446.5L307.4 446.3L308.2 446.2L308.5 445.7L308.4 445.4L307.6 444.9L306.4 445.5L305.1 445.1L304.5 445.6L303.3 446.1L302.7 445.8L301.9 446.0L300.5 444.4L298.9 444.2L298.1 442.8L296.7 443.1L296.3 442.5L295.9 442.4L294.9 442.6L294.2 442.5L292.5 441.7L291.1 440.7L290.5 439.7L289.3 439.5L288.5 439.8L287.5 439.1L286.3 439.6L285.1 439.1L282.0 438.8L280.8 438.1L279.6 438.1L278.8 437.9L276.0 438.2L275.4 437.6L274.2 437.3L273.2 437.6L272.0 437.1L271.4 437.2L271.0 437.5L270.7 436.7L270.2 436.3Z" fill="#0329fc"/>
<path d="M268.4 438.2L268.2 438.2L268.0 439.0L266.8 439.0L266.2 439.7L265.4 439.3L264.6 439.8L262.6 439.5L261.8 439.6L261.4 439.4L261.1 438.4L260.1 438.1L259.7 438.2L259.1 438.8L257.5 439.7L256.1 440.2L255.7 440.1L254.9 439.4L252.1 440.4L251.1 440.3L249.7 440.4L248.3 441.8L246.5 441.5L245.9 442.2L244.1 443.2L242.9 443.0L242.1 443.9L241.7 444.7L240.3 445.6L239.9 445.7L239.3 445.3L238.9 445.5L238.2 446.5L238.0 447.5L237.4 449.1L235.6 450.8L234.8 452.3L233.8 453.1L233.9 455.1L234.4 456.1L234.2 456.4L233.2 456.8L232.5 457.9L232.5 458.4L232.8 459.1L232.3 460.1L232.4 460.5L233.1 461.1L233.9 464.7L234.2 465.1L235.0 465.7L235.2 466.9L236.5 468.0L236.8 468.9L237.9 470.0L239.1 470.7L239.5 471.7L239.9 471.7L240.9 472.6L241.7 472.7L242.5 473.1L244.9 473.2L245.7 473.0L246.3 473.6L247.3 473.8L248.1 474.6L249.7 475.1L250.3 475.7L250.7 475.6L250.9 475.1L251.1 475.1L251.7 475.7L252.5 476.0L252.7 476.7L253.0 475.8L253.7 475.4L254.7 475.7L255.5 476.3L256.5 476.3L257.3 477.1L257.9 477.3L258.5 477.2L259.1 476.3L260.1 476.3L260.7 475.8L261.2 476.5L261.6 476.8L262.0 476.5L262.8 476.5L263.8 476.7L264.6 476.6L266.2 477.1L267.6 476.2L269.6 476.9L271.2 476.6L271.8 475.8L272.6 475.9L273.2 475.7L273.6 475.8L274.0 476.4L274.6 475.8L275.0 475.8L275.8 476.7L276.6 476.2L277.4 476.1L278.2 475.5L279.4 475.8L280.2 475.1L280.6 475.0L281.0 475.2L281.2 475.5L281.6 475.5L281.2 474.8L281.6 474.2L282.0 474.3L282.6 475.0L283.9 475.2L284.7 474.9L285.9 475.0L286.7 474.5L287.7 474.6L288.5 474.2L289.1 474.3L289.4 473.5L289.9 473.0L290.9 473.0L291.7 472.6L293.1 473.5L293.7 472.4L295.7 472.0L296.3 471.3L297.2 470.7L298.7 470.3L299.5 470.7L300.1 470.7L300.5 470.5L301.1 469.7L301.9 470.1L302.4 469.2L302.7 469.1L303.7 469.2L304.3 469.9L306.4 469.5L307.6 470.0L307.9 469.7L308.2 469.0L308.8 468.8L310.0 468.8L310.4 468.2L312.2 467.0L312.6 467.0L313.7 467.5L315.8 467.9L316.2 467.7L316.8 467.0L317.8 467.0L318.6 466.7L320.0 465.6L320.8 465.7L321.3 466.2L321.8 466.2L322.6 465.6L323.6 465.5L324.2 465.0L324.8 465.0L325.6 464.5L326.4 465.2L327.6 465.2L329.3 463.6L329.7 463.5L330.7 463.6L331.3 463.1L331.9 463.1L333.1 461.8L333.7 461.8L334.4 462.4L335.1 462.5L335.9 461.9L336.5 461.6L336.8 461.1L336.9 460.1L337.3 459.4L337.3 458.7L336.7 457.4L335.7 456.6L334.5 456.5L333.5 455.8L332.5 455.6L331.3 454.7L330.3 454.8L328.9 453.5L327.6 453.7L326.8 453.6L325.6 452.8L324.2 452.9L323.8 453.1L323.3 454.1L323.0 454.1L322.6 453.4L321.8 453.6L321.0 453.3L320.8 452.3L320.2 451.6L319.2 451.9L318.2 451.8L317.0 450.5L315.4 450.8L314.8 451.8L314.2 452.0L313.0 451.6L312.4 451.0L311.3 450.5L310.6 449.3L309.8 450.4L308.2 449.8L307.6 449.3L306.6 449.7L304.7 449.0L303.5 449.0L303.3 448.5L302.9 448.3L300.5 448.8L300.0 448.5L299.9 448.0L301.0 447.8L301.2 447.5L300.7 447.1L298.7 446.6L299.0 446.0L298.9 445.5L298.5 445.4L297.9 446.0L297.1 445.5L296.3 445.9L295.5 444.9L294.7 445.1L293.9 444.5L292.9 444.3L292.3 443.6L291.5 443.7L290.5 442.9L290.2 442.2L289.9 441.9L289.3 442.2L288.7 442.1L288.1 441.5L287.7 441.4L286.9 441.5L285.9 441.0L284.3 441.1L283.7 441.5L283.6 440.7L282.2 440.1L279.6 440.0L279.3 439.7L279.0 438.7L278.7 438.9L278.0 439.9L276.2 440.3L275.4 440.0L274.8 439.2L274.2 439.3L273.4 438.4L272.8 438.5L271.8 439.0L271.0 438.9L270.2 439.1L269.4 438.2L268.4 438.2ZM262.6 438.6L262.2 438.5L261.8 438.7L262.4 439.2L262.6 439.0L262.6 438.6Z" fill="#063efc"/>
<path d="M261.2 440.2L260.5 440.0L259.7 440.4L259.1 440.1L257.5 440.8L255.1 440.9L254.3 441.3L253.7 441.0L252.7 441.5L250.7 441.6L248.7 442.4L247.7 442.5L245.9 443.1L244.3 444.0L243.3 444.2L242.3 445.5L241.5 445.7L240.3 446.7L239.3 447.0L237.8 449.5L235.6 451.9L234.9 453.8L234.6 455.3L234.6 456.3L233.9 457.6L233.8 458.1L234.0 460.6L234.7 462.7L234.8 463.9L236.4 465.7L236.9 466.7L237.8 468.2L239.2 469.0L239.7 469.6L240.9 470.1L241.5 471.2L242.3 471.8L244.9 472.1L246.1 472.4L247.9 473.3L250.9 473.8L252.7 474.7L253.5 474.5L254.7 474.7L255.9 474.5L256.7 474.8L258.9 475.0L259.9 474.6L261.4 474.8L263.8 474.7L264.8 475.1L266.6 475.2L268.6 474.8L269.2 475.2L270.0 474.7L271.0 474.9L272.0 474.5L273.2 474.6L275.2 473.8L275.8 473.8L277.2 474.4L278.0 473.7L279.0 473.8L279.8 473.1L280.6 473.2L282.0 473.0L283.0 473.3L285.5 472.6L286.9 472.6L290.3 471.3L291.5 471.1L293.7 470.3L294.9 470.4L297.3 469.3L298.1 468.5L298.9 468.5L300.1 467.8L300.9 468.0L301.7 467.5L303.1 467.2L304.5 467.3L305.5 466.8L306.8 466.7L307.4 466.1L308.2 466.4L309.4 465.6L310.8 465.8L312.2 465.2L313.0 465.3L313.8 464.7L314.8 464.9L316.8 464.6L317.6 464.2L318.4 464.3L318.8 464.2L319.6 463.4L321.8 463.5L322.6 463.1L323.2 463.1L324.0 462.6L325.0 462.9L327.0 462.9L328.9 462.4L331.1 461.3L331.9 460.5L332.6 460.1L333.1 459.3L332.9 457.9L332.5 457.5L331.1 456.5L329.9 456.5L328.9 456.1L328.1 455.3L327.6 455.3L325.6 456.1L324.8 455.6L324.0 455.6L323.2 455.2L321.0 454.8L319.4 454.0L318.4 454.1L317.8 453.8L316.8 453.9L315.4 453.8L314.6 453.6L313.8 453.7L311.4 452.6L309.0 452.4L307.4 451.7L304.5 451.5L302.1 450.5L300.3 450.5L299.5 449.9L298.7 449.5L297.1 448.2L294.5 446.9L293.3 446.1L290.7 445.2L289.5 445.0L285.3 443.4L284.8 443.5L284.3 442.9L283.7 442.7L283.0 442.9L282.0 442.5L279.6 442.4L278.8 442.0L278.0 442.2L274.2 441.1L273.0 441.1L271.8 440.6L270.2 440.5L269.4 440.6L268.6 440.4L267.2 440.8L266.4 440.6L265.4 440.9L264.6 440.6L263.6 440.7L261.2 440.2Z" fill="#0069ff"/>
<path d="M262.6 440.9L261.6 440.8L258.9 441.0L257.1 441.4L255.7 441.5L254.5 441.9L253.5 441.8L250.7 442.3L248.3 443.2L246.7 443.5L244.9 444.3L243.7 445.0L242.6 446.0L241.7 446.4L240.7 447.4L239.5 448.0L235.8 452.7L235.2 454.1L234.6 456.6L234.0 458.1L234.3 460.4L235.2 463.4L238.7 468.0L242.1 470.3L243.1 471.2L245.1 471.7L247.7 472.9L250.9 473.5L252.9 474.4L253.5 474.3L254.5 474.5L255.9 474.3L258.5 474.8L259.7 474.5L261.0 474.7L263.8 474.7L265.0 475.0L266.6 475.0L268.6 474.7L269.2 474.9L270.2 474.6L271.2 474.7L275.4 474.1L277.2 474.3L278.0 473.9L279.0 473.9L279.8 473.5L281.8 473.3L283.0 473.5L285.7 472.8L288.4 472.5L289.5 472.0L293.1 471.1L295.9 470.8L298.9 469.4L300.1 469.2L302.1 468.0L303.3 467.6L304.5 467.5L305.5 466.9L306.8 466.6L307.4 466.1L308.2 466.1L309.8 465.3L310.8 465.3L314.2 463.8L318.2 463.1L319.4 462.4L321.8 461.9L323.2 461.4L326.4 461.0L327.6 460.4L329.5 460.2L332.5 459.4L335.1 459.2L335.1 459.0L333.7 458.6L332.7 458.8L329.9 458.2L328.3 458.1L322.4 456.3L321.6 456.2L316.8 455.1L313.8 454.2L311.4 453.1L308.8 452.5L307.4 451.9L304.9 451.2L302.1 450.0L300.5 449.8L297.1 447.4L294.5 446.6L293.9 446.2L284.7 444.0L283.9 443.4L283.5 443.3L282.8 443.5L281.0 442.9L279.6 442.9L274.2 441.8L272.8 441.8L271.6 441.4L270.1 441.2L268.6 441.4L262.6 440.9Z" fill="#009cff"/>
<path d="M264.6 442.0L260.1 441.7L256.9 442.3L255.9 442.2L252.7 442.6L250.7 443.0L245.1 444.8L241.9 446.8L241.1 447.6L239.9 448.3L237.3 451.3L235.8 453.3L234.4 458.1L235.4 462.9L238.9 467.6L241.5 469.4L242.3 469.8L243.3 470.6L247.5 472.2L249.5 472.7L251.1 472.9L252.9 473.5L255.9 473.6L258.1 473.8L259.1 473.7L263.8 473.9L272.6 473.4L275.2 472.7L277.8 472.8L281.2 472.0L283.9 471.9L285.1 471.4L288.7 470.9L292.1 469.8L294.9 469.4L297.1 468.6L297.9 468.0L300.3 466.9L307.4 464.6L308.4 464.1L312.0 463.1L313.0 462.6L323.2 460.0L326.2 459.7L327.4 459.1L324.0 458.1L322.4 458.0L319.2 457.0L316.6 456.6L313.8 455.7L312.2 455.4L310.4 454.5L299.9 451.2L296.5 449.0L294.9 448.4L293.9 448.2L293.3 447.8L288.1 446.2L284.7 445.6L282.8 444.7L280.6 444.4L277.2 443.5L273.4 442.8L270.2 442.6L269.2 442.3L266.0 442.3L264.6 442.0Z" fill="#00d2ff"/>
<path d="M260.1 442.5L252.3 443.2L245.1 445.3L242.1 447.1L240.9 448.1L240.1 448.5L238.2 450.5L235.8 453.9L234.7 457.6L234.7 458.6L235.6 462.7L237.8 466.1L239.1 467.5L243.1 470.1L244.5 470.7L249.5 472.3L251.9 472.5L253.1 473.0L263.4 473.2L268.4 472.7L269.0 472.8L277.8 471.6L287.3 470.0L290.7 469.1L291.5 468.6L294.7 468.0L297.1 467.3L300.1 465.7L309.2 462.5L317.2 460.3L321.4 459.3L323.2 459.2L316.2 457.8L311.8 456.5L302.5 453.4L299.9 452.8L297.9 451.2L295.5 450.0L289.1 447.7L287.9 447.5L286.9 447.0L283.7 446.3L282.4 445.7L273.6 443.7L272.8 443.8L266.8 442.9L266.0 443.0L264.4 442.6L260.1 442.5Z" fill="#00faf0"/>
<path d="M264.6 443.2L260.1 443.0L252.3 443.6L249.3 444.3L246.5 445.3L245.3 445.6L242.5 447.1L241.3 448.1L240.1 448.8L238.4 450.5L236.2 453.6L235.4 455.8L234.9 457.6L234.9 458.9L235.7 462.4L236.4 463.7L239.1 467.2L243.7 470.0L244.7 470.5L249.5 471.9L251.9 472.1L252.9 472.4L254.9 472.6L256.5 472.5L258.5 472.7L262.0 472.5L263.4 472.6L270.8 471.6L271.6 471.7L273.8 471.4L281.6 470.1L287.1 469.0L293.1 467.3L296.9 466.5L301.1 464.3L303.5 463.3L312.0 460.6L315.6 459.6L318.2 459.1L316.0 458.8L310.4 457.3L303.7 455.0L302.5 454.4L299.7 453.5L297.7 452.0L294.1 450.4L293.1 450.1L291.3 449.3L283.5 447.1L280.6 446.1L276.6 445.3L273.6 444.4L272.6 444.4L266.8 443.5L266.0 443.6L264.6 443.2Z" fill="#00ff78"/>
<path d="M260.1 443.5L252.3 443.9L245.5 445.8L242.6 447.3L241.1 448.5L240.3 448.9L238.4 450.8L236.1 454.1L235.2 457.1L235.1 458.9L235.9 462.4L236.4 463.4L239.1 466.9L243.7 469.8L247.3 471.0L248.7 471.2L249.5 471.5L251.9 471.7L252.9 472.0L254.9 472.2L255.9 472.0L258.5 472.2L259.5 472.0L263.4 472.1L266.0 471.7L267.6 471.6L270.8 471.0L271.8 471.1L274.0 470.7L277.0 470.1L281.6 469.4L286.7 468.2L290.9 467.0L296.5 465.6L298.5 464.8L299.9 463.9L304.9 461.8L311.8 459.7L314.4 459.2L310.4 458.2L306.2 456.9L299.5 454.4L298.3 453.3L297.3 452.7L295.5 452.1L292.1 450.5L286.3 448.6L283.7 447.9L281.2 446.9L273.4 445.0L272.4 445.0L269.4 444.4L266.0 444.1L264.2 443.7L261.2 443.7L260.1 443.5Z" fill="#00ff3c"/>
<path d="M260.5 444.0L252.3 444.3L245.5 446.0L242.7 447.5L241.5 448.5L240.3 449.1L238.7 450.8L236.5 453.6L236.3 454.1L235.3 457.4L235.3 458.9L236.0 462.2L236.5 463.4L239.3 466.8L243.3 469.3L245.3 470.1L249.5 471.1L254.9 471.8L255.9 471.6L258.5 471.7L259.5 471.5L263.4 471.5L267.4 471.1L270.8 470.4L274.2 470.1L276.8 469.4L278.8 469.1L281.0 468.6L282.0 468.5L284.7 467.8L286.5 467.5L288.1 466.8L289.7 466.6L290.5 466.2L296.1 464.8L296.9 464.4L298.1 464.1L299.9 463.0L304.5 461.1L308.8 459.8L311.6 459.2L306.4 457.8L299.3 455.2L298.0 454.1L297.1 453.6L295.5 453.0L291.9 451.3L286.1 449.3L283.5 448.6L281.0 447.5L273.4 445.6L272.2 445.6L269.4 444.9L268.6 444.9L264.2 444.2L260.5 444.0Z" fill="#00fc14"/>
<path d="M262.8 444.5L261.0 444.5L260.1 444.3L252.3 444.6L251.7 444.9L249.3 445.3L248.7 445.5L247.9 445.6L246.7 446.1L245.5 446.3L242.7 447.7L241.5 448.7L240.3 449.4L238.7 451.0L236.6 453.6L235.7 456.1L235.4 457.6L235.4 458.9L236.1 462.2L236.6 463.4L238.2 465.5L238.9 465.9L239.3 466.6L243.3 469.1L244.9 469.7L245.9 469.9L247.5 470.5L252.1 471.0L252.9 471.3L254.9 471.4L255.7 471.2L258.5 471.3L259.3 471.1L263.4 471.0L266.6 470.7L273.2 469.5L274.0 469.5L276.6 468.8L277.8 468.7L281.0 467.9L282.6 467.7L295.9 464.1L296.5 463.7L297.9 463.4L299.9 462.2L304.3 460.5L307.4 459.6L309.6 459.2L305.5 458.2L299.3 456.0L297.7 454.8L293.3 452.7L285.9 449.9L283.2 449.2L280.8 448.1L273.4 446.2L272.8 446.2L269.4 445.4L268.4 445.4L266.8 445.0L265.8 445.0L262.8 444.5Z" fill="#00ff00"/>
<path d="M260.5 444.7L252.3 444.9L251.7 445.2L250.7 445.2L250.1 445.5L247.7 445.9L246.7 446.4L245.7 446.4L242.9 447.8L241.7 448.8L240.5 449.4L238.8 451.0L236.7 453.8L235.8 456.2L235.6 457.6L235.6 458.9L235.8 459.4L235.8 460.6L236.6 463.2L239.3 466.4L243.5 469.0L247.5 470.2L252.3 470.7L252.9 471.0L254.9 471.1L255.7 470.8L258.5 470.9L259.3 470.7L263.4 470.6L265.8 470.2L266.6 470.2L270.6 469.4L271.4 469.4L273.0 469.0L274.0 469.0L280.4 467.4L282.4 467.1L295.7 463.4L296.3 463.0L297.7 462.7L299.9 461.5L301.7 460.8L304.7 459.9L308.0 459.2L304.9 458.5L299.3 456.6L296.5 454.9L291.3 452.5L285.7 450.4L283.0 449.7L280.4 448.6L274.8 447.0L273.4 446.7L272.6 446.7L269.6 445.9L268.4 445.8L266.8 445.4L265.8 445.4L264.2 445.0L260.5 444.7Z" fill="#00ff00"/>
<path d="M260.3 445.2L252.3 445.3L251.7 445.6L250.7 445.6L248.9 446.1L247.9 446.2L246.9 446.7L245.9 446.7L244.5 447.3L240.5 449.7L238.9 451.3L236.8 453.9L236.0 456.3L236.0 457.1L235.8 457.6L236.0 460.4L236.4 462.1L236.8 463.1L238.4 465.2L239.1 465.6L239.5 466.2L243.5 468.6L244.3 468.7L245.1 469.2L246.1 469.3L247.5 469.8L248.9 469.9L249.5 470.1L252.3 470.2L252.9 470.5L254.9 470.5L255.5 470.3L258.5 470.3L259.1 470.1L263.4 470.0L264.0 469.7L266.6 469.5L268.0 469.1L269.0 469.1L270.4 468.6L271.4 468.6L272.8 468.2L273.8 468.2L276.8 467.3L277.8 467.3L279.0 467.0L280.6 466.4L282.0 466.3L284.4 465.4L285.5 465.3L290.3 463.8L295.3 462.4L295.9 462.0L298.6 461.1L299.7 460.5L304.5 459.2L299.1 457.6L297.1 456.4L292.7 454.2L287.3 452.0L283.2 450.7L280.2 449.4L273.8 447.5L272.4 447.4L269.4 446.5L268.2 446.5L266.8 446.0L265.6 446.0L264.2 445.6L263.2 445.6L262.6 445.4L260.7 445.4L260.3 445.2Z" fill="#7dff00"/>
<path d="M260.3 445.6L252.3 445.6L251.9 445.9L250.7 445.9L250.3 446.2L247.9 446.5L247.1 446.9L245.9 447.0L245.1 447.5L244.7 447.5L244.1 448.0L243.7 448.0L243.5 448.3L243.1 448.3L242.7 448.5L242.3 449.0L241.5 449.5L241.1 449.5L240.7 449.8L240.1 450.5L239.9 450.5L239.3 451.3L239.1 451.3L238.7 452.1L238.4 452.1L237.4 453.3L237.4 453.6L237.2 453.6L236.8 454.1L236.4 455.1L236.4 455.6L236.0 456.3L236.0 457.4L235.8 457.6L236.0 460.4L236.2 460.6L236.4 461.9L236.8 462.9L237.2 463.4L237.4 463.4L237.4 463.7L238.0 464.4L238.2 464.4L238.7 465.2L239.3 465.4L239.7 466.2L241.3 467.2L241.7 467.2L242.7 468.0L243.1 468.0L243.7 468.5L244.5 468.5L245.3 469.0L246.1 469.0L247.5 469.5L249.1 469.6L249.5 469.8L252.5 469.9L252.9 470.1L254.9 470.2L255.3 469.9L258.5 469.9L258.9 469.7L261.0 469.7L261.4 469.5L263.4 469.5L263.8 469.2L265.0 469.3L265.4 469.0L266.6 469.0L267.8 468.5L269.0 468.6L270.2 468.1L271.4 468.1L272.6 467.6L273.8 467.6L276.6 466.7L278.0 466.6L280.6 465.7L281.8 465.6L284.3 464.7L285.3 464.7L287.7 463.7L288.5 463.7L290.1 463.0L290.9 463.0L291.9 462.5L294.9 461.7L296.3 461.0L296.9 461.0L298.3 460.4L299.5 459.8L301.9 459.2L301.9 459.0L298.9 458.4L296.8 457.1L290.7 454.1L287.1 452.6L283.0 451.3L280.0 449.9L273.6 448.0L272.2 447.9L269.2 447.0L268.0 447.0L266.8 446.5L265.4 446.5L264.2 446.0L263.0 446.0L262.6 445.8L260.5 445.8L260.3 445.6Z" fill="#faf500"/>
<path d="M260.1 445.7L252.3 445.7L252.1 446.0L250.7 446.0L250.5 446.3L247.9 446.5L247.1 447.0L245.9 447.0L245.7 447.3L244.7 447.5L244.1 448.0L243.7 448.0L243.5 448.3L243.1 448.3L242.7 448.5L242.3 449.0L241.5 449.5L241.1 449.5L240.7 449.8L240.1 450.5L239.9 450.5L239.3 451.3L239.1 451.3L238.7 452.1L238.4 452.1L237.4 453.3L237.4 453.6L237.2 453.6L236.8 454.1L236.4 455.1L236.4 455.6L236.0 456.3L236.0 457.4L235.8 457.6L236.0 460.4L236.2 460.6L236.4 461.9L236.8 462.9L237.2 463.4L237.4 463.4L237.4 463.7L238.0 464.4L238.2 464.4L238.7 465.2L239.3 465.4L239.7 466.2L241.3 467.2L241.7 467.2L243.7 468.5L244.5 468.5L245.3 469.0L246.3 469.0L246.5 469.2L247.3 469.2L247.5 469.5L249.3 469.5L249.5 469.7L252.7 469.7L252.9 470.0L254.9 470.0L255.1 469.7L258.5 469.7L258.7 469.5L261.0 469.5L261.2 469.2L263.4 469.2L263.6 469.0L266.6 468.7L266.8 468.5L267.4 468.5L267.6 468.2L269.0 468.2L269.2 468.0L269.8 468.0L270.0 467.7L271.4 467.7L271.6 467.5L272.2 467.5L272.4 467.2L273.8 467.2L274.0 467.0L275.4 466.7L276.4 466.3L277.8 466.2L278.0 466.0L279.4 465.7L280.4 465.2L281.6 465.2L284.1 464.2L285.1 464.2L287.5 463.3L288.3 463.3L289.9 462.5L290.7 462.5L291.7 462.0L292.3 462.0L294.1 461.3L294.7 461.3L296.1 460.5L296.7 460.5L297.7 460.0L298.9 459.7L299.1 459.4L300.3 459.2L300.3 459.0L298.7 458.8L296.7 457.6L290.5 454.5L286.9 453.0L286.5 453.0L284.9 452.3L282.8 451.7L279.8 450.3L277.6 449.7L277.4 449.5L275.2 449.0L275.0 448.8L274.4 448.7L274.2 448.5L273.6 448.5L273.4 448.3L272.0 448.2L271.8 448.0L271.2 448.0L271.0 447.8L270.2 447.8L270.0 447.5L269.4 447.5L269.2 447.3L267.8 447.3L267.6 447.0L267.0 447.0L266.8 446.8L265.2 446.8L265.0 446.5L264.4 446.5L264.2 446.3L262.8 446.3L262.6 446.0L260.3 446.0L260.1 445.7Z" fill="#ff9b00"/>
<path d="M260.1 445.7L252.3 445.7L252.1 446.0L250.7 446.0L250.5 446.3L247.9 446.5L247.1 447.0L245.9 447.0L245.7 447.3L244.7 447.5L244.1 448.0L243.7 448.0L243.5 448.3L243.1 448.3L242.7 448.5L242.3 449.0L241.5 449.5L241.1 449.5L240.7 449.8L240.1 450.5L239.9 450.5L239.3 451.3L239.1 451.3L238.7 452.1L238.4 452.1L237.4 453.3L237.4 453.6L237.2 453.6L236.8 454.1L236.4 455.1L236.4 455.6L236.0 456.3L236.0 457.4L235.8 457.6L236.0 460.4L236.2 460.6L236.4 461.9L236.8 462.9L237.2 463.4L237.4 463.4L237.4 463.7L238.0 464.4L238.2 464.4L238.7 465.2L239.3 465.4L239.7 466.2L241.3 467.2L241.7 467.2L243.7 468.5L244.5 468.5L245.3 469.0L246.3 469.0L246.5 469.2L247.3 469.2L247.5 469.5L249.3 469.5L249.5 469.7L252.7 469.7L252.9 470.0L254.9 470.0L255.1 469.7L258.5 469.7L258.7 469.5L261.0 469.5L261.2 469.2L263.4 469.2L263.6 469.0L266.6 468.7L266.8 468.5L267.4 468.5L267.6 468.2L269.0 468.2L269.2 468.0L269.8 468.0L270.0 467.7L271.4 467.7L271.6 467.5L272.2 467.5L272.4 467.2L273.8 467.2L274.0 466.9L274.6 466.9L274.8 466.7L276.2 466.4L276.4 466.2L277.8 466.2L278.0 465.9L279.4 465.7L280.2 465.2L281.6 465.2L281.8 464.9L282.2 464.9L282.4 464.7L283.0 464.7L283.9 464.2L285.1 464.2L285.3 463.9L285.9 463.9L286.1 463.7L287.1 463.4L287.3 463.2L288.3 463.2L288.5 462.9L289.5 462.7L289.7 462.4L290.7 462.4L291.5 461.9L292.3 461.9L292.5 461.6L292.9 461.6L293.1 461.4L293.7 461.4L293.9 461.1L294.7 461.1L295.9 460.4L296.7 460.4L297.5 459.9L298.9 459.6L299.1 459.2L299.3 459.2L298.5 458.9L298.3 458.6L297.9 458.6L296.5 457.6L296.1 457.6L294.5 456.6L294.1 456.6L292.1 455.3L291.1 455.1L290.5 454.6L289.5 454.3L289.3 454.1L288.9 454.1L288.7 453.8L287.7 453.6L287.5 453.3L287.1 453.3L286.9 453.1L286.3 453.1L286.1 452.8L285.1 452.6L284.9 452.3L284.3 452.3L283.5 451.8L282.8 451.8L282.6 451.6L281.6 451.3L281.0 450.8L280.0 450.5L279.8 450.3L279.2 450.3L279.0 450.0L277.6 449.8L277.4 449.5L276.0 449.3L275.8 449.0L275.2 449.0L275.0 448.8L274.4 448.8L274.2 448.5L273.6 448.5L273.4 448.3L272.0 448.3L271.8 448.0L271.2 448.0L271.0 447.8L270.2 447.8L270.0 447.5L269.4 447.5L269.2 447.3L267.8 447.3L267.6 447.0L267.0 447.0L266.8 446.8L265.2 446.8L265.0 446.5L264.4 446.5L264.2 446.3L262.8 446.3L262.6 446.0L260.3 446.0L260.1 445.7Z" fill="#ff3700"/>
<path d="M236.2 459.1L236.2 458.7L236.2 458.2L236.2 457.8L236.3 457.3L236.3 456.9L236.4 456.4L236.5 456.0L236.7 455.5L236.8 455.1L237.0 454.7L237.2 454.2L237.4 453.8L237.7 453.4L237.9 453.0L238.2 452.6L238.5 452.2L238.9 451.8L239.2 451.4L239.6 451.1L240.0 450.7L240.4 450.4L240.8 450.0L241.3 449.7L241.8 449.4L242.3 449.1L242.8 448.8L243.3 448.5L243.9 448.2L244.5 447.9L245.0 447.7L245.6 447.5L246.3 447.2L246.9 447.0L247.6 446.9L248.2 446.7L248.9 446.5L249.6 446.4L250.3 446.3L251.1 446.1L251.8 446.1L252.6 446.0L253.3 445.9L254.1 445.9L254.9 445.8L255.7 445.8L256.5 445.8L257.3 445.8L258.1 445.9L258.9 445.9L259.7 446.0L260.6 446.1L261.4 446.1L262.2 446.2L263.1 446.4L263.9 446.5L264.7 446.6L265.6 446.8L266.4 446.9L267.3 447.1L268.1 447.3L268.9 447.5L269.8 447.7L270.6 447.9L271.4 448.1L272.3 448.3L273.1 448.5L273.9 448.7L274.7 449.0L275.5 449.2L276.3 449.5L277.1 449.7L277.9 450.0L278.7 450.2L279.5 450.5L280.2 450.8L281.0 451.0L281.7 451.3L282.5 451.6L283.2 451.9L283.9 452.1L284.6 452.4L285.3 452.7L286.0 453.0L286.6 453.2L287.3 453.5L287.9 453.8L288.6 454.0L289.2 454.3L289.7 454.6L290.3 454.8L290.9 455.1L291.4 455.3L292.0 455.6L292.5 455.8L293.0 456.0L293.4 456.3L293.9 456.5L294.3 456.7L294.7 456.9L295.1 457.1L295.5 457.3L295.9 457.5L296.2 457.7L296.5 457.9L296.9 458.0L297.1 458.2L297.4 458.3L297.6 458.4L297.9 458.5L298.1 458.7L298.2 458.8L298.4 458.8L298.5 458.9L298.7 459.0L298.7 459.0L298.8 459.1L298.9 459.1L298.9 459.1L298.9 459.1L298.9 459.1L298.9 459.1L298.8 459.2L298.7 459.2L298.6 459.2L298.5 459.3L298.4 459.3L298.2 459.4L298.0 459.4L297.8 459.5L297.6 459.6L297.3 459.7L297.1 459.8L296.8 459.9L296.4 460.0L296.1 460.1L295.7 460.2L295.4 460.4L295.0 460.5L294.6 460.7L294.1 460.8L293.7 460.9L293.2 461.1L292.7 461.3L292.2 461.4L291.7 461.6L291.2 461.8L290.6 462.0L290.0 462.1L289.4 462.3L288.8 462.5L288.2 462.7L287.6 462.9L286.9 463.1L286.3 463.3L285.6 463.5L284.9 463.7L284.2 463.9L283.5 464.1L282.8 464.3L282.1 464.5L281.4 464.7L280.6 464.9L279.9 465.1L279.1 465.3L278.3 465.5L277.6 465.7L276.8 465.9L276.0 466.1L275.2 466.3L274.4 466.5L273.6 466.7L272.8 466.9L272.0 467.1L271.2 467.3L270.3 467.4L269.5 467.6L268.7 467.8L267.9 467.9L267.1 468.1L266.3 468.2L265.4 468.4L264.6 468.5L263.8 468.6L263.0 468.7L262.2 468.9L261.4 469.0L260.6 469.0L259.9 469.1L259.1 469.2L258.3 469.3L257.6 469.3L256.8 469.4L256.1 469.4L255.3 469.5L254.6 469.5L253.9 469.5L253.2 469.5L252.5 469.5L251.8 469.4L251.1 469.4L250.5 469.4L249.8 469.3L249.1 469.2L248.5 469.1L247.9 469.0L247.3 468.9L246.7 468.8L246.1 468.6L245.5 468.5L245.0 468.3L244.4 468.2L243.9 468.0L243.4 467.8L242.9 467.5L242.4 467.3L241.9 467.1L241.5 466.8L241.0 466.6L240.6 466.3L240.2 466.0L239.8 465.7L239.5 465.4L239.1 465.1L238.8 464.7L238.5 464.4L238.2 464.0L237.9 463.7L237.7 463.3L237.4 462.9L237.2 462.5L237.0 462.2L236.8 461.7L236.7 461.3L236.6 460.9L236.4 460.5L236.4 460.0L236.3 459.6L236.2 459.1Z" fill="#555" stroke="#cc5c14" stroke-width="0.55"/>
<rect x="387.3" y="421.3" width="155.8" height="78.1" fill="#020cfc"/>
<path d="M462.2 432.6L460.8 432.3L458.4 433.0L455.8 432.4L453.0 433.1L450.2 432.8L447.8 433.2L444.6 433.1L443.2 433.2L442.2 433.1L439.6 433.8L436.8 434.0L435.8 434.4L433.8 435.6L432.6 435.4L431.4 435.7L430.4 436.5L427.8 437.7L426.2 438.9L424.7 439.7L423.3 441.6L421.9 442.6L418.5 446.4L416.7 447.1L414.9 448.3L414.3 449.3L413.5 451.3L411.8 453.6L410.5 456.3L410.3 457.6L411.3 459.6L411.5 460.9L411.4 461.4L410.2 462.9L410.1 463.6L412.5 468.5L414.9 470.5L416.1 472.3L417.3 472.9L418.5 473.1L419.3 473.9L421.3 476.6L422.5 477.6L425.7 479.3L427.2 480.8L428.2 481.3L431.6 482.6L434.0 483.1L435.4 483.8L437.0 484.1L438.0 484.0L440.6 484.8L441.6 484.7L444.0 484.9L445.4 485.3L449.2 485.7L451.0 485.5L453.0 484.5L454.2 484.4L455.4 484.5L458.6 485.4L462.6 484.8L469.0 485.3L471.8 484.4L474.0 484.2L475.6 483.4L477.4 483.2L479.2 481.9L480.2 481.5L482.4 481.9L485.6 481.2L490.4 480.9L493.0 479.9L496.0 479.7L498.4 479.1L501.4 479.3L502.6 479.2L504.0 478.8L506.3 477.6L507.3 477.3L509.7 477.4L512.1 476.8L515.1 477.3L520.1 476.0L523.1 476.6L528.1 474.4L529.3 473.5L530.3 472.1L531.5 469.3L532.5 464.9L532.7 463.2L532.7 457.9L532.3 454.2L531.5 450.9L530.1 447.8L529.5 447.0L528.7 446.4L527.5 446.0L524.5 445.4L521.9 444.5L518.1 444.0L514.9 444.3L511.9 443.2L507.5 442.9L504.5 441.9L501.6 442.2L499.0 440.9L496.2 441.1L493.4 440.1L490.6 440.0L488.2 439.6L485.4 440.2L484.4 439.8L482.6 438.3L480.0 436.8L477.6 436.7L474.4 434.6L473.0 434.0L471.6 433.6L469.4 433.5L466.6 433.0L464.0 433.4L462.2 432.6Z" fill="#0e3cfc"/>
<path d="M461 435h1v1h-1zM452 437h1v1h-1zM459 438h2v1h-2zM458 439h1v1h-1zM446 440h1v1h-1zM465 440h2v1h-2zM443 441h5v1h-5zM460 441h1v1h-1zM431 442h2v1h-2zM435 442h1v1h-1zM441 442h1v1h-1zM445 442h1v1h-1zM451 442h1v1h-1zM464 442h2v1h-2zM469 442h1v1h-1zM435 443h3v1h-3zM445 443h1v1h-1zM450 443h3v1h-3zM463 443h1v1h-1zM465 443h1v1h-1zM424 444h3v1h-3zM428 444h2v1h-2zM435 444h3v1h-3zM440 444h1v1h-1zM451 444h3v1h-3zM457 444h2v1h-2zM467 444h1v1h-1zM470 444h3v1h-3zM424 445h2v1h-2zM433 445h5v1h-5zM448 445h1v1h-1zM456 445h6v1h-6zM475 445h1v1h-1zM424 446h1v1h-1zM430 446h2v1h-2zM433 446h6v1h-6zM441 446h2v1h-2zM444 446h2v1h-2zM457 446h1v1h-1zM460 446h2v1h-2zM468 446h2v1h-2zM474 446h2v1h-2zM484 446h1v1h-1zM422 447h1v1h-1zM427 447h4v1h-4zM447 447h5v1h-5zM455 447h1v1h-1zM457 447h1v1h-1zM460 447h3v1h-3zM468 447h3v1h-3zM473 447h3v1h-3zM422 448h6v1h-6zM450 448h7v1h-7zM466 448h1v1h-1zM473 448h2v1h-2zM423 449h3v1h-3zM454 449h6v1h-6zM472 449h2v1h-2zM478 449h3v1h-3zM511 449h1v1h-1zM419 450h1v1h-1zM422 450h2v1h-2zM458 450h5v1h-5zM479 450h1v1h-1zM484 450h1v1h-1zM461 451h4v1h-4zM467 451h1v1h-1zM481 451h1v1h-1zM483 451h1v1h-1zM487 451h1v1h-1zM499 451h1v1h-1zM416 452h2v1h-2zM420 452h1v1h-1zM464 452h2v1h-2zM477 452h3v1h-3zM487 452h1v1h-1zM495 452h1v1h-1zM499 452h1v1h-1zM528 452h1v1h-1zM417 453h1v1h-1zM419 453h2v1h-2zM469 453h1v1h-1zM478 453h2v1h-2zM487 453h2v1h-2zM418 454h2v1h-2zM469 454h4v1h-4zM478 454h1v1h-1zM489 454h1v1h-1zM416 455h3v1h-3zM471 455h2v1h-2zM489 455h2v1h-2zM416 456h1v1h-1zM418 456h1v1h-1zM475 456h2v1h-2zM486 456h1v1h-1zM488 456h2v1h-2zM530 456h1v1h-1zM417 457h1v1h-1zM475 457h4v1h-4zM488 457h2v1h-2zM502 457h2v1h-2zM505 457h1v1h-1zM510 457h1v1h-1zM513 457h1v1h-1zM515 457h2v1h-2zM417 458h1v1h-1zM477 458h2v1h-2zM499 458h1v1h-1zM501 458h3v1h-3zM505 458h2v1h-2zM511 458h1v1h-1zM516 458h1v1h-1zM416 459h2v1h-2zM480 459h2v1h-2zM486 459h3v1h-3zM490 459h3v1h-3zM494 459h3v1h-3zM499 459h1v1h-1zM501 459h1v1h-1zM505 459h2v1h-2zM511 459h7v1h-7zM520 459h3v1h-3zM415 460h3v1h-3zM481 460h1v1h-1zM486 460h3v1h-3zM490 460h4v1h-4zM495 460h1v1h-1zM499 460h1v1h-1zM503 460h2v1h-2zM511 460h10v1h-10zM522 460h1v1h-1zM417 461h1v1h-1zM478 461h1v1h-1zM481 461h2v1h-2zM491 461h3v1h-3zM498 461h7v1h-7zM514 461h2v1h-2zM418 462h1v1h-1zM475 462h4v1h-4zM482 462h2v1h-2zM491 462h2v1h-2zM500 462h3v1h-3zM514 462h2v1h-2zM471 463h6v1h-6zM482 463h2v1h-2zM503 463h1v1h-1zM419 464h1v1h-1zM468 464h5v1h-5zM480 464h1v1h-1zM490 464h1v1h-1zM416 465h1v1h-1zM420 465h1v1h-1zM465 465h5v1h-5zM505 465h1v1h-1zM420 466h2v1h-2zM463 466h4v1h-4zM470 466h1v1h-1zM474 466h2v1h-2zM419 467h1v1h-1zM421 467h2v1h-2zM458 467h6v1h-6zM481 467h1v1h-1zM488 467h1v1h-1zM422 468h2v1h-2zM454 468h3v1h-3zM458 468h2v1h-2zM477 468h1v1h-1zM420 469h7v1h-7zM449 469h1v1h-1zM451 469h1v1h-1zM454 469h2v1h-2zM463 469h1v1h-1zM470 469h2v1h-2zM476 469h4v1h-4zM495 469h1v1h-1zM506 469h1v1h-1zM421 470h2v1h-2zM425 470h7v1h-7zM441 470h9v1h-9zM459 470h2v1h-2zM463 470h3v1h-3zM476 470h2v1h-2zM487 470h1v1h-1zM495 470h1v1h-1zM502 470h1v1h-1zM507 470h1v1h-1zM421 471h1v1h-1zM424 471h1v1h-1zM428 471h18v1h-18zM465 471h2v1h-2zM470 471h4v1h-4zM425 472h2v1h-2zM444 472h1v1h-1zM455 472h1v1h-1zM458 472h1v1h-1zM467 472h6v1h-6zM425 473h2v1h-2zM430 473h2v1h-2zM448 473h1v1h-1zM450 473h1v1h-1zM455 473h2v1h-2zM463 473h1v1h-1zM467 473h4v1h-4zM431 474h1v1h-1zM434 474h1v1h-1zM439 474h1v1h-1zM442 474h1v1h-1zM445 474h2v1h-2zM450 474h4v1h-4zM461 474h4v1h-4zM473 474h1v1h-1zM479 474h1v1h-1zM430 475h1v1h-1zM439 475h4v1h-4zM445 475h2v1h-2zM449 475h4v1h-4zM458 475h1v1h-1zM463 475h2v1h-2zM472 475h2v1h-2zM430 476h2v1h-2zM440 476h4v1h-4zM447 476h3v1h-3zM451 476h1v1h-1zM458 476h1v1h-1zM472 476h3v1h-3zM441 477h6v1h-6zM458 477h1v1h-1zM460 477h1v1h-1zM442 478h2v1h-2zM445 478h1v1h-1zM457 478h1v1h-1z" fill="#020cfc"/>
<path d="M441 439h1v1h-1zM430 444h1v1h-1zM476 445h1v1h-1zM479 455h1v1h-1zM502 460h1v1h-1zM470 467h1v1h-1zM471 467h1v1h-1zM487 469h1v1h-1zM420 470h1v1h-1z" fill="#2a7cfa"/>
<path d="M424.7 472.5L426.4 473.4L428.1 473.9L429.8 474.3L431.6 474.5L433.3 474.7L435.0 474.8L436.7 474.9L438.4 474.8L440.2 474.7L441.9 474.6L443.6 474.5L445.3 474.3L447.0 474.1L448.8 473.7L450.5 473.4L452.2 473.1L453.9 472.8L455.6 472.5L457.4 472.1L459.1 471.8L460.8 471.2L462.5 470.8L464.2 470.4L466.0 469.9L467.7 469.5L469.4 468.9L471.1 468.4L472.8 467.9L474.5 467.4L474.5 469.1L472.8 469.6L471.1 470.1L469.4 470.6L467.7 471.2L466.0 471.6L464.2 472.1L462.5 472.5L460.8 472.9L459.1 473.5L457.4 473.8L455.6 474.2L453.9 474.5L452.2 474.8L450.5 475.1L448.8 475.4L447.0 475.8L445.3 476.0L443.6 476.2L441.9 476.3L440.2 476.4L438.4 476.5L436.7 476.6L435.0 476.5L433.3 476.4L431.6 476.2L429.8 476.0L428.1 475.6L426.4 475.1L424.7 474.2Z" fill="#34a4fa"/>
<path d="M418.5 460.4L418.4 459.9L418.4 459.4L418.5 459.0L418.5 458.5L418.6 458.1L418.6 457.7L418.8 457.2L418.9 456.8L419.0 456.4L419.2 455.9L419.4 455.5L419.6 455.1L419.9 454.7L420.1 454.3L420.4 453.9L420.7 453.5L421.1 453.1L421.4 452.7L421.8 452.4L422.2 452.0L422.6 451.7L423.0 451.3L423.5 451.0L424.0 450.7L424.5 450.4L425.0 450.1L425.5 449.8L426.1 449.5L426.6 449.3L427.2 449.0L427.8 448.8L428.4 448.6L429.1 448.4L429.7 448.2L430.4 448.0L431.1 447.9L431.8 447.7L432.5 447.6L433.2 447.5L433.9 447.4L434.7 447.3L435.4 447.2L436.2 447.2L437.0 447.2L437.8 447.2L438.6 447.2L439.4 447.2L440.2 447.2L441.0 447.3L441.8 447.3L442.7 447.4L443.5 447.5L444.3 447.6L445.1 447.7L446.0 447.8L446.8 448.0L447.6 448.1L448.5 448.3L449.3 448.4L450.1 448.6L451.0 448.8L451.8 449.0L452.6 449.2L453.4 449.4L454.3 449.6L455.1 449.8L455.9 450.1L456.7 450.3L457.5 450.5L458.3 450.8L459.1 451.0L459.9 451.3L460.7 451.5L461.4 451.8L462.2 452.1L463.0 452.3L463.7 452.6L464.4 452.9L465.2 453.1L465.9 453.4L466.6 453.7L467.2 454.0L467.9 454.2L468.6 454.5L469.2 454.8L469.9 455.0L470.5 455.3L471.1 455.6L471.7 455.8L472.2 456.1L472.8 456.3L473.3 456.6L473.9 456.8L474.4 457.1L474.8 457.3L475.3 457.5L475.8 457.7L476.2 458.0L476.6 458.2L477.0 458.4L477.4 458.6L477.8 458.7L478.1 458.9L478.4 459.1L478.7 459.2L479.0 459.4L479.3 459.5L479.5 459.7L479.7 459.8L479.9 459.9L480.1 460.0L480.3 460.1L480.4 460.1L480.5 460.2L480.6 460.3L480.7 460.3L480.7 460.3L480.8 460.3L480.8 460.4L480.8 460.4L480.7 460.4L480.7 460.4L480.6 460.4L480.5 460.5L480.4 460.5L480.2 460.5L480.1 460.6L479.9 460.7L479.7 460.7L479.4 460.8L479.2 460.9L478.9 461.0L478.6 461.1L478.3 461.2L478.0 461.3L477.6 461.5L477.3 461.6L476.9 461.7L476.4 461.9L476.0 462.0L475.6 462.2L475.1 462.3L474.6 462.5L474.1 462.6L473.6 462.8L473.1 463.0L472.5 463.2L471.9 463.3L471.4 463.5L470.8 463.7L470.1 463.9L469.5 464.1L468.9 464.3L468.2 464.5L467.6 464.7L466.9 464.9L466.2 465.1L465.5 465.3L464.8 465.5L464.1 465.7L463.3 465.9L462.6 466.1L461.8 466.3L461.1 466.5L460.3 466.7L459.5 466.9L458.8 467.1L458.0 467.3L457.2 467.5L456.4 467.7L455.6 467.9L454.8 468.0L454.0 468.2L453.2 468.4L452.4 468.6L451.6 468.8L450.7 468.9L449.9 469.1L449.1 469.2L448.3 469.4L447.5 469.5L446.7 469.6L445.9 469.8L445.1 469.9L444.3 470.0L443.5 470.1L442.7 470.2L441.9 470.3L441.2 470.4L440.4 470.4L439.7 470.5L438.9 470.5L438.2 470.6L437.5 470.6L436.7 470.6L436.0 470.6L435.3 470.6L434.6 470.6L433.9 470.6L433.3 470.5L432.6 470.5L431.9 470.4L431.3 470.4L430.7 470.3L430.0 470.2L429.4 470.1L428.8 469.9L428.3 469.8L427.7 469.6L427.1 469.5L426.6 469.3L426.1 469.1L425.5 468.9L425.1 468.7L424.6 468.5L424.1 468.2L423.7 468.0L423.2 467.7L422.8 467.5L422.4 467.2L422.0 466.9L421.7 466.6L421.3 466.2L421.0 465.9L420.7 465.6L420.4 465.2L420.1 464.9L419.9 464.5L419.6 464.1L419.4 463.7L419.2 463.4L419.1 462.9L418.9 462.5L418.8 462.1L418.7 461.7L418.6 461.2L418.5 460.8L418.5 460.4Z" fill="#555"/>
<g class="tk"><text x="20.1" y="423.0" text-anchor="end">0.5</text><text x="20.1" y="442.0" text-anchor="end">0.25</text><text x="20.1" y="461.0" text-anchor="end">0</text><text x="20.1" y="481.0" text-anchor="end">-0.25</text><text x="20.1" y="500.0" text-anchor="end">-0.5</text><text x="24.3" y="503.0" text-anchor="middle">-0.5</text><text x="55.3" y="503.0" text-anchor="middle">0</text><text x="86.2" y="503.0" text-anchor="middle">0.5</text><text x="117.2" y="503.0" text-anchor="middle">1</text><text x="148.1" y="503.0" text-anchor="middle">1.5</text><text x="179.1" y="503.0" text-anchor="middle">2</text></g><text class="ax" x="101.7" y="509.0" text-anchor="middle">x</text><text class="ax" transform="translate(8.5 459.6) rotate(-90)" text-anchor="middle">y</text>
<g class="tk"><text x="200.7" y="422.0" text-anchor="end">0.5</text><text x="200.7" y="441.0" text-anchor="end">0.25</text><text x="200.7" y="461.0" text-anchor="end">0</text><text x="200.7" y="481.0" text-anchor="end">-0.25</text><text x="200.7" y="500.0" text-anchor="end">-0.5</text><text x="204.9" y="503.0" text-anchor="middle">-0.5</text><text x="236.2" y="503.0" text-anchor="middle">0</text><text x="267.6" y="503.0" text-anchor="middle">0.5</text><text x="298.9" y="503.0" text-anchor="middle">1</text><text x="330.3" y="503.0" text-anchor="middle">1.5</text><text x="361.6" y="503.0" text-anchor="middle">2</text></g><text class="ax" x="283.2" y="509.0" text-anchor="middle">x</text><text class="ax" transform="translate(189.1 459.1) rotate(-90)" text-anchor="middle">y</text>
<g class="tk"><text x="383.1" y="423.0" text-anchor="end">0.5</text><text x="383.1" y="443.0" text-anchor="end">0.25</text><text x="383.1" y="462.0" text-anchor="end">0</text><text x="383.1" y="482.0" text-anchor="end">-0.25</text><text x="383.1" y="501.0" text-anchor="end">-0.5</text><text x="387.3" y="504.0" text-anchor="middle">-0.5</text><text x="418.5" y="504.0" text-anchor="middle">0</text><text x="449.6" y="504.0" text-anchor="middle">0.5</text><text x="480.8" y="504.0" text-anchor="middle">1</text><text x="511.9" y="504.0" text-anchor="middle">1.5</text><text x="543.1" y="504.0" text-anchor="middle">2</text></g><text class="ax" x="465.2" y="510.0" text-anchor="middle">x</text><text class="ax" transform="translate(371.5 460.4) rotate(-90)" text-anchor="middle">y</text>
<text class="cap" x="274.5" y="165.8" text-anchor="middle">(<tspan font-weight="bold">a</tspan>) NACA 2412</text>
<text class="cap" x="274.5" y="285.5" text-anchor="middle">(<tspan font-weight="bold">b</tspan>) NACA 5412</text>
<text class="cap" x="274.5" y="405.5" text-anchor="middle">(<tspan font-weight="bold">c</tspan>) NACA 2912</text>
<text class="cap" x="274.5" y="527.2" text-anchor="middle">(<tspan font-weight="bold">d</tspan>) NACA 2430</text>
</svg>
</body></html>
